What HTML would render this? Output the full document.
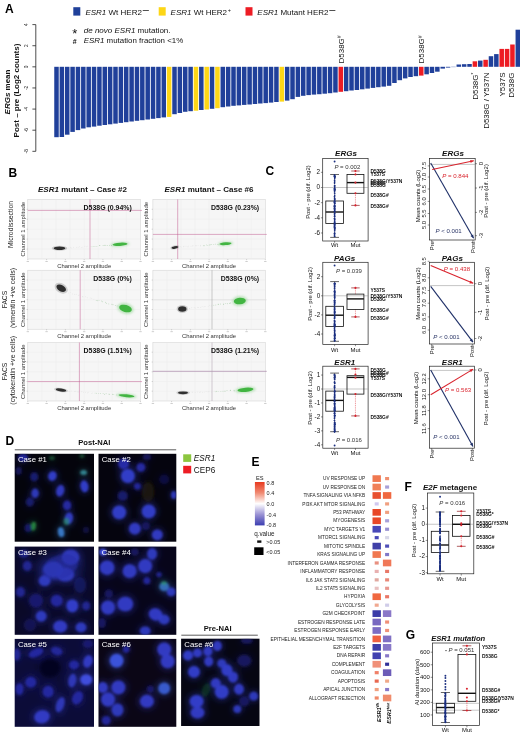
<!DOCTYPE html>
<html><head><meta charset="utf-8"><title>Figure</title>
<style>
html,body{margin:0;padding:0;background:#fff;}
body{width:520px;height:735px;overflow:hidden;}
svg{display:block;font-family:"Liberation Sans",sans-serif;filter:blur(0.35px);}
</style></head><body>
<svg width="520" height="735" viewBox="0 0 520 735">
<rect width="520" height="735" fill="#fff"/>
<g id="panelA">
<rect x="73.30" y="7.20" width="7.00" height="8.40" fill="#20409a" stroke="none" stroke-width="0.5"/>
<text x="85.4" y="15.1" font-size="8.0" text-anchor="start" font-weight="normal" font-style="normal" fill="#111"><tspan font-style="italic">ESR1</tspan> Wt HER2<tspan font-size="11" dy="-2.2" dx="0.8">–</tspan></text>
<rect x="158.70" y="7.20" width="7.00" height="8.40" fill="#fdd616" stroke="none" stroke-width="0.5"/>
<text x="170.6" y="15.1" font-size="8.0" text-anchor="start" font-weight="normal" font-style="normal" fill="#111"><tspan font-style="italic">ESR1</tspan> Wt HER2<tspan font-size="5.5" dy="-3" dx="0.8">+</tspan></text>
<rect x="245.50" y="7.20" width="7.00" height="8.40" fill="#ed1c24" stroke="none" stroke-width="0.5"/>
<text x="257.3" y="15.1" font-size="8.0" text-anchor="start" font-weight="normal" font-style="normal" fill="#111"><tspan font-style="italic">ESR1</tspan> Mutant HER2<tspan font-size="11" dy="-2.2" dx="0.8">–</tspan></text>
<text x="72.2" y="38.3" font-size="13" text-anchor="start" font-weight="normal" font-style="normal" fill="#111">*</text>
<text x="83.8" y="33" font-size="8" text-anchor="start" font-weight="normal" font-style="normal" fill="#111"><tspan font-style="italic">de novo ESR1</tspan> mutation.</text>
<text x="72.8" y="44" font-size="7" text-anchor="start" font-weight="bold" font-style="normal" fill="#111">#</text>
<text x="83.8" y="43.2" font-size="7.9" text-anchor="start" font-weight="normal" font-style="normal" fill="#111"><tspan font-style="italic">ESR1</tspan> mutation fraction &lt;1%</text>
<text x="5" y="13" font-size="12" text-anchor="start" font-weight="bold" font-style="normal" fill="#000">A</text>
<line x1="35.8" y1="24.6" x2="35.8" y2="151.3" stroke="#222" stroke-width="0.8"/>
<line x1="32.4" y1="24.6" x2="35.8" y2="24.6" stroke="#222" stroke-width="0.8"/>
<text x="27.7" y="24.6" font-size="4.8" text-anchor="middle" font-weight="normal" font-style="normal" fill="#222" transform="rotate(-90 27.7 24.6)">4</text>
<line x1="32.4" y1="45.72" x2="35.8" y2="45.72" stroke="#222" stroke-width="0.8"/>
<text x="27.7" y="45.72" font-size="4.8" text-anchor="middle" font-weight="normal" font-style="normal" fill="#222" transform="rotate(-90 27.7 45.72)">2</text>
<line x1="32.4" y1="66.84" x2="35.8" y2="66.84" stroke="#222" stroke-width="0.8"/>
<text x="27.7" y="66.84" font-size="4.8" text-anchor="middle" font-weight="normal" font-style="normal" fill="#222" transform="rotate(-90 27.7 66.84)">0</text>
<line x1="32.4" y1="87.96000000000001" x2="35.8" y2="87.96000000000001" stroke="#222" stroke-width="0.8"/>
<text x="27.7" y="87.96000000000001" font-size="4.8" text-anchor="middle" font-weight="normal" font-style="normal" fill="#222" transform="rotate(-90 27.7 87.96000000000001)">-2</text>
<line x1="32.4" y1="109.08000000000001" x2="35.8" y2="109.08000000000001" stroke="#222" stroke-width="0.8"/>
<text x="27.7" y="109.08000000000001" font-size="4.8" text-anchor="middle" font-weight="normal" font-style="normal" fill="#222" transform="rotate(-90 27.7 109.08000000000001)">-4</text>
<line x1="32.4" y1="130.20000000000002" x2="35.8" y2="130.20000000000002" stroke="#222" stroke-width="0.8"/>
<text x="27.7" y="130.20000000000002" font-size="4.8" text-anchor="middle" font-weight="normal" font-style="normal" fill="#222" transform="rotate(-90 27.7 130.20000000000002)">-6</text>
<line x1="32.4" y1="151.32" x2="35.8" y2="151.32" stroke="#222" stroke-width="0.8"/>
<text x="27.7" y="151.32" font-size="4.8" text-anchor="middle" font-weight="normal" font-style="normal" fill="#222" transform="rotate(-90 27.7 151.32)">-8</text>
<text x="9.6" y="92" font-size="8" text-anchor="middle" font-weight="bold" font-style="normal" fill="#111" transform="rotate(-90 9.6 92)"><tspan font-style="italic">ERGs</tspan> mean</text>
<text x="19" y="90.5" font-size="8" text-anchor="middle" font-weight="bold" font-style="normal" fill="#111" transform="rotate(-90 19 90.5)">Post – pre (Log2 counts)</text>
<rect x="54.25" y="66.80" width="4.50" height="70.40" fill="#20409a" stroke="none" stroke-width="0.5"/>
<rect x="59.61" y="66.80" width="4.50" height="70.20" fill="#20409a" stroke="none" stroke-width="0.5"/>
<rect x="64.98" y="66.80" width="4.50" height="67.90" fill="#20409a" stroke="none" stroke-width="0.5"/>
<rect x="70.34" y="66.80" width="4.50" height="65.10" fill="#20409a" stroke="none" stroke-width="0.5"/>
<rect x="75.71" y="66.80" width="4.50" height="63.30" fill="#20409a" stroke="none" stroke-width="0.5"/>
<rect x="81.07" y="66.80" width="4.50" height="61.70" fill="#20409a" stroke="none" stroke-width="0.5"/>
<rect x="86.43" y="66.80" width="4.50" height="60.50" fill="#20409a" stroke="none" stroke-width="0.5"/>
<rect x="91.80" y="66.80" width="4.50" height="59.80" fill="#20409a" stroke="none" stroke-width="0.5"/>
<rect x="97.16" y="66.80" width="4.50" height="58.90" fill="#20409a" stroke="none" stroke-width="0.5"/>
<rect x="102.53" y="66.80" width="4.50" height="58.20" fill="#20409a" stroke="none" stroke-width="0.5"/>
<rect x="107.89" y="66.80" width="4.50" height="57.50" fill="#20409a" stroke="none" stroke-width="0.5"/>
<rect x="113.25" y="66.80" width="4.50" height="56.80" fill="#20409a" stroke="none" stroke-width="0.5"/>
<rect x="118.62" y="66.80" width="4.50" height="56.10" fill="#20409a" stroke="none" stroke-width="0.5"/>
<rect x="123.98" y="66.80" width="4.50" height="55.40" fill="#20409a" stroke="none" stroke-width="0.5"/>
<rect x="129.35" y="66.80" width="4.50" height="54.70" fill="#20409a" stroke="none" stroke-width="0.5"/>
<rect x="134.71" y="66.80" width="4.50" height="54.00" fill="#20409a" stroke="none" stroke-width="0.5"/>
<rect x="140.07" y="66.80" width="4.50" height="53.40" fill="#20409a" stroke="none" stroke-width="0.5"/>
<rect x="145.44" y="66.80" width="4.50" height="52.70" fill="#20409a" stroke="none" stroke-width="0.5"/>
<rect x="150.80" y="66.80" width="4.50" height="52.00" fill="#20409a" stroke="none" stroke-width="0.5"/>
<rect x="156.17" y="66.80" width="4.50" height="51.30" fill="#20409a" stroke="none" stroke-width="0.5"/>
<rect x="161.53" y="66.80" width="4.50" height="50.60" fill="#20409a" stroke="none" stroke-width="0.5"/>
<rect x="166.89" y="66.80" width="4.50" height="50.10" fill="#fdd616" stroke="none" stroke-width="0.5"/>
<rect x="172.26" y="66.80" width="4.50" height="47.40" fill="#20409a" stroke="none" stroke-width="0.5"/>
<rect x="177.62" y="66.80" width="4.50" height="46.20" fill="#20409a" stroke="none" stroke-width="0.5"/>
<rect x="182.99" y="66.80" width="4.50" height="45.00" fill="#20409a" stroke="none" stroke-width="0.5"/>
<rect x="188.35" y="66.80" width="4.50" height="44.40" fill="#20409a" stroke="none" stroke-width="0.5"/>
<rect x="193.71" y="66.80" width="4.50" height="43.90" fill="#fdd616" stroke="none" stroke-width="0.5"/>
<rect x="199.08" y="66.80" width="4.50" height="43.20" fill="#20409a" stroke="none" stroke-width="0.5"/>
<rect x="204.44" y="66.80" width="4.50" height="42.70" fill="#fdd616" stroke="none" stroke-width="0.5"/>
<rect x="209.81" y="66.80" width="4.50" height="42.00" fill="#20409a" stroke="none" stroke-width="0.5"/>
<rect x="215.17" y="66.80" width="4.50" height="41.40" fill="#fdd616" stroke="none" stroke-width="0.5"/>
<rect x="220.53" y="66.80" width="4.50" height="40.40" fill="#20409a" stroke="none" stroke-width="0.5"/>
<rect x="225.90" y="66.80" width="4.50" height="39.70" fill="#20409a" stroke="none" stroke-width="0.5"/>
<rect x="231.26" y="66.80" width="4.50" height="39.00" fill="#20409a" stroke="none" stroke-width="0.5"/>
<rect x="236.63" y="66.80" width="4.50" height="38.60" fill="#20409a" stroke="none" stroke-width="0.5"/>
<rect x="241.99" y="66.80" width="4.50" height="38.10" fill="#20409a" stroke="none" stroke-width="0.5"/>
<rect x="247.35" y="66.80" width="4.50" height="37.70" fill="#20409a" stroke="none" stroke-width="0.5"/>
<rect x="252.72" y="66.80" width="4.50" height="37.20" fill="#20409a" stroke="none" stroke-width="0.5"/>
<rect x="258.08" y="66.80" width="4.50" height="36.70" fill="#20409a" stroke="none" stroke-width="0.5"/>
<rect x="263.45" y="66.80" width="4.50" height="36.30" fill="#20409a" stroke="none" stroke-width="0.5"/>
<rect x="268.81" y="66.80" width="4.50" height="35.80" fill="#20409a" stroke="none" stroke-width="0.5"/>
<rect x="274.17" y="66.80" width="4.50" height="35.20" fill="#20409a" stroke="none" stroke-width="0.5"/>
<rect x="279.54" y="66.80" width="4.50" height="34.80" fill="#fdd616" stroke="none" stroke-width="0.5"/>
<rect x="284.90" y="66.80" width="4.50" height="33.80" fill="#20409a" stroke="none" stroke-width="0.5"/>
<rect x="290.27" y="66.80" width="4.50" height="32.40" fill="#20409a" stroke="none" stroke-width="0.5"/>
<rect x="295.63" y="66.80" width="4.50" height="30.10" fill="#20409a" stroke="none" stroke-width="0.5"/>
<rect x="300.99" y="66.80" width="4.50" height="29.00" fill="#20409a" stroke="none" stroke-width="0.5"/>
<rect x="306.36" y="66.80" width="4.50" height="28.30" fill="#20409a" stroke="none" stroke-width="0.5"/>
<rect x="311.72" y="66.80" width="4.50" height="27.80" fill="#20409a" stroke="none" stroke-width="0.5"/>
<rect x="317.09" y="66.80" width="4.50" height="27.40" fill="#20409a" stroke="none" stroke-width="0.5"/>
<rect x="322.45" y="66.80" width="4.50" height="26.90" fill="#20409a" stroke="none" stroke-width="0.5"/>
<rect x="327.81" y="66.80" width="4.50" height="26.40" fill="#20409a" stroke="none" stroke-width="0.5"/>
<rect x="333.18" y="66.80" width="4.50" height="25.70" fill="#20409a" stroke="none" stroke-width="0.5"/>
<rect x="338.54" y="66.80" width="4.50" height="25.00" fill="#ed1c24" stroke="none" stroke-width="0.5"/>
<rect x="343.91" y="66.80" width="4.50" height="24.40" fill="#20409a" stroke="none" stroke-width="0.5"/>
<rect x="349.27" y="66.80" width="4.50" height="23.70" fill="#20409a" stroke="none" stroke-width="0.5"/>
<rect x="354.63" y="66.80" width="4.50" height="23.20" fill="#20409a" stroke="none" stroke-width="0.5"/>
<rect x="360.00" y="66.80" width="4.50" height="22.50" fill="#20409a" stroke="none" stroke-width="0.5"/>
<rect x="365.36" y="66.80" width="4.50" height="21.80" fill="#20409a" stroke="none" stroke-width="0.5"/>
<rect x="370.73" y="66.80" width="4.50" height="21.10" fill="#20409a" stroke="none" stroke-width="0.5"/>
<rect x="376.09" y="66.80" width="4.50" height="20.40" fill="#20409a" stroke="none" stroke-width="0.5"/>
<rect x="381.45" y="66.80" width="4.50" height="19.80" fill="#20409a" stroke="none" stroke-width="0.5"/>
<rect x="386.82" y="66.80" width="4.50" height="19.00" fill="#20409a" stroke="none" stroke-width="0.5"/>
<rect x="392.18" y="66.80" width="4.50" height="16.20" fill="#20409a" stroke="none" stroke-width="0.5"/>
<rect x="397.55" y="66.80" width="4.50" height="13.40" fill="#20409a" stroke="none" stroke-width="0.5"/>
<rect x="402.91" y="66.80" width="4.50" height="11.60" fill="#20409a" stroke="none" stroke-width="0.5"/>
<rect x="408.27" y="66.80" width="4.50" height="10.20" fill="#20409a" stroke="none" stroke-width="0.5"/>
<rect x="413.64" y="66.80" width="4.50" height="9.40" fill="#20409a" stroke="none" stroke-width="0.5"/>
<rect x="419.00" y="66.80" width="4.50" height="8.80" fill="#ed1c24" stroke="none" stroke-width="0.5"/>
<rect x="424.37" y="66.80" width="4.50" height="7.50" fill="#20409a" stroke="none" stroke-width="0.5"/>
<rect x="429.73" y="66.80" width="4.50" height="6.20" fill="#20409a" stroke="none" stroke-width="0.5"/>
<rect x="435.09" y="66.80" width="4.50" height="4.90" fill="#20409a" stroke="none" stroke-width="0.5"/>
<rect x="440.46" y="66.80" width="4.50" height="1.80" fill="#20409a" stroke="none" stroke-width="0.5"/>
<rect x="445.82" y="66.80" width="4.50" height="0.80" fill="#20409a" stroke="none" stroke-width="0.5"/>
<rect x="451.19" y="66.80" width="4.50" height="0.30" fill="#20409a" stroke="none" stroke-width="0.5"/>
<rect x="456.55" y="64.50" width="4.50" height="2.30" fill="#20409a" stroke="none" stroke-width="0.5"/>
<rect x="461.91" y="64.20" width="4.50" height="2.60" fill="#20409a" stroke="none" stroke-width="0.5"/>
<rect x="467.28" y="64.00" width="4.50" height="2.80" fill="#20409a" stroke="none" stroke-width="0.5"/>
<rect x="472.64" y="61.30" width="4.50" height="5.50" fill="#ed1c24" stroke="none" stroke-width="0.5"/>
<rect x="478.01" y="60.60" width="4.50" height="6.20" fill="#20409a" stroke="none" stroke-width="0.5"/>
<rect x="483.37" y="59.80" width="4.50" height="7.00" fill="#ed1c24" stroke="none" stroke-width="0.5"/>
<rect x="488.73" y="56.20" width="4.50" height="10.60" fill="#20409a" stroke="none" stroke-width="0.5"/>
<rect x="494.10" y="54.10" width="4.50" height="12.70" fill="#20409a" stroke="none" stroke-width="0.5"/>
<rect x="499.46" y="48.90" width="4.50" height="17.90" fill="#ed1c24" stroke="none" stroke-width="0.5"/>
<rect x="504.83" y="48.90" width="4.50" height="17.90" fill="#ed1c24" stroke="none" stroke-width="0.5"/>
<rect x="510.19" y="44.50" width="4.50" height="22.30" fill="#ed1c24" stroke="none" stroke-width="0.5"/>
<rect x="515.55" y="29.70" width="4.50" height="37.10" fill="#20409a" stroke="none" stroke-width="0.5"/>
<text x="343.592" y="63.5" font-size="8" text-anchor="start" font-weight="normal" font-style="normal" fill="#111" transform="rotate(-90 343.592 63.5)">D538G<tspan font-size="5" dy="-2.5">#</tspan></text>
<text x="424.052" y="63.5" font-size="8" text-anchor="start" font-weight="normal" font-style="normal" fill="#111" transform="rotate(-90 424.052 63.5)">D538G<tspan font-size="5" dy="-2.5">#</tspan></text>
<text x="477.692" y="72.5" font-size="8" text-anchor="end" font-weight="normal" font-style="normal" fill="#111" transform="rotate(-90 477.692 72.5)">D538G<tspan font-size="5" dy="-2.5">*</tspan></text>
<text x="488.92" y="72.5" font-size="8" text-anchor="end" font-weight="normal" font-style="normal" fill="#111" transform="rotate(-90 488.92 72.5)">D538G / Y537N</text>
<text x="505.012" y="72.5" font-size="8" text-anchor="end" font-weight="normal" font-style="normal" fill="#111" transform="rotate(-90 505.012 72.5)">Y537S</text>
<text x="513.94" y="72.5" font-size="8" text-anchor="end" font-weight="normal" font-style="normal" fill="#111" transform="rotate(-90 513.94 72.5)">D538G</text>
</g>
<g id="panelB">
<defs><filter id="b1" x="-30%" y="-30%" width="160%" height="160%"><feGaussianBlur stdDeviation="0.45"/></filter><filter id="b2" x="-30%" y="-30%" width="160%" height="160%"><feGaussianBlur stdDeviation="0.9"/></filter></defs>
<text x="8.5" y="177.4" font-size="12" text-anchor="start" font-weight="bold" font-style="normal" fill="#000">B</text>
<text x="82.5" y="192.3" font-size="8" text-anchor="middle" font-weight="bold" font-style="normal" fill="#111"><tspan font-style="italic">ESR1</tspan> mutant – Case #2</text>
<text x="209" y="192.3" font-size="8" text-anchor="middle" font-weight="bold" font-style="normal" fill="#111"><tspan font-style="italic">ESR1</tspan> mutant – Case #6</text>
<text x="13.3" y="224.5" font-size="6.85" text-anchor="middle" font-weight="normal" font-style="normal" fill="#222" transform="rotate(-90 13.3 224.5)">Microdissection</text>
<text x="6.9" y="299.6" font-size="6.7" text-anchor="middle" font-weight="normal" font-style="normal" fill="#222" transform="rotate(-90 6.9 299.6)">FACS</text>
<text x="15.3" y="298" font-size="7.0" text-anchor="middle" font-weight="normal" font-style="normal" fill="#222" transform="rotate(-90 15.3 298)">(vimentin +ve cells)</text>
<text x="6.9" y="371.5" font-size="6.7" text-anchor="middle" font-weight="normal" font-style="normal" fill="#222" transform="rotate(-90 6.9 371.5)">FACS</text>
<text x="15.3" y="370.3" font-size="7.1" text-anchor="middle" font-weight="normal" font-style="normal" fill="#222" transform="rotate(-90 15.3 370.3)">(cytokeratin +ve cells)</text>
<rect x="27.80" y="199.40" width="112.70" height="59.60" fill="#f6f6f6" stroke="#cfcfcf" stroke-width="0.5"/>
<line x1="41.9" y1="199.4" x2="41.9" y2="259.0" stroke="#ececec" stroke-width="0.4"/>
<line x1="56.0" y1="199.4" x2="56.0" y2="259.0" stroke="#ececec" stroke-width="0.4"/>
<line x1="70.1" y1="199.4" x2="70.1" y2="259.0" stroke="#ececec" stroke-width="0.4"/>
<line x1="84.2" y1="199.4" x2="84.2" y2="259.0" stroke="#ececec" stroke-width="0.4"/>
<line x1="98.2" y1="199.4" x2="98.2" y2="259.0" stroke="#ececec" stroke-width="0.4"/>
<line x1="112.3" y1="199.4" x2="112.3" y2="259.0" stroke="#ececec" stroke-width="0.4"/>
<line x1="126.4" y1="199.4" x2="126.4" y2="259.0" stroke="#ececec" stroke-width="0.4"/>
<line x1="27.8" y1="209.3" x2="140.5" y2="209.3" stroke="#ececec" stroke-width="0.4"/>
<line x1="26.6" y1="209.3" x2="27.8" y2="209.3" stroke="#999" stroke-width="0.4"/>
<line x1="27.8" y1="219.3" x2="140.5" y2="219.3" stroke="#ececec" stroke-width="0.4"/>
<line x1="26.6" y1="219.3" x2="27.8" y2="219.3" stroke="#999" stroke-width="0.4"/>
<line x1="27.8" y1="229.2" x2="140.5" y2="229.2" stroke="#ececec" stroke-width="0.4"/>
<line x1="26.6" y1="229.2" x2="27.8" y2="229.2" stroke="#999" stroke-width="0.4"/>
<line x1="27.8" y1="239.1" x2="140.5" y2="239.1" stroke="#ececec" stroke-width="0.4"/>
<line x1="26.6" y1="239.1" x2="27.8" y2="239.1" stroke="#999" stroke-width="0.4"/>
<line x1="27.8" y1="249.1" x2="140.5" y2="249.1" stroke="#ececec" stroke-width="0.4"/>
<line x1="26.6" y1="249.1" x2="27.8" y2="249.1" stroke="#999" stroke-width="0.4"/>
<line x1="27.8" y1="259.0" x2="27.8" y2="260.2" stroke="#999" stroke-width="0.4"/>
<rect x="26.60" y="261.20" width="2.40" height="0.70" fill="#bbb" stroke="none" stroke-width="0.5"/>
<line x1="46.6" y1="259.0" x2="46.6" y2="260.2" stroke="#999" stroke-width="0.4"/>
<rect x="45.38" y="261.20" width="2.40" height="0.70" fill="#bbb" stroke="none" stroke-width="0.5"/>
<line x1="65.4" y1="259.0" x2="65.4" y2="260.2" stroke="#999" stroke-width="0.4"/>
<rect x="64.17" y="261.20" width="2.40" height="0.70" fill="#bbb" stroke="none" stroke-width="0.5"/>
<line x1="84.2" y1="259.0" x2="84.2" y2="260.2" stroke="#999" stroke-width="0.4"/>
<rect x="82.95" y="261.20" width="2.40" height="0.70" fill="#bbb" stroke="none" stroke-width="0.5"/>
<line x1="102.9" y1="259.0" x2="102.9" y2="260.2" stroke="#999" stroke-width="0.4"/>
<rect x="101.73" y="261.20" width="2.40" height="0.70" fill="#bbb" stroke="none" stroke-width="0.5"/>
<line x1="121.7" y1="259.0" x2="121.7" y2="260.2" stroke="#999" stroke-width="0.4"/>
<rect x="120.52" y="261.20" width="2.40" height="0.70" fill="#bbb" stroke="none" stroke-width="0.5"/>
<line x1="140.5" y1="259.0" x2="140.5" y2="260.2" stroke="#999" stroke-width="0.4"/>
<rect x="139.30" y="261.20" width="2.40" height="0.70" fill="#bbb" stroke="none" stroke-width="0.5"/>
<line x1="27.8" y1="210.4" x2="142.0" y2="210.4" stroke="#c0588f" stroke-width="0.5"/>
<line x1="90" y1="199.4" x2="90" y2="259.0" stroke="#c0588f" stroke-width="0.5"/>
<g filter="url(#b1)"><circle cx="66.4" cy="248.0" r="0.45" fill="#bdbdbd" opacity="0.35"/><circle cx="68.4" cy="247.9" r="0.45" fill="#bdbdbd" opacity="0.35"/><circle cx="70.6" cy="247.3" r="0.45" fill="#bdbdbd" opacity="0.35"/><circle cx="71.3" cy="248.0" r="0.45" fill="#bdbdbd" opacity="0.35"/><circle cx="73.5" cy="247.2" r="0.45" fill="#bdbdbd" opacity="0.35"/><circle cx="76.6" cy="247.3" r="0.45" fill="#bdbdbd" opacity="0.35"/><circle cx="78.1" cy="247.2" r="0.45" fill="#bdbdbd" opacity="0.35"/><circle cx="79.5" cy="246.8" r="0.45" fill="#bdbdbd" opacity="0.35"/><circle cx="81.3" cy="247.4" r="0.45" fill="#bdbdbd" opacity="0.35"/><circle cx="82.8" cy="247.1" r="0.45" fill="#bdbdbd" opacity="0.35"/><circle cx="84.9" cy="246.3" r="0.45" fill="#bdbdbd" opacity="0.35"/><circle cx="86.8" cy="246.7" r="0.45" fill="#bdbdbd" opacity="0.35"/><circle cx="87.8" cy="246.1" r="0.45" fill="#bdbdbd" opacity="0.35"/><circle cx="90.5" cy="246.4" r="0.45" fill="#bdbdbd" opacity="0.35"/><circle cx="92.0" cy="246.7" r="0.45" fill="#8fbf8f" opacity="0.63"/><circle cx="93.8" cy="246.6" r="0.45" fill="#8fbf8f" opacity="0.65"/><circle cx="95.0" cy="246.4" r="0.45" fill="#8fbf8f" opacity="0.67"/><circle cx="96.9" cy="246.4" r="0.45" fill="#8fbf8f" opacity="0.69"/><circle cx="99.4" cy="245.4" r="0.45" fill="#8fbf8f" opacity="0.71"/><circle cx="99.9" cy="245.5" r="0.45" fill="#8fbf8f" opacity="0.72"/><circle cx="103.1" cy="245.5" r="0.45" fill="#8fbf8f" opacity="0.75"/><circle cx="104.3" cy="245.3" r="0.45" fill="#8fbf8f" opacity="0.77"/><circle cx="105.8" cy="245.3" r="0.45" fill="#8fbf8f" opacity="0.78"/><circle cx="107.3" cy="245.4" r="0.45" fill="#8fbf8f" opacity="0.80"/><circle cx="109.5" cy="245.6" r="0.45" fill="#8fbf8f" opacity="0.82"/><circle cx="111.4" cy="245.5" r="0.45" fill="#8fbf8f" opacity="0.84"/></g>
<g filter="url(#b1)"><ellipse cx="59.5" cy="248.2" rx="5.8" ry="1.7" fill="#1a1a1a" opacity="0.95" transform="rotate(0 59.5 248.2)"/><ellipse cx="59.5" cy="248.2" rx="7.83" ry="2.55" fill="#555" opacity="0.25" transform="rotate(0 59.5 248.2)"/></g>
<g filter="url(#b2)"><ellipse cx="120" cy="244.3" rx="9.75" ry="2.4000000000000004" fill="#5cc45c" opacity="0.35" transform="rotate(-4 120 244.3)"/></g>
<g filter="url(#b1)"><ellipse cx="120" cy="244.3" rx="7.5" ry="1.6" fill="#35b035" opacity="0.9" transform="rotate(-4 120 244.3)"/></g>
<text x="131.8" y="209.70000000000002" font-size="6.95" text-anchor="end" font-weight="bold" font-style="normal" fill="#111">D538G (0.94%)</text>
<text x="84.15" y="267.6" font-size="5.9" text-anchor="middle" font-weight="normal" font-style="normal" fill="#333">Channel 2 amplitude</text>
<text x="24.6" y="229.2" font-size="5.95" text-anchor="middle" font-weight="normal" font-style="normal" fill="#333" transform="rotate(-90 24.6 229.2)">Channel 1 amplitude</text>
<rect x="27.80" y="270.20" width="112.70" height="59.00" fill="#f6f6f6" stroke="#cfcfcf" stroke-width="0.5"/>
<line x1="41.9" y1="270.2" x2="41.9" y2="329.2" stroke="#ececec" stroke-width="0.4"/>
<line x1="56.0" y1="270.2" x2="56.0" y2="329.2" stroke="#ececec" stroke-width="0.4"/>
<line x1="70.1" y1="270.2" x2="70.1" y2="329.2" stroke="#ececec" stroke-width="0.4"/>
<line x1="84.2" y1="270.2" x2="84.2" y2="329.2" stroke="#ececec" stroke-width="0.4"/>
<line x1="98.2" y1="270.2" x2="98.2" y2="329.2" stroke="#ececec" stroke-width="0.4"/>
<line x1="112.3" y1="270.2" x2="112.3" y2="329.2" stroke="#ececec" stroke-width="0.4"/>
<line x1="126.4" y1="270.2" x2="126.4" y2="329.2" stroke="#ececec" stroke-width="0.4"/>
<line x1="27.8" y1="280.0" x2="140.5" y2="280.0" stroke="#ececec" stroke-width="0.4"/>
<line x1="26.6" y1="280.0" x2="27.8" y2="280.0" stroke="#999" stroke-width="0.4"/>
<line x1="27.8" y1="289.9" x2="140.5" y2="289.9" stroke="#ececec" stroke-width="0.4"/>
<line x1="26.6" y1="289.9" x2="27.8" y2="289.9" stroke="#999" stroke-width="0.4"/>
<line x1="27.8" y1="299.7" x2="140.5" y2="299.7" stroke="#ececec" stroke-width="0.4"/>
<line x1="26.6" y1="299.7" x2="27.8" y2="299.7" stroke="#999" stroke-width="0.4"/>
<line x1="27.8" y1="309.5" x2="140.5" y2="309.5" stroke="#ececec" stroke-width="0.4"/>
<line x1="26.6" y1="309.5" x2="27.8" y2="309.5" stroke="#999" stroke-width="0.4"/>
<line x1="27.8" y1="319.4" x2="140.5" y2="319.4" stroke="#ececec" stroke-width="0.4"/>
<line x1="26.6" y1="319.4" x2="27.8" y2="319.4" stroke="#999" stroke-width="0.4"/>
<line x1="27.8" y1="329.2" x2="27.8" y2="330.4" stroke="#999" stroke-width="0.4"/>
<rect x="26.60" y="331.40" width="2.40" height="0.70" fill="#bbb" stroke="none" stroke-width="0.5"/>
<line x1="46.6" y1="329.2" x2="46.6" y2="330.4" stroke="#999" stroke-width="0.4"/>
<rect x="45.38" y="331.40" width="2.40" height="0.70" fill="#bbb" stroke="none" stroke-width="0.5"/>
<line x1="65.4" y1="329.2" x2="65.4" y2="330.4" stroke="#999" stroke-width="0.4"/>
<rect x="64.17" y="331.40" width="2.40" height="0.70" fill="#bbb" stroke="none" stroke-width="0.5"/>
<line x1="84.2" y1="329.2" x2="84.2" y2="330.4" stroke="#999" stroke-width="0.4"/>
<rect x="82.95" y="331.40" width="2.40" height="0.70" fill="#bbb" stroke="none" stroke-width="0.5"/>
<line x1="102.9" y1="329.2" x2="102.9" y2="330.4" stroke="#999" stroke-width="0.4"/>
<rect x="101.73" y="331.40" width="2.40" height="0.70" fill="#bbb" stroke="none" stroke-width="0.5"/>
<line x1="121.7" y1="329.2" x2="121.7" y2="330.4" stroke="#999" stroke-width="0.4"/>
<rect x="120.52" y="331.40" width="2.40" height="0.70" fill="#bbb" stroke="none" stroke-width="0.5"/>
<line x1="140.5" y1="329.2" x2="140.5" y2="330.4" stroke="#999" stroke-width="0.4"/>
<rect x="139.30" y="331.40" width="2.40" height="0.70" fill="#bbb" stroke="none" stroke-width="0.5"/>
<line x1="80.2" y1="270.2" x2="80.2" y2="329.2" stroke="#c0588f" stroke-width="0.5"/>
<g filter="url(#b1)"><circle cx="68.7" cy="293.0" r="0.45" fill="#bdbdbd" opacity="0.35"/><circle cx="70.3" cy="292.6" r="0.45" fill="#bdbdbd" opacity="0.35"/><circle cx="72.6" cy="294.0" r="0.45" fill="#bdbdbd" opacity="0.35"/><circle cx="74.7" cy="294.2" r="0.45" fill="#bdbdbd" opacity="0.35"/><circle cx="76.2" cy="294.2" r="0.45" fill="#bdbdbd" opacity="0.35"/><circle cx="78.4" cy="295.2" r="0.45" fill="#bdbdbd" opacity="0.35"/><circle cx="79.3" cy="294.9" r="0.45" fill="#bdbdbd" opacity="0.35"/><circle cx="82.4" cy="296.7" r="0.45" fill="#bdbdbd" opacity="0.35"/><circle cx="82.9" cy="296.7" r="0.45" fill="#bdbdbd" opacity="0.35"/><circle cx="85.5" cy="296.7" r="0.45" fill="#bdbdbd" opacity="0.35"/><circle cx="87.2" cy="297.8" r="0.45" fill="#bdbdbd" opacity="0.35"/><circle cx="90.3" cy="297.9" r="0.45" fill="#bdbdbd" opacity="0.35"/><circle cx="91.7" cy="298.3" r="0.45" fill="#bdbdbd" opacity="0.35"/><circle cx="93.9" cy="299.2" r="0.45" fill="#bdbdbd" opacity="0.35"/><circle cx="96.2" cy="300.5" r="0.45" fill="#8fbf8f" opacity="0.64"/><circle cx="97.4" cy="300.8" r="0.45" fill="#8fbf8f" opacity="0.65"/><circle cx="99.0" cy="300.4" r="0.45" fill="#8fbf8f" opacity="0.66"/><circle cx="101.5" cy="301.0" r="0.45" fill="#8fbf8f" opacity="0.69"/><circle cx="102.7" cy="301.7" r="0.45" fill="#8fbf8f" opacity="0.70"/><circle cx="105.5" cy="302.2" r="0.45" fill="#8fbf8f" opacity="0.73"/><circle cx="106.3" cy="303.2" r="0.45" fill="#8fbf8f" opacity="0.74"/><circle cx="108.8" cy="303.9" r="0.45" fill="#8fbf8f" opacity="0.76"/><circle cx="111.9" cy="304.2" r="0.45" fill="#8fbf8f" opacity="0.79"/><circle cx="113.0" cy="304.7" r="0.45" fill="#8fbf8f" opacity="0.80"/><circle cx="115.3" cy="305.4" r="0.45" fill="#8fbf8f" opacity="0.82"/><circle cx="117.1" cy="305.9" r="0.45" fill="#8fbf8f" opacity="0.84"/></g>
<g filter="url(#b1)"><ellipse cx="61.2" cy="288.2" rx="5.2" ry="3.2" fill="#1a1a1a" opacity="0.95" transform="rotate(30 61.2 288.2)"/><ellipse cx="61.2" cy="288.2" rx="7.0200000000000005" ry="4.800000000000001" fill="#555" opacity="0.25" transform="rotate(30 61.2 288.2)"/></g>
<g filter="url(#b2)"><ellipse cx="125.5" cy="308.5" rx="8.450000000000001" ry="5.4" fill="#5cc45c" opacity="0.35" transform="rotate(15 125.5 308.5)"/></g>
<g filter="url(#b1)"><ellipse cx="125.5" cy="308.5" rx="6.5" ry="3.6" fill="#35b035" opacity="0.9" transform="rotate(15 125.5 308.5)"/></g>
<text x="131.8" y="280.5" font-size="6.95" text-anchor="end" font-weight="bold" font-style="normal" fill="#111">D538G (0%)</text>
<text x="84.15" y="337.8" font-size="5.9" text-anchor="middle" font-weight="normal" font-style="normal" fill="#333">Channel 2 amplitude</text>
<text x="24.6" y="299.7" font-size="5.95" text-anchor="middle" font-weight="normal" font-style="normal" fill="#333" transform="rotate(-90 24.6 299.7)">Channel 1 amplitude</text>
<rect x="27.80" y="342.50" width="112.70" height="58.50" fill="#f6f6f6" stroke="#cfcfcf" stroke-width="0.5"/>
<line x1="41.9" y1="342.5" x2="41.9" y2="401.0" stroke="#ececec" stroke-width="0.4"/>
<line x1="56.0" y1="342.5" x2="56.0" y2="401.0" stroke="#ececec" stroke-width="0.4"/>
<line x1="70.1" y1="342.5" x2="70.1" y2="401.0" stroke="#ececec" stroke-width="0.4"/>
<line x1="84.2" y1="342.5" x2="84.2" y2="401.0" stroke="#ececec" stroke-width="0.4"/>
<line x1="98.2" y1="342.5" x2="98.2" y2="401.0" stroke="#ececec" stroke-width="0.4"/>
<line x1="112.3" y1="342.5" x2="112.3" y2="401.0" stroke="#ececec" stroke-width="0.4"/>
<line x1="126.4" y1="342.5" x2="126.4" y2="401.0" stroke="#ececec" stroke-width="0.4"/>
<line x1="27.8" y1="352.2" x2="140.5" y2="352.2" stroke="#ececec" stroke-width="0.4"/>
<line x1="26.6" y1="352.2" x2="27.8" y2="352.2" stroke="#999" stroke-width="0.4"/>
<line x1="27.8" y1="362.0" x2="140.5" y2="362.0" stroke="#ececec" stroke-width="0.4"/>
<line x1="26.6" y1="362.0" x2="27.8" y2="362.0" stroke="#999" stroke-width="0.4"/>
<line x1="27.8" y1="371.8" x2="140.5" y2="371.8" stroke="#ececec" stroke-width="0.4"/>
<line x1="26.6" y1="371.8" x2="27.8" y2="371.8" stroke="#999" stroke-width="0.4"/>
<line x1="27.8" y1="381.5" x2="140.5" y2="381.5" stroke="#ececec" stroke-width="0.4"/>
<line x1="26.6" y1="381.5" x2="27.8" y2="381.5" stroke="#999" stroke-width="0.4"/>
<line x1="27.8" y1="391.2" x2="140.5" y2="391.2" stroke="#ececec" stroke-width="0.4"/>
<line x1="26.6" y1="391.2" x2="27.8" y2="391.2" stroke="#999" stroke-width="0.4"/>
<line x1="27.8" y1="401.0" x2="27.8" y2="402.2" stroke="#999" stroke-width="0.4"/>
<rect x="26.60" y="403.20" width="2.40" height="0.70" fill="#bbb" stroke="none" stroke-width="0.5"/>
<line x1="46.6" y1="401.0" x2="46.6" y2="402.2" stroke="#999" stroke-width="0.4"/>
<rect x="45.38" y="403.20" width="2.40" height="0.70" fill="#bbb" stroke="none" stroke-width="0.5"/>
<line x1="65.4" y1="401.0" x2="65.4" y2="402.2" stroke="#999" stroke-width="0.4"/>
<rect x="64.17" y="403.20" width="2.40" height="0.70" fill="#bbb" stroke="none" stroke-width="0.5"/>
<line x1="84.2" y1="401.0" x2="84.2" y2="402.2" stroke="#999" stroke-width="0.4"/>
<rect x="82.95" y="403.20" width="2.40" height="0.70" fill="#bbb" stroke="none" stroke-width="0.5"/>
<line x1="102.9" y1="401.0" x2="102.9" y2="402.2" stroke="#999" stroke-width="0.4"/>
<rect x="101.73" y="403.20" width="2.40" height="0.70" fill="#bbb" stroke="none" stroke-width="0.5"/>
<line x1="121.7" y1="401.0" x2="121.7" y2="402.2" stroke="#999" stroke-width="0.4"/>
<rect x="120.52" y="403.20" width="2.40" height="0.70" fill="#bbb" stroke="none" stroke-width="0.5"/>
<line x1="140.5" y1="401.0" x2="140.5" y2="402.2" stroke="#999" stroke-width="0.4"/>
<rect x="139.30" y="403.20" width="2.40" height="0.70" fill="#bbb" stroke="none" stroke-width="0.5"/>
<line x1="27.8" y1="381.6" x2="142.0" y2="381.6" stroke="#c0588f" stroke-width="0.5"/>
<line x1="79.4" y1="342.5" x2="79.4" y2="401.0" stroke="#c0588f" stroke-width="0.5"/>
<g filter="url(#b1)"><circle cx="68.8" cy="391.2" r="0.45" fill="#bdbdbd" opacity="0.35"/><circle cx="69.8" cy="391.4" r="0.45" fill="#bdbdbd" opacity="0.35"/><circle cx="71.3" cy="391.1" r="0.45" fill="#bdbdbd" opacity="0.35"/><circle cx="74.6" cy="391.6" r="0.45" fill="#bdbdbd" opacity="0.35"/><circle cx="75.7" cy="391.2" r="0.45" fill="#bdbdbd" opacity="0.35"/><circle cx="77.4" cy="391.9" r="0.45" fill="#bdbdbd" opacity="0.35"/><circle cx="78.6" cy="392.0" r="0.45" fill="#bdbdbd" opacity="0.35"/><circle cx="81.7" cy="391.7" r="0.45" fill="#bdbdbd" opacity="0.35"/><circle cx="83.6" cy="392.3" r="0.45" fill="#bdbdbd" opacity="0.35"/><circle cx="85.6" cy="392.3" r="0.45" fill="#bdbdbd" opacity="0.35"/><circle cx="87.6" cy="392.9" r="0.45" fill="#bdbdbd" opacity="0.35"/><circle cx="88.2" cy="392.3" r="0.45" fill="#bdbdbd" opacity="0.35"/><circle cx="91.4" cy="393.4" r="0.45" fill="#bdbdbd" opacity="0.35"/><circle cx="92.5" cy="393.0" r="0.45" fill="#bdbdbd" opacity="0.35"/><circle cx="95.1" cy="393.1" r="0.45" fill="#8fbf8f" opacity="0.63"/><circle cx="96.5" cy="393.2" r="0.45" fill="#8fbf8f" opacity="0.65"/><circle cx="98.5" cy="393.6" r="0.45" fill="#8fbf8f" opacity="0.66"/><circle cx="100.3" cy="393.5" r="0.45" fill="#8fbf8f" opacity="0.68"/><circle cx="103.1" cy="393.4" r="0.45" fill="#8fbf8f" opacity="0.71"/><circle cx="104.6" cy="394.2" r="0.45" fill="#8fbf8f" opacity="0.73"/><circle cx="106.1" cy="393.8" r="0.45" fill="#8fbf8f" opacity="0.74"/><circle cx="108.9" cy="394.1" r="0.45" fill="#8fbf8f" opacity="0.77"/><circle cx="109.7" cy="394.3" r="0.45" fill="#8fbf8f" opacity="0.78"/><circle cx="112.6" cy="394.2" r="0.45" fill="#8fbf8f" opacity="0.81"/><circle cx="113.8" cy="394.6" r="0.45" fill="#8fbf8f" opacity="0.82"/><circle cx="116.7" cy="394.9" r="0.45" fill="#8fbf8f" opacity="0.85"/></g>
<g filter="url(#b1)"><ellipse cx="61" cy="390" rx="5.2" ry="1.4" fill="#1a1a1a" opacity="0.95" transform="rotate(8 61 390)"/><ellipse cx="61" cy="390" rx="7.0200000000000005" ry="2.0999999999999996" fill="#555" opacity="0.25" transform="rotate(8 61 390)"/></g>
<g filter="url(#b2)"><ellipse cx="126.5" cy="395.8" rx="10.4" ry="2.25" fill="#5cc45c" opacity="0.35" transform="rotate(5 126.5 395.8)"/></g>
<g filter="url(#b1)"><ellipse cx="126.5" cy="395.8" rx="8" ry="1.5" fill="#35b035" opacity="0.9" transform="rotate(5 126.5 395.8)"/></g>
<text x="131.8" y="352.8" font-size="6.95" text-anchor="end" font-weight="bold" font-style="normal" fill="#111">D538G (1.51%)</text>
<text x="84.15" y="409.6" font-size="5.9" text-anchor="middle" font-weight="normal" font-style="normal" fill="#333">Channel 2 amplitude</text>
<text x="24.6" y="371.75" font-size="5.95" text-anchor="middle" font-weight="normal" font-style="normal" fill="#333" transform="rotate(-90 24.6 371.75)">Channel 1 amplitude</text>
<rect x="152.90" y="199.40" width="112.40" height="59.60" fill="#f6f6f6" stroke="#cfcfcf" stroke-width="0.5"/>
<line x1="167.0" y1="199.4" x2="167.0" y2="259.0" stroke="#ececec" stroke-width="0.4"/>
<line x1="181.0" y1="199.4" x2="181.0" y2="259.0" stroke="#ececec" stroke-width="0.4"/>
<line x1="195.1" y1="199.4" x2="195.1" y2="259.0" stroke="#ececec" stroke-width="0.4"/>
<line x1="209.1" y1="199.4" x2="209.1" y2="259.0" stroke="#ececec" stroke-width="0.4"/>
<line x1="223.2" y1="199.4" x2="223.2" y2="259.0" stroke="#ececec" stroke-width="0.4"/>
<line x1="237.2" y1="199.4" x2="237.2" y2="259.0" stroke="#ececec" stroke-width="0.4"/>
<line x1="251.2" y1="199.4" x2="251.2" y2="259.0" stroke="#ececec" stroke-width="0.4"/>
<line x1="152.9" y1="209.3" x2="265.3" y2="209.3" stroke="#ececec" stroke-width="0.4"/>
<line x1="151.70000000000002" y1="209.3" x2="152.9" y2="209.3" stroke="#999" stroke-width="0.4"/>
<line x1="152.9" y1="219.3" x2="265.3" y2="219.3" stroke="#ececec" stroke-width="0.4"/>
<line x1="151.70000000000002" y1="219.3" x2="152.9" y2="219.3" stroke="#999" stroke-width="0.4"/>
<line x1="152.9" y1="229.2" x2="265.3" y2="229.2" stroke="#ececec" stroke-width="0.4"/>
<line x1="151.70000000000002" y1="229.2" x2="152.9" y2="229.2" stroke="#999" stroke-width="0.4"/>
<line x1="152.9" y1="239.1" x2="265.3" y2="239.1" stroke="#ececec" stroke-width="0.4"/>
<line x1="151.70000000000002" y1="239.1" x2="152.9" y2="239.1" stroke="#999" stroke-width="0.4"/>
<line x1="152.9" y1="249.1" x2="265.3" y2="249.1" stroke="#ececec" stroke-width="0.4"/>
<line x1="151.70000000000002" y1="249.1" x2="152.9" y2="249.1" stroke="#999" stroke-width="0.4"/>
<line x1="152.9" y1="259.0" x2="152.9" y2="260.2" stroke="#999" stroke-width="0.4"/>
<rect x="151.70" y="261.20" width="2.40" height="0.70" fill="#bbb" stroke="none" stroke-width="0.5"/>
<line x1="171.6" y1="259.0" x2="171.6" y2="260.2" stroke="#999" stroke-width="0.4"/>
<rect x="170.43" y="261.20" width="2.40" height="0.70" fill="#bbb" stroke="none" stroke-width="0.5"/>
<line x1="190.4" y1="259.0" x2="190.4" y2="260.2" stroke="#999" stroke-width="0.4"/>
<rect x="189.17" y="261.20" width="2.40" height="0.70" fill="#bbb" stroke="none" stroke-width="0.5"/>
<line x1="209.1" y1="259.0" x2="209.1" y2="260.2" stroke="#999" stroke-width="0.4"/>
<rect x="207.90" y="261.20" width="2.40" height="0.70" fill="#bbb" stroke="none" stroke-width="0.5"/>
<line x1="227.8" y1="259.0" x2="227.8" y2="260.2" stroke="#999" stroke-width="0.4"/>
<rect x="226.63" y="261.20" width="2.40" height="0.70" fill="#bbb" stroke="none" stroke-width="0.5"/>
<line x1="246.6" y1="259.0" x2="246.6" y2="260.2" stroke="#999" stroke-width="0.4"/>
<rect x="245.37" y="261.20" width="2.40" height="0.70" fill="#bbb" stroke="none" stroke-width="0.5"/>
<line x1="265.3" y1="259.0" x2="265.3" y2="260.2" stroke="#999" stroke-width="0.4"/>
<rect x="264.10" y="261.20" width="2.40" height="0.70" fill="#bbb" stroke="none" stroke-width="0.5"/>
<line x1="152.9" y1="234.4" x2="266.8" y2="234.4" stroke="#c0588f" stroke-width="0.5"/>
<line x1="177.7" y1="199.4" x2="177.7" y2="259.0" stroke="#c0588f" stroke-width="0.5"/>
<g filter="url(#b1)"><circle cx="180.3" cy="246.6" r="0.45" fill="#bdbdbd" opacity="0.35"/><circle cx="181.1" cy="247.0" r="0.45" fill="#bdbdbd" opacity="0.35"/><circle cx="183.4" cy="246.7" r="0.45" fill="#bdbdbd" opacity="0.35"/><circle cx="184.0" cy="246.3" r="0.45" fill="#bdbdbd" opacity="0.35"/><circle cx="186.0" cy="246.2" r="0.45" fill="#bdbdbd" opacity="0.35"/><circle cx="187.9" cy="246.7" r="0.45" fill="#bdbdbd" opacity="0.35"/><circle cx="188.5" cy="246.1" r="0.45" fill="#bdbdbd" opacity="0.35"/><circle cx="191.0" cy="246.3" r="0.45" fill="#bdbdbd" opacity="0.35"/><circle cx="192.5" cy="245.9" r="0.45" fill="#bdbdbd" opacity="0.35"/><circle cx="193.0" cy="245.8" r="0.45" fill="#bdbdbd" opacity="0.35"/><circle cx="195.6" cy="245.7" r="0.45" fill="#bdbdbd" opacity="0.35"/><circle cx="196.5" cy="245.7" r="0.45" fill="#bdbdbd" opacity="0.35"/><circle cx="198.1" cy="245.6" r="0.45" fill="#bdbdbd" opacity="0.35"/><circle cx="200.4" cy="245.2" r="0.45" fill="#bdbdbd" opacity="0.35"/><circle cx="200.5" cy="246.0" r="0.45" fill="#bdbdbd" opacity="0.35"/><circle cx="203.4" cy="245.8" r="0.45" fill="#8fbf8f" opacity="0.66"/><circle cx="204.3" cy="245.7" r="0.45" fill="#8fbf8f" opacity="0.67"/><circle cx="206.6" cy="244.9" r="0.45" fill="#8fbf8f" opacity="0.69"/><circle cx="207.8" cy="245.4" r="0.45" fill="#8fbf8f" opacity="0.71"/><circle cx="209.3" cy="245.0" r="0.45" fill="#8fbf8f" opacity="0.73"/><circle cx="210.2" cy="244.7" r="0.45" fill="#8fbf8f" opacity="0.74"/><circle cx="211.7" cy="244.4" r="0.45" fill="#8fbf8f" opacity="0.76"/><circle cx="213.8" cy="244.4" r="0.45" fill="#8fbf8f" opacity="0.78"/><circle cx="215.6" cy="244.1" r="0.45" fill="#8fbf8f" opacity="0.81"/><circle cx="217.3" cy="244.6" r="0.45" fill="#8fbf8f" opacity="0.83"/><circle cx="218.9" cy="244.7" r="0.45" fill="#8fbf8f" opacity="0.85"/></g>
<g filter="url(#b1)"><ellipse cx="174.8" cy="247.4" rx="3.3" ry="1.3" fill="#1a1a1a" opacity="0.95" transform="rotate(-12 174.8 247.4)"/><ellipse cx="174.8" cy="247.4" rx="4.455" ry="1.9500000000000002" fill="#555" opacity="0.25" transform="rotate(-12 174.8 247.4)"/></g>
<g filter="url(#b2)"><ellipse cx="225.5" cy="243.7" rx="7.800000000000001" ry="2.0999999999999996" fill="#5cc45c" opacity="0.35" transform="rotate(-4 225.5 243.7)"/></g>
<g filter="url(#b1)"><ellipse cx="225.5" cy="243.7" rx="6" ry="1.4" fill="#35b035" opacity="0.9" transform="rotate(-4 225.5 243.7)"/></g>
<text x="259.2" y="209.70000000000002" font-size="6.95" text-anchor="end" font-weight="bold" font-style="normal" fill="#111">D538G (0.23%)</text>
<text x="209.10000000000002" y="267.6" font-size="5.9" text-anchor="middle" font-weight="normal" font-style="normal" fill="#333">Channel 2 amplitude</text>
<text x="147.70000000000002" y="229.2" font-size="5.95" text-anchor="middle" font-weight="normal" font-style="normal" fill="#333" transform="rotate(-90 147.70000000000002 229.2)">Channel 1 amplitude</text>
<rect x="152.90" y="270.20" width="112.40" height="59.00" fill="#f6f6f6" stroke="#cfcfcf" stroke-width="0.5"/>
<line x1="167.0" y1="270.2" x2="167.0" y2="329.2" stroke="#ececec" stroke-width="0.4"/>
<line x1="181.0" y1="270.2" x2="181.0" y2="329.2" stroke="#ececec" stroke-width="0.4"/>
<line x1="195.1" y1="270.2" x2="195.1" y2="329.2" stroke="#ececec" stroke-width="0.4"/>
<line x1="209.1" y1="270.2" x2="209.1" y2="329.2" stroke="#ececec" stroke-width="0.4"/>
<line x1="223.2" y1="270.2" x2="223.2" y2="329.2" stroke="#ececec" stroke-width="0.4"/>
<line x1="237.2" y1="270.2" x2="237.2" y2="329.2" stroke="#ececec" stroke-width="0.4"/>
<line x1="251.2" y1="270.2" x2="251.2" y2="329.2" stroke="#ececec" stroke-width="0.4"/>
<line x1="152.9" y1="280.0" x2="265.3" y2="280.0" stroke="#ececec" stroke-width="0.4"/>
<line x1="151.70000000000002" y1="280.0" x2="152.9" y2="280.0" stroke="#999" stroke-width="0.4"/>
<line x1="152.9" y1="289.9" x2="265.3" y2="289.9" stroke="#ececec" stroke-width="0.4"/>
<line x1="151.70000000000002" y1="289.9" x2="152.9" y2="289.9" stroke="#999" stroke-width="0.4"/>
<line x1="152.9" y1="299.7" x2="265.3" y2="299.7" stroke="#ececec" stroke-width="0.4"/>
<line x1="151.70000000000002" y1="299.7" x2="152.9" y2="299.7" stroke="#999" stroke-width="0.4"/>
<line x1="152.9" y1="309.5" x2="265.3" y2="309.5" stroke="#ececec" stroke-width="0.4"/>
<line x1="151.70000000000002" y1="309.5" x2="152.9" y2="309.5" stroke="#999" stroke-width="0.4"/>
<line x1="152.9" y1="319.4" x2="265.3" y2="319.4" stroke="#ececec" stroke-width="0.4"/>
<line x1="151.70000000000002" y1="319.4" x2="152.9" y2="319.4" stroke="#999" stroke-width="0.4"/>
<line x1="152.9" y1="329.2" x2="152.9" y2="330.4" stroke="#999" stroke-width="0.4"/>
<rect x="151.70" y="331.40" width="2.40" height="0.70" fill="#bbb" stroke="none" stroke-width="0.5"/>
<line x1="171.6" y1="329.2" x2="171.6" y2="330.4" stroke="#999" stroke-width="0.4"/>
<rect x="170.43" y="331.40" width="2.40" height="0.70" fill="#bbb" stroke="none" stroke-width="0.5"/>
<line x1="190.4" y1="329.2" x2="190.4" y2="330.4" stroke="#999" stroke-width="0.4"/>
<rect x="189.17" y="331.40" width="2.40" height="0.70" fill="#bbb" stroke="none" stroke-width="0.5"/>
<line x1="209.1" y1="329.2" x2="209.1" y2="330.4" stroke="#999" stroke-width="0.4"/>
<rect x="207.90" y="331.40" width="2.40" height="0.70" fill="#bbb" stroke="none" stroke-width="0.5"/>
<line x1="227.8" y1="329.2" x2="227.8" y2="330.4" stroke="#999" stroke-width="0.4"/>
<rect x="226.63" y="331.40" width="2.40" height="0.70" fill="#bbb" stroke="none" stroke-width="0.5"/>
<line x1="246.6" y1="329.2" x2="246.6" y2="330.4" stroke="#999" stroke-width="0.4"/>
<rect x="245.37" y="331.40" width="2.40" height="0.70" fill="#bbb" stroke="none" stroke-width="0.5"/>
<line x1="265.3" y1="329.2" x2="265.3" y2="330.4" stroke="#999" stroke-width="0.4"/>
<rect x="264.10" y="331.40" width="2.40" height="0.70" fill="#bbb" stroke="none" stroke-width="0.5"/>
<line x1="152.9" y1="299.8" x2="266.8" y2="299.8" stroke="#d8d8d8" stroke-width="0.5"/>
<line x1="212" y1="270.2" x2="212" y2="329.2" stroke="#999" stroke-width="0.5"/>
<g filter="url(#b1)"><circle cx="189.5" cy="308.4" r="0.45" fill="#bdbdbd" opacity="0.35"/><circle cx="189.7" cy="308.5" r="0.45" fill="#bdbdbd" opacity="0.35"/><circle cx="191.7" cy="307.8" r="0.45" fill="#bdbdbd" opacity="0.35"/><circle cx="194.2" cy="307.8" r="0.45" fill="#bdbdbd" opacity="0.35"/><circle cx="195.5" cy="308.0" r="0.45" fill="#bdbdbd" opacity="0.35"/><circle cx="197.5" cy="307.2" r="0.45" fill="#bdbdbd" opacity="0.35"/><circle cx="198.6" cy="307.5" r="0.45" fill="#bdbdbd" opacity="0.35"/><circle cx="200.7" cy="307.2" r="0.45" fill="#bdbdbd" opacity="0.35"/><circle cx="202.1" cy="306.4" r="0.45" fill="#bdbdbd" opacity="0.35"/><circle cx="204.1" cy="306.8" r="0.45" fill="#bdbdbd" opacity="0.35"/><circle cx="205.2" cy="306.6" r="0.45" fill="#bdbdbd" opacity="0.35"/><circle cx="208.2" cy="306.3" r="0.45" fill="#bdbdbd" opacity="0.35"/><circle cx="209.7" cy="305.3" r="0.45" fill="#bdbdbd" opacity="0.35"/><circle cx="211.1" cy="306.0" r="0.45" fill="#bdbdbd" opacity="0.35"/><circle cx="211.8" cy="305.3" r="0.45" fill="#bdbdbd" opacity="0.35"/><circle cx="213.8" cy="305.3" r="0.45" fill="#8fbf8f" opacity="0.64"/><circle cx="215.8" cy="305.0" r="0.45" fill="#8fbf8f" opacity="0.67"/><circle cx="218.1" cy="304.2" r="0.45" fill="#8fbf8f" opacity="0.69"/><circle cx="218.6" cy="304.3" r="0.45" fill="#8fbf8f" opacity="0.70"/><circle cx="220.4" cy="304.0" r="0.45" fill="#8fbf8f" opacity="0.72"/><circle cx="223.5" cy="304.4" r="0.45" fill="#8fbf8f" opacity="0.75"/><circle cx="223.7" cy="304.0" r="0.45" fill="#8fbf8f" opacity="0.76"/><circle cx="225.8" cy="303.6" r="0.45" fill="#8fbf8f" opacity="0.78"/><circle cx="227.5" cy="303.7" r="0.45" fill="#8fbf8f" opacity="0.80"/><circle cx="229.6" cy="303.2" r="0.45" fill="#8fbf8f" opacity="0.82"/><circle cx="230.6" cy="303.0" r="0.45" fill="#8fbf8f" opacity="0.83"/></g>
<g filter="url(#b1)"><ellipse cx="182.3" cy="309" rx="4.2" ry="2.7" fill="#1a1a1a" opacity="0.95" transform="rotate(0 182.3 309)"/><ellipse cx="182.3" cy="309" rx="5.670000000000001" ry="4.050000000000001" fill="#555" opacity="0.25" transform="rotate(0 182.3 309)"/></g>
<g filter="url(#b2)"><ellipse cx="239.8" cy="301" rx="7.800000000000001" ry="4.949999999999999" fill="#5cc45c" opacity="0.35" transform="rotate(-5 239.8 301)"/></g>
<g filter="url(#b1)"><ellipse cx="239.8" cy="301" rx="6" ry="3.3" fill="#35b035" opacity="0.9" transform="rotate(-5 239.8 301)"/></g>
<text x="259.2" y="280.5" font-size="6.95" text-anchor="end" font-weight="bold" font-style="normal" fill="#111">D538G (0%)</text>
<text x="209.10000000000002" y="337.8" font-size="5.9" text-anchor="middle" font-weight="normal" font-style="normal" fill="#333">Channel 2 amplitude</text>
<text x="147.70000000000002" y="299.7" font-size="5.95" text-anchor="middle" font-weight="normal" font-style="normal" fill="#333" transform="rotate(-90 147.70000000000002 299.7)">Channel 1 amplitude</text>
<rect x="152.90" y="342.50" width="112.40" height="58.50" fill="#f6f6f6" stroke="#cfcfcf" stroke-width="0.5"/>
<line x1="167.0" y1="342.5" x2="167.0" y2="401.0" stroke="#ececec" stroke-width="0.4"/>
<line x1="181.0" y1="342.5" x2="181.0" y2="401.0" stroke="#ececec" stroke-width="0.4"/>
<line x1="195.1" y1="342.5" x2="195.1" y2="401.0" stroke="#ececec" stroke-width="0.4"/>
<line x1="209.1" y1="342.5" x2="209.1" y2="401.0" stroke="#ececec" stroke-width="0.4"/>
<line x1="223.2" y1="342.5" x2="223.2" y2="401.0" stroke="#ececec" stroke-width="0.4"/>
<line x1="237.2" y1="342.5" x2="237.2" y2="401.0" stroke="#ececec" stroke-width="0.4"/>
<line x1="251.2" y1="342.5" x2="251.2" y2="401.0" stroke="#ececec" stroke-width="0.4"/>
<line x1="152.9" y1="352.2" x2="265.3" y2="352.2" stroke="#ececec" stroke-width="0.4"/>
<line x1="151.70000000000002" y1="352.2" x2="152.9" y2="352.2" stroke="#999" stroke-width="0.4"/>
<line x1="152.9" y1="362.0" x2="265.3" y2="362.0" stroke="#ececec" stroke-width="0.4"/>
<line x1="151.70000000000002" y1="362.0" x2="152.9" y2="362.0" stroke="#999" stroke-width="0.4"/>
<line x1="152.9" y1="371.8" x2="265.3" y2="371.8" stroke="#ececec" stroke-width="0.4"/>
<line x1="151.70000000000002" y1="371.8" x2="152.9" y2="371.8" stroke="#999" stroke-width="0.4"/>
<line x1="152.9" y1="381.5" x2="265.3" y2="381.5" stroke="#ececec" stroke-width="0.4"/>
<line x1="151.70000000000002" y1="381.5" x2="152.9" y2="381.5" stroke="#999" stroke-width="0.4"/>
<line x1="152.9" y1="391.2" x2="265.3" y2="391.2" stroke="#ececec" stroke-width="0.4"/>
<line x1="151.70000000000002" y1="391.2" x2="152.9" y2="391.2" stroke="#999" stroke-width="0.4"/>
<line x1="152.9" y1="401.0" x2="152.9" y2="402.2" stroke="#999" stroke-width="0.4"/>
<rect x="151.70" y="403.20" width="2.40" height="0.70" fill="#bbb" stroke="none" stroke-width="0.5"/>
<line x1="171.6" y1="401.0" x2="171.6" y2="402.2" stroke="#999" stroke-width="0.4"/>
<rect x="170.43" y="403.20" width="2.40" height="0.70" fill="#bbb" stroke="none" stroke-width="0.5"/>
<line x1="190.4" y1="401.0" x2="190.4" y2="402.2" stroke="#999" stroke-width="0.4"/>
<rect x="189.17" y="403.20" width="2.40" height="0.70" fill="#bbb" stroke="none" stroke-width="0.5"/>
<line x1="209.1" y1="401.0" x2="209.1" y2="402.2" stroke="#999" stroke-width="0.4"/>
<rect x="207.90" y="403.20" width="2.40" height="0.70" fill="#bbb" stroke="none" stroke-width="0.5"/>
<line x1="227.8" y1="401.0" x2="227.8" y2="402.2" stroke="#999" stroke-width="0.4"/>
<rect x="226.63" y="403.20" width="2.40" height="0.70" fill="#bbb" stroke="none" stroke-width="0.5"/>
<line x1="246.6" y1="401.0" x2="246.6" y2="402.2" stroke="#999" stroke-width="0.4"/>
<rect x="245.37" y="403.20" width="2.40" height="0.70" fill="#bbb" stroke="none" stroke-width="0.5"/>
<line x1="265.3" y1="401.0" x2="265.3" y2="402.2" stroke="#999" stroke-width="0.4"/>
<rect x="264.10" y="403.20" width="2.40" height="0.70" fill="#bbb" stroke="none" stroke-width="0.5"/>
<line x1="152.9" y1="371.3" x2="266.8" y2="371.3" stroke="#8a5a8a" stroke-width="0.5"/>
<line x1="212" y1="342.5" x2="212" y2="401.0" stroke="#a9a" stroke-width="0.5"/>
<g filter="url(#b1)"><circle cx="189.2" cy="392.6" r="0.45" fill="#bdbdbd" opacity="0.35"/><circle cx="192.1" cy="392.3" r="0.45" fill="#bdbdbd" opacity="0.35"/><circle cx="192.8" cy="392.1" r="0.45" fill="#bdbdbd" opacity="0.35"/><circle cx="195.1" cy="392.4" r="0.45" fill="#bdbdbd" opacity="0.35"/><circle cx="197.6" cy="392.1" r="0.45" fill="#bdbdbd" opacity="0.35"/><circle cx="199.5" cy="392.3" r="0.45" fill="#bdbdbd" opacity="0.35"/><circle cx="200.6" cy="392.0" r="0.45" fill="#bdbdbd" opacity="0.35"/><circle cx="202.6" cy="392.2" r="0.45" fill="#bdbdbd" opacity="0.35"/><circle cx="204.2" cy="392.1" r="0.45" fill="#bdbdbd" opacity="0.35"/><circle cx="206.1" cy="391.6" r="0.45" fill="#bdbdbd" opacity="0.35"/><circle cx="208.0" cy="391.9" r="0.45" fill="#bdbdbd" opacity="0.35"/><circle cx="209.0" cy="391.6" r="0.45" fill="#bdbdbd" opacity="0.35"/><circle cx="211.5" cy="392.0" r="0.45" fill="#bdbdbd" opacity="0.35"/><circle cx="214.2" cy="391.3" r="0.45" fill="#bdbdbd" opacity="0.35"/><circle cx="215.9" cy="391.7" r="0.45" fill="#8fbf8f" opacity="0.64"/><circle cx="216.6" cy="391.3" r="0.45" fill="#8fbf8f" opacity="0.64"/><circle cx="218.1" cy="391.6" r="0.45" fill="#8fbf8f" opacity="0.66"/><circle cx="220.9" cy="391.6" r="0.45" fill="#8fbf8f" opacity="0.69"/><circle cx="223.0" cy="391.2" r="0.45" fill="#8fbf8f" opacity="0.71"/><circle cx="224.7" cy="391.1" r="0.45" fill="#8fbf8f" opacity="0.73"/><circle cx="225.3" cy="391.1" r="0.45" fill="#8fbf8f" opacity="0.74"/><circle cx="227.0" cy="390.5" r="0.45" fill="#8fbf8f" opacity="0.75"/><circle cx="230.2" cy="390.3" r="0.45" fill="#8fbf8f" opacity="0.79"/><circle cx="230.7" cy="390.3" r="0.45" fill="#8fbf8f" opacity="0.79"/><circle cx="234.0" cy="390.3" r="0.45" fill="#8fbf8f" opacity="0.83"/><circle cx="234.2" cy="390.9" r="0.45" fill="#8fbf8f" opacity="0.83"/></g>
<g filter="url(#b1)"><ellipse cx="183" cy="392.8" rx="5" ry="1.4" fill="#1a1a1a" opacity="0.95" transform="rotate(0 183 392.8)"/><ellipse cx="183" cy="392.8" rx="6.75" ry="2.0999999999999996" fill="#555" opacity="0.25" transform="rotate(0 183 392.8)"/></g>
<g filter="url(#b2)"><ellipse cx="245.5" cy="389.8" rx="10.4" ry="3.1500000000000004" fill="#5cc45c" opacity="0.35" transform="rotate(-5 245.5 389.8)"/></g>
<g filter="url(#b1)"><ellipse cx="245.5" cy="389.8" rx="8" ry="2.1" fill="#35b035" opacity="0.9" transform="rotate(-5 245.5 389.8)"/></g>
<text x="259.2" y="352.8" font-size="6.95" text-anchor="end" font-weight="bold" font-style="normal" fill="#111">D538G (1.21%)</text>
<text x="209.10000000000002" y="409.6" font-size="5.9" text-anchor="middle" font-weight="normal" font-style="normal" fill="#333">Channel 2 amplitude</text>
<text x="147.70000000000002" y="371.75" font-size="5.95" text-anchor="middle" font-weight="normal" font-style="normal" fill="#333" transform="rotate(-90 147.70000000000002 371.75)">Channel 1 amplitude</text>
</g>
<g id="panelC">
<text x="265.5" y="174.5" font-size="12" text-anchor="start" font-weight="bold" font-style="normal" fill="#000">C</text>
<rect x="322.70" y="158.50" width="45.40" height="82.50" fill="#fff" stroke="#222" stroke-width="0.7"/>
<line x1="320.9" y1="172.34" x2="322.7" y2="172.34" stroke="#222" stroke-width="0.5"/>
<text x="320.09999999999997" y="174.24" font-size="6.3" text-anchor="end" font-weight="normal" font-style="normal" fill="#111">2</text>
<line x1="320.9" y1="187.5" x2="322.7" y2="187.5" stroke="#222" stroke-width="0.5"/>
<text x="320.09999999999997" y="189.4" font-size="6.3" text-anchor="end" font-weight="normal" font-style="normal" fill="#111">0</text>
<line x1="320.9" y1="202.66" x2="322.7" y2="202.66" stroke="#222" stroke-width="0.5"/>
<text x="320.09999999999997" y="204.56" font-size="6.3" text-anchor="end" font-weight="normal" font-style="normal" fill="#111">-2</text>
<line x1="320.9" y1="217.82" x2="322.7" y2="217.82" stroke="#222" stroke-width="0.5"/>
<text x="320.09999999999997" y="219.72" font-size="6.3" text-anchor="end" font-weight="normal" font-style="normal" fill="#111">-4</text>
<line x1="320.9" y1="232.98000000000002" x2="322.7" y2="232.98000000000002" stroke="#222" stroke-width="0.5"/>
<text x="320.09999999999997" y="234.88000000000002" font-size="6.3" text-anchor="end" font-weight="normal" font-style="normal" fill="#111">-6</text>
<line x1="322.7" y1="187.5" x2="368.1" y2="187.5" stroke="#8c8c8c" stroke-width="0.5"/>
<line x1="334.6" y1="174.5" x2="334.6" y2="201" stroke="#222" stroke-width="0.5" stroke-dasharray="1.2 0.8"/>
<line x1="334.6" y1="223.5" x2="334.6" y2="237.4" stroke="#222" stroke-width="0.5" stroke-dasharray="1.2 0.8"/>
<line x1="330.20000000000005" y1="174.5" x2="339.0" y2="174.5" stroke="#222" stroke-width="0.7"/>
<line x1="330.20000000000005" y1="237.4" x2="339.0" y2="237.4" stroke="#222" stroke-width="0.7"/>
<rect x="325.80" y="201.00" width="17.60" height="22.50" fill="none" stroke="#111" stroke-width="0.8"/>
<line x1="325.8" y1="212" x2="343.4" y2="212" stroke="#111" stroke-width="1.4"/>
<circle cx="334.55" cy="183.33" r="0.8" fill="#1b2f80"/>
<circle cx="334.47" cy="227.54" r="0.8" fill="#1b2f80"/>
<circle cx="334.50" cy="222.35" r="0.8" fill="#1b2f80"/>
<circle cx="334.61" cy="190.81" r="0.8" fill="#1b2f80"/>
<circle cx="334.50" cy="205.72" r="0.8" fill="#1b2f80"/>
<circle cx="334.53" cy="202.87" r="0.8" fill="#1b2f80"/>
<circle cx="334.66" cy="215.40" r="0.8" fill="#1b2f80"/>
<circle cx="334.59" cy="223.90" r="0.8" fill="#1b2f80"/>
<circle cx="334.55" cy="180.82" r="0.8" fill="#1b2f80"/>
<circle cx="334.59" cy="176.76" r="0.8" fill="#1b2f80"/>
<circle cx="334.46" cy="226.82" r="0.8" fill="#1b2f80"/>
<circle cx="334.57" cy="201.83" r="0.8" fill="#1b2f80"/>
<circle cx="334.58" cy="222.26" r="0.8" fill="#1b2f80"/>
<circle cx="334.51" cy="175.13" r="0.8" fill="#1b2f80"/>
<circle cx="334.48" cy="202.61" r="0.8" fill="#1b2f80"/>
<circle cx="334.72" cy="219.74" r="0.8" fill="#1b2f80"/>
<circle cx="334.60" cy="189.18" r="0.8" fill="#1b2f80"/>
<circle cx="334.51" cy="233.61" r="0.8" fill="#1b2f80"/>
<circle cx="334.63" cy="230.89" r="0.8" fill="#1b2f80"/>
<circle cx="334.70" cy="176.90" r="0.8" fill="#1b2f80"/>
<circle cx="334.46" cy="176.58" r="0.8" fill="#1b2f80"/>
<circle cx="334.46" cy="208.57" r="0.8" fill="#1b2f80"/>
<circle cx="334.49" cy="233.23" r="0.8" fill="#1b2f80"/>
<circle cx="334.67" cy="198.63" r="0.8" fill="#1b2f80"/>
<circle cx="334.50" cy="188.43" r="0.8" fill="#1b2f80"/>
<circle cx="334.66" cy="201.17" r="0.8" fill="#1b2f80"/>
<circle cx="334.65" cy="176.80" r="0.8" fill="#1b2f80"/>
<circle cx="334.61" cy="188.74" r="0.8" fill="#1b2f80"/>
<circle cx="334.52" cy="202.15" r="0.8" fill="#1b2f80"/>
<circle cx="334.74" cy="205.74" r="0.8" fill="#1b2f80"/>
<circle cx="334.69" cy="189.45" r="0.8" fill="#1b2f80"/>
<circle cx="334.60" cy="189.31" r="0.8" fill="#1b2f80"/>
<circle cx="334.52" cy="188.56" r="0.8" fill="#1b2f80"/>
<circle cx="334.64" cy="203.50" r="0.8" fill="#1b2f80"/>
<circle cx="334.57" cy="192.97" r="0.8" fill="#1b2f80"/>
<circle cx="334.62" cy="176.33" r="0.8" fill="#1b2f80"/>
<circle cx="334.55" cy="226.93" r="0.8" fill="#1b2f80"/>
<circle cx="334.64" cy="209.50" r="0.8" fill="#1b2f80"/>
<circle cx="334.47" cy="214.82" r="0.8" fill="#1b2f80"/>
<circle cx="334.54" cy="186.53" r="0.8" fill="#1b2f80"/>
<circle cx="334.74" cy="236.54" r="0.8" fill="#1b2f80"/>
<circle cx="334.71" cy="228.32" r="0.8" fill="#1b2f80"/>
<circle cx="334.54" cy="182.50" r="0.8" fill="#1b2f80"/>
<circle cx="334.71" cy="195.63" r="0.8" fill="#1b2f80"/>
<circle cx="334.54" cy="219.73" r="0.8" fill="#1b2f80"/>
<circle cx="334.73" cy="219.09" r="0.8" fill="#1b2f80"/>
<circle cx="334.67" cy="233.06" r="0.8" fill="#1b2f80"/>
<circle cx="334.57" cy="201.17" r="0.8" fill="#1b2f80"/>
<circle cx="334.53" cy="226.46" r="0.8" fill="#1b2f80"/>
<circle cx="334.45" cy="216.56" r="0.8" fill="#1b2f80"/>
<circle cx="334.71" cy="193.81" r="0.8" fill="#1b2f80"/>
<circle cx="334.46" cy="211.43" r="0.8" fill="#1b2f80"/>
<circle cx="334.70" cy="229.71" r="0.8" fill="#1b2f80"/>
<circle cx="334.74" cy="227.46" r="0.8" fill="#1b2f80"/>
<circle cx="334.62" cy="206.33" r="0.8" fill="#1b2f80"/>
<circle cx="334.50" cy="211.52" r="0.8" fill="#1b2f80"/>
<circle cx="334.71" cy="177.14" r="0.8" fill="#1b2f80"/>
<circle cx="334.74" cy="190.05" r="0.8" fill="#1b2f80"/>
<circle cx="334.66" cy="224.44" r="0.8" fill="#1b2f80"/>
<circle cx="334.60" cy="200.69" r="0.8" fill="#1b2f80"/>
<circle cx="334.56" cy="185.73" r="0.8" fill="#1b2f80"/>
<circle cx="334.55" cy="209.03" r="0.8" fill="#1b2f80"/>
<circle cx="334.51" cy="218.59" r="0.8" fill="#1b2f80"/>
<circle cx="334.65" cy="216.82" r="0.8" fill="#1b2f80"/>
<circle cx="334.58" cy="198.23" r="0.8" fill="#1b2f80"/>
<circle cx="334.51" cy="202.22" r="0.8" fill="#1b2f80"/>
<circle cx="334.48" cy="206.52" r="0.8" fill="#1b2f80"/>
<circle cx="334.65" cy="223.26" r="0.8" fill="#1b2f80"/>
<circle cx="334.54" cy="207.30" r="0.8" fill="#1b2f80"/>
<circle cx="334.60" cy="199.38" r="0.8" fill="#1b2f80"/>
<circle cx="334.55" cy="205.36" r="0.8" fill="#1b2f80"/>
<circle cx="334.71" cy="176.83" r="0.8" fill="#1b2f80"/>
<circle cx="334.72" cy="177.70" r="0.8" fill="#1b2f80"/>
<circle cx="334.46" cy="218.61" r="0.8" fill="#1b2f80"/>
<circle cx="334.51" cy="235.96" r="0.8" fill="#1b2f80"/>
<circle cx="334.55" cy="211.78" r="0.8" fill="#1b2f80"/>
<circle cx="334.75" cy="199.40" r="0.8" fill="#1b2f80"/>
<circle cx="334.68" cy="185.56" r="0.8" fill="#1b2f80"/>
<circle cx="334.55" cy="206.14" r="0.8" fill="#1b2f80"/>
<circle cx="334.51" cy="235.89" r="0.8" fill="#1b2f80"/>
<circle cx="334.65" cy="222.77" r="0.8" fill="#1b2f80"/>
<circle cx="334.70" cy="208.46" r="0.8" fill="#1b2f80"/>
<circle cx="334.73" cy="228.34" r="0.8" fill="#1b2f80"/>
<circle cx="334.55" cy="189.39" r="0.8" fill="#1b2f80"/>
<circle cx="334.71" cy="206.85" r="0.8" fill="#1b2f80"/>
<circle cx="334.66" cy="234.05" r="0.8" fill="#1b2f80"/>
<circle cx="334.60" cy="210.82" r="0.8" fill="#1b2f80"/>
<circle cx="334.75" cy="203.47" r="0.8" fill="#1b2f80"/>
<circle cx="334.52" cy="191.70" r="0.8" fill="#1b2f80"/>
<circle cx="334.67" cy="208.98" r="0.8" fill="#1b2f80"/>
<circle cx="334.48" cy="234.34" r="0.8" fill="#1b2f80"/>
<circle cx="334.50" cy="175.35" r="0.8" fill="#1b2f80"/>
<circle cx="334.72" cy="223.59" r="0.8" fill="#1b2f80"/>
<circle cx="334.51" cy="225.87" r="0.8" fill="#1b2f80"/>
<circle cx="334.68" cy="229.94" r="0.8" fill="#1b2f80"/>
<circle cx="334.63" cy="220.91" r="0.8" fill="#1b2f80"/>
<circle cx="334.70" cy="225.17" r="0.8" fill="#1b2f80"/>
<circle cx="334.56" cy="207.16" r="0.8" fill="#1b2f80"/>
<circle cx="334.55" cy="209.80" r="0.8" fill="#1b2f80"/>
<circle cx="334.54" cy="201.42" r="0.8" fill="#1b2f80"/>
<circle cx="334.71" cy="178.48" r="0.8" fill="#1b2f80"/>
<circle cx="334.63" cy="228.94" r="0.8" fill="#1b2f80"/>
<circle cx="334.74" cy="210.34" r="0.8" fill="#1b2f80"/>
<circle cx="334.72" cy="187.39" r="0.8" fill="#1b2f80"/>
<circle cx="334.49" cy="206.29" r="0.8" fill="#1b2f80"/>
<circle cx="334.62" cy="205.07" r="0.8" fill="#1b2f80"/>
<circle cx="334.48" cy="197.12" r="0.8" fill="#1b2f80"/>
<circle cx="334.46" cy="196.46" r="0.8" fill="#1b2f80"/>
<circle cx="334.47" cy="208.39" r="0.8" fill="#1b2f80"/>
<circle cx="334.71" cy="213.66" r="0.8" fill="#1b2f80"/>
<circle cx="334.69" cy="212.97" r="0.8" fill="#1b2f80"/>
<circle cx="334.70" cy="203.41" r="0.8" fill="#1b2f80"/>
<circle cx="334.55" cy="176.73" r="0.8" fill="#1b2f80"/>
<circle cx="334.63" cy="189.24" r="0.8" fill="#1b2f80"/>
<circle cx="334.68" cy="185.99" r="0.8" fill="#1b2f80"/>
<circle cx="334.56" cy="211.24" r="0.8" fill="#1b2f80"/>
<circle cx="334.62" cy="228.38" r="0.8" fill="#1b2f80"/>
<circle cx="334.52" cy="224.50" r="0.8" fill="#1b2f80"/>
<circle cx="334.47" cy="224.42" r="0.8" fill="#1b2f80"/>
<circle cx="334.53" cy="225.62" r="0.8" fill="#1b2f80"/>
<circle cx="334.72" cy="190.83" r="0.8" fill="#1b2f80"/>
<circle cx="334.62" cy="227.19" r="0.8" fill="#1b2f80"/>
<circle cx="334.73" cy="216.73" r="0.8" fill="#1b2f80"/>
<circle cx="334.59" cy="180.16" r="0.8" fill="#1b2f80"/>
<circle cx="334.53" cy="176.03" r="0.8" fill="#1b2f80"/>
<circle cx="334.69" cy="175.90" r="0.8" fill="#1b2f80"/>
<circle cx="334.70" cy="221.85" r="0.8" fill="#1b2f80"/>
<circle cx="334.45" cy="190.47" r="0.8" fill="#1b2f80"/>
<circle cx="334.65" cy="181.79" r="0.8" fill="#1b2f80"/>
<circle cx="334.48" cy="213.74" r="0.8" fill="#1b2f80"/>
<circle cx="334.60" cy="161.50" r="0.95" fill="#1b2f80"/>
<line x1="355.45" y1="171" x2="355.45" y2="174.5" stroke="#d9232d" stroke-width="0.5" stroke-dasharray="1 0.8"/>
<line x1="355.45" y1="193.3" x2="355.45" y2="205.4" stroke="#d9232d" stroke-width="0.5" stroke-dasharray="1 0.8"/>
<line x1="351.225" y1="171" x2="359.67499999999995" y2="171" stroke="#8e1b1f" stroke-width="0.7"/>
<line x1="351.225" y1="205.4" x2="359.67499999999995" y2="205.4" stroke="#8e1b1f" stroke-width="0.7"/>
<rect x="347.00" y="174.50" width="16.90" height="18.80" fill="none" stroke="#111" stroke-width="0.8"/>
<line x1="347" y1="182.6" x2="363.9" y2="182.6" stroke="#111" stroke-width="1.4"/>
<circle cx="355.45" cy="171.00" r="1.05" fill="#d9232d"/>
<circle cx="355.45" cy="174.50" r="1.05" fill="#d9232d"/>
<circle cx="355.45" cy="182.60" r="1.05" fill="#d9232d"/>
<circle cx="355.45" cy="193.30" r="1.05" fill="#d9232d"/>
<circle cx="355.45" cy="205.40" r="1.05" fill="#d9232d"/>
<line x1="334.6" y1="241.0" x2="334.6" y2="242.8" stroke="#222" stroke-width="0.5"/>
<line x1="355.45" y1="241.0" x2="355.45" y2="242.8" stroke="#222" stroke-width="0.5"/>
<text x="334.6" y="247.3" font-size="5.9" text-anchor="middle" font-weight="normal" font-style="normal" fill="#111">Wt</text>
<text x="355.45" y="247.3" font-size="5.9" text-anchor="middle" font-weight="normal" font-style="normal" fill="#111">Mut</text>
<text x="334.4" y="168.6" font-size="6.0" text-anchor="start" font-weight="normal" font-style="normal" fill="#333"><tspan font-style="italic">P</tspan> = 0.002</text>
<text x="370.4" y="173.29999999999998" font-size="4.9" text-anchor="start" font-weight="bold" font-style="normal" fill="#111">D538G</text>
<text x="370.4" y="175.89999999999998" font-size="4.9" text-anchor="start" font-weight="bold" font-style="normal" fill="#111">Y537S</text>
<text x="370.4" y="183.39999999999998" font-size="4.9" text-anchor="start" font-weight="bold" font-style="normal" fill="#111">D538G/Y537N</text>
<text x="370.4" y="185.29999999999998" font-size="4.9" text-anchor="start" font-weight="bold" font-style="normal" fill="#111">D538G</text>
<text x="370.4" y="187.29999999999998" font-size="4.9" text-anchor="start" font-weight="bold" font-style="normal" fill="#111">D538G</text>
<text x="370.4" y="197.29999999999998" font-size="4.9" text-anchor="start" font-weight="bold" font-style="normal" fill="#111">D538G#</text>
<text x="370.4" y="207.89999999999998" font-size="4.9" text-anchor="start" font-weight="bold" font-style="normal" fill="#111">D538G#</text>
<text x="309.6" y="192" font-size="5.9" text-anchor="middle" font-weight="normal" font-style="normal" fill="#111" transform="rotate(-90 309.6 192)">Post - pre (dif. Log2)</text>
<text x="346" y="156.3" font-size="8" text-anchor="middle" font-weight="bold" font-style="normal" fill="#111"><tspan font-style="italic">ERGs</tspan></text>
<rect x="322.80" y="262.30" width="45.30" height="82.10" fill="#fff" stroke="#222" stroke-width="0.7"/>
<line x1="321.0" y1="276.7" x2="322.8" y2="276.7" stroke="#222" stroke-width="0.5"/>
<text x="320.2" y="278.59999999999997" font-size="6.3" text-anchor="end" font-weight="normal" font-style="normal" fill="#111">2</text>
<line x1="321.0" y1="295.8" x2="322.8" y2="295.8" stroke="#222" stroke-width="0.5"/>
<text x="320.2" y="297.7" font-size="6.3" text-anchor="end" font-weight="normal" font-style="normal" fill="#111">0</text>
<line x1="321.0" y1="314.90000000000003" x2="322.8" y2="314.90000000000003" stroke="#222" stroke-width="0.5"/>
<text x="320.2" y="316.8" font-size="6.3" text-anchor="end" font-weight="normal" font-style="normal" fill="#111">-2</text>
<line x1="321.0" y1="334.0" x2="322.8" y2="334.0" stroke="#222" stroke-width="0.5"/>
<text x="320.2" y="335.9" font-size="6.3" text-anchor="end" font-weight="normal" font-style="normal" fill="#111">-4</text>
<line x1="322.8" y1="295.8" x2="368.1" y2="295.8" stroke="#8c8c8c" stroke-width="0.5"/>
<line x1="334.6" y1="281.6" x2="334.6" y2="306.3" stroke="#222" stroke-width="0.5" stroke-dasharray="1.2 0.8"/>
<line x1="334.6" y1="326.4" x2="334.6" y2="341.3" stroke="#222" stroke-width="0.5" stroke-dasharray="1.2 0.8"/>
<line x1="330.20000000000005" y1="281.6" x2="339.0" y2="281.6" stroke="#222" stroke-width="0.7"/>
<line x1="330.20000000000005" y1="341.3" x2="339.0" y2="341.3" stroke="#222" stroke-width="0.7"/>
<rect x="325.80" y="306.30" width="17.60" height="20.10" fill="none" stroke="#111" stroke-width="0.8"/>
<line x1="325.8" y1="315.2" x2="343.4" y2="315.2" stroke="#111" stroke-width="1.4"/>
<circle cx="334.71" cy="338.41" r="0.8" fill="#1b2f80"/>
<circle cx="334.66" cy="337.92" r="0.8" fill="#1b2f80"/>
<circle cx="334.59" cy="285.34" r="0.8" fill="#1b2f80"/>
<circle cx="334.52" cy="287.01" r="0.8" fill="#1b2f80"/>
<circle cx="334.65" cy="331.29" r="0.8" fill="#1b2f80"/>
<circle cx="334.54" cy="325.42" r="0.8" fill="#1b2f80"/>
<circle cx="334.48" cy="321.51" r="0.8" fill="#1b2f80"/>
<circle cx="334.58" cy="300.18" r="0.8" fill="#1b2f80"/>
<circle cx="334.71" cy="317.75" r="0.8" fill="#1b2f80"/>
<circle cx="334.49" cy="317.80" r="0.8" fill="#1b2f80"/>
<circle cx="334.63" cy="316.29" r="0.8" fill="#1b2f80"/>
<circle cx="334.57" cy="291.34" r="0.8" fill="#1b2f80"/>
<circle cx="334.60" cy="307.41" r="0.8" fill="#1b2f80"/>
<circle cx="334.49" cy="305.22" r="0.8" fill="#1b2f80"/>
<circle cx="334.74" cy="324.66" r="0.8" fill="#1b2f80"/>
<circle cx="334.53" cy="340.69" r="0.8" fill="#1b2f80"/>
<circle cx="334.63" cy="338.01" r="0.8" fill="#1b2f80"/>
<circle cx="334.58" cy="314.11" r="0.8" fill="#1b2f80"/>
<circle cx="334.46" cy="308.25" r="0.8" fill="#1b2f80"/>
<circle cx="334.62" cy="297.83" r="0.8" fill="#1b2f80"/>
<circle cx="334.49" cy="284.12" r="0.8" fill="#1b2f80"/>
<circle cx="334.47" cy="283.62" r="0.8" fill="#1b2f80"/>
<circle cx="334.46" cy="309.43" r="0.8" fill="#1b2f80"/>
<circle cx="334.50" cy="300.79" r="0.8" fill="#1b2f80"/>
<circle cx="334.48" cy="304.42" r="0.8" fill="#1b2f80"/>
<circle cx="334.64" cy="334.62" r="0.8" fill="#1b2f80"/>
<circle cx="334.60" cy="313.02" r="0.8" fill="#1b2f80"/>
<circle cx="334.75" cy="315.07" r="0.8" fill="#1b2f80"/>
<circle cx="334.73" cy="295.93" r="0.8" fill="#1b2f80"/>
<circle cx="334.75" cy="283.41" r="0.8" fill="#1b2f80"/>
<circle cx="334.52" cy="301.18" r="0.8" fill="#1b2f80"/>
<circle cx="334.58" cy="290.07" r="0.8" fill="#1b2f80"/>
<circle cx="334.53" cy="312.10" r="0.8" fill="#1b2f80"/>
<circle cx="334.63" cy="340.92" r="0.8" fill="#1b2f80"/>
<circle cx="334.64" cy="321.79" r="0.8" fill="#1b2f80"/>
<circle cx="334.69" cy="292.73" r="0.8" fill="#1b2f80"/>
<circle cx="334.66" cy="334.72" r="0.8" fill="#1b2f80"/>
<circle cx="334.53" cy="329.01" r="0.8" fill="#1b2f80"/>
<circle cx="334.58" cy="325.33" r="0.8" fill="#1b2f80"/>
<circle cx="334.61" cy="335.49" r="0.8" fill="#1b2f80"/>
<circle cx="334.45" cy="327.01" r="0.8" fill="#1b2f80"/>
<circle cx="334.46" cy="328.60" r="0.8" fill="#1b2f80"/>
<circle cx="334.57" cy="302.87" r="0.8" fill="#1b2f80"/>
<circle cx="334.48" cy="339.88" r="0.8" fill="#1b2f80"/>
<circle cx="334.67" cy="338.75" r="0.8" fill="#1b2f80"/>
<circle cx="334.52" cy="291.51" r="0.8" fill="#1b2f80"/>
<circle cx="334.48" cy="326.49" r="0.8" fill="#1b2f80"/>
<circle cx="334.50" cy="324.19" r="0.8" fill="#1b2f80"/>
<circle cx="334.52" cy="309.22" r="0.8" fill="#1b2f80"/>
<circle cx="334.52" cy="313.29" r="0.8" fill="#1b2f80"/>
<circle cx="334.61" cy="310.91" r="0.8" fill="#1b2f80"/>
<circle cx="334.59" cy="336.57" r="0.8" fill="#1b2f80"/>
<circle cx="334.54" cy="311.55" r="0.8" fill="#1b2f80"/>
<circle cx="334.64" cy="331.06" r="0.8" fill="#1b2f80"/>
<circle cx="334.51" cy="302.88" r="0.8" fill="#1b2f80"/>
<circle cx="334.72" cy="334.09" r="0.8" fill="#1b2f80"/>
<circle cx="334.74" cy="335.08" r="0.8" fill="#1b2f80"/>
<circle cx="334.67" cy="309.20" r="0.8" fill="#1b2f80"/>
<circle cx="334.58" cy="315.49" r="0.8" fill="#1b2f80"/>
<circle cx="334.60" cy="336.30" r="0.8" fill="#1b2f80"/>
<circle cx="334.62" cy="324.70" r="0.8" fill="#1b2f80"/>
<circle cx="334.47" cy="310.71" r="0.8" fill="#1b2f80"/>
<circle cx="334.58" cy="295.09" r="0.8" fill="#1b2f80"/>
<circle cx="334.61" cy="301.16" r="0.8" fill="#1b2f80"/>
<circle cx="334.50" cy="323.27" r="0.8" fill="#1b2f80"/>
<circle cx="334.48" cy="291.80" r="0.8" fill="#1b2f80"/>
<circle cx="334.69" cy="335.57" r="0.8" fill="#1b2f80"/>
<circle cx="334.56" cy="297.82" r="0.8" fill="#1b2f80"/>
<circle cx="334.61" cy="335.77" r="0.8" fill="#1b2f80"/>
<circle cx="334.73" cy="300.26" r="0.8" fill="#1b2f80"/>
<circle cx="334.63" cy="338.48" r="0.8" fill="#1b2f80"/>
<circle cx="334.54" cy="323.67" r="0.8" fill="#1b2f80"/>
<circle cx="334.75" cy="311.75" r="0.8" fill="#1b2f80"/>
<circle cx="334.56" cy="312.55" r="0.8" fill="#1b2f80"/>
<circle cx="334.46" cy="320.43" r="0.8" fill="#1b2f80"/>
<circle cx="334.66" cy="316.69" r="0.8" fill="#1b2f80"/>
<circle cx="334.48" cy="300.40" r="0.8" fill="#1b2f80"/>
<circle cx="334.54" cy="294.26" r="0.8" fill="#1b2f80"/>
<circle cx="334.70" cy="312.20" r="0.8" fill="#1b2f80"/>
<circle cx="334.65" cy="337.12" r="0.8" fill="#1b2f80"/>
<circle cx="334.45" cy="318.77" r="0.8" fill="#1b2f80"/>
<circle cx="334.59" cy="286.45" r="0.8" fill="#1b2f80"/>
<circle cx="334.57" cy="330.40" r="0.8" fill="#1b2f80"/>
<circle cx="334.60" cy="324.83" r="0.8" fill="#1b2f80"/>
<circle cx="334.51" cy="335.55" r="0.8" fill="#1b2f80"/>
<circle cx="334.63" cy="293.29" r="0.8" fill="#1b2f80"/>
<circle cx="334.47" cy="325.94" r="0.8" fill="#1b2f80"/>
<circle cx="334.54" cy="285.47" r="0.8" fill="#1b2f80"/>
<circle cx="334.56" cy="320.52" r="0.8" fill="#1b2f80"/>
<circle cx="334.73" cy="298.11" r="0.8" fill="#1b2f80"/>
<circle cx="334.47" cy="295.37" r="0.8" fill="#1b2f80"/>
<circle cx="334.68" cy="333.65" r="0.8" fill="#1b2f80"/>
<circle cx="334.51" cy="288.27" r="0.8" fill="#1b2f80"/>
<circle cx="334.62" cy="312.82" r="0.8" fill="#1b2f80"/>
<circle cx="334.57" cy="332.38" r="0.8" fill="#1b2f80"/>
<circle cx="334.59" cy="296.45" r="0.8" fill="#1b2f80"/>
<circle cx="334.68" cy="294.42" r="0.8" fill="#1b2f80"/>
<circle cx="334.57" cy="333.95" r="0.8" fill="#1b2f80"/>
<circle cx="334.49" cy="306.95" r="0.8" fill="#1b2f80"/>
<circle cx="334.49" cy="324.30" r="0.8" fill="#1b2f80"/>
<circle cx="334.47" cy="283.88" r="0.8" fill="#1b2f80"/>
<circle cx="334.71" cy="303.38" r="0.8" fill="#1b2f80"/>
<circle cx="334.64" cy="292.14" r="0.8" fill="#1b2f80"/>
<circle cx="334.74" cy="321.69" r="0.8" fill="#1b2f80"/>
<circle cx="334.66" cy="286.89" r="0.8" fill="#1b2f80"/>
<circle cx="334.46" cy="338.32" r="0.8" fill="#1b2f80"/>
<circle cx="334.65" cy="283.50" r="0.8" fill="#1b2f80"/>
<circle cx="334.68" cy="325.04" r="0.8" fill="#1b2f80"/>
<circle cx="334.67" cy="283.25" r="0.8" fill="#1b2f80"/>
<circle cx="334.60" cy="297.09" r="0.8" fill="#1b2f80"/>
<circle cx="334.56" cy="329.99" r="0.8" fill="#1b2f80"/>
<circle cx="334.59" cy="291.27" r="0.8" fill="#1b2f80"/>
<circle cx="334.69" cy="292.84" r="0.8" fill="#1b2f80"/>
<circle cx="334.53" cy="322.80" r="0.8" fill="#1b2f80"/>
<circle cx="334.61" cy="304.75" r="0.8" fill="#1b2f80"/>
<circle cx="334.59" cy="284.55" r="0.8" fill="#1b2f80"/>
<circle cx="334.74" cy="340.41" r="0.8" fill="#1b2f80"/>
<circle cx="334.69" cy="290.93" r="0.8" fill="#1b2f80"/>
<circle cx="334.73" cy="284.14" r="0.8" fill="#1b2f80"/>
<circle cx="334.70" cy="302.31" r="0.8" fill="#1b2f80"/>
<circle cx="334.54" cy="318.30" r="0.8" fill="#1b2f80"/>
<circle cx="334.52" cy="325.81" r="0.8" fill="#1b2f80"/>
<circle cx="334.60" cy="288.67" r="0.8" fill="#1b2f80"/>
<circle cx="334.53" cy="301.90" r="0.8" fill="#1b2f80"/>
<circle cx="334.58" cy="283.82" r="0.8" fill="#1b2f80"/>
<circle cx="334.65" cy="308.47" r="0.8" fill="#1b2f80"/>
<circle cx="334.73" cy="327.19" r="0.8" fill="#1b2f80"/>
<circle cx="334.63" cy="325.66" r="0.8" fill="#1b2f80"/>
<circle cx="334.70" cy="335.22" r="0.8" fill="#1b2f80"/>
<circle cx="334.48" cy="326.58" r="0.8" fill="#1b2f80"/>
<circle cx="334.60" cy="265.50" r="0.95" fill="#1b2f80"/>
<line x1="355.45" y1="287.9" x2="355.45" y2="294.1" stroke="#d9232d" stroke-width="0.5" stroke-dasharray="1 0.8"/>
<line x1="355.45" y1="309.5" x2="355.45" y2="316.9" stroke="#d9232d" stroke-width="0.5" stroke-dasharray="1 0.8"/>
<line x1="351.225" y1="287.9" x2="359.67499999999995" y2="287.9" stroke="#8e1b1f" stroke-width="0.7"/>
<line x1="351.225" y1="316.9" x2="359.67499999999995" y2="316.9" stroke="#8e1b1f" stroke-width="0.7"/>
<rect x="347.00" y="294.10" width="16.90" height="15.40" fill="none" stroke="#111" stroke-width="0.8"/>
<line x1="347" y1="298.9" x2="363.9" y2="298.9" stroke="#111" stroke-width="1.4"/>
<circle cx="355.45" cy="287.90" r="1.05" fill="#d9232d"/>
<circle cx="355.45" cy="316.90" r="1.05" fill="#d9232d"/>
<line x1="334.6" y1="344.4" x2="334.6" y2="346.2" stroke="#222" stroke-width="0.5"/>
<line x1="355.45" y1="344.4" x2="355.45" y2="346.2" stroke="#222" stroke-width="0.5"/>
<text x="334.6" y="351.8" font-size="5.9" text-anchor="middle" font-weight="normal" font-style="normal" fill="#111">Wt</text>
<text x="355.45" y="351.8" font-size="5.9" text-anchor="middle" font-weight="normal" font-style="normal" fill="#111">Mut</text>
<text x="336" y="273" font-size="6.0" text-anchor="start" font-weight="normal" font-style="normal" fill="#333"><tspan font-style="italic">P</tspan> = 0.039</text>
<text x="370.4" y="291.5" font-size="4.9" text-anchor="start" font-weight="bold" font-style="normal" fill="#111">Y537S</text>
<text x="370.4" y="297.5" font-size="4.9" text-anchor="start" font-weight="bold" font-style="normal" fill="#111">D538G/Y537N</text>
<text x="370.4" y="301.3" font-size="4.9" text-anchor="start" font-weight="bold" font-style="normal" fill="#111">D538G</text>
<text x="370.4" y="312.3" font-size="4.9" text-anchor="start" font-weight="bold" font-style="normal" fill="#111">D538G#</text>
<text x="370.4" y="320.3" font-size="4.9" text-anchor="start" font-weight="bold" font-style="normal" fill="#111">D538G#</text>
<text x="312.2" y="294" font-size="5.9" text-anchor="middle" font-weight="normal" font-style="normal" fill="#111" transform="rotate(-90 312.2 294)">Post - pre (dif. Log2)</text>
<text x="344.6" y="260.6" font-size="8" text-anchor="middle" font-weight="bold" font-style="normal" fill="#111"><tspan font-style="italic">PAGs</tspan></text>
<rect x="322.80" y="366.20" width="45.30" height="82.00" fill="#fff" stroke="#222" stroke-width="0.7"/>
<line x1="321.0" y1="375.05" x2="322.8" y2="375.05" stroke="#222" stroke-width="0.5"/>
<text x="320.2" y="376.95" font-size="6.3" text-anchor="end" font-weight="normal" font-style="normal" fill="#111">1</text>
<line x1="321.0" y1="389.0" x2="322.8" y2="389.0" stroke="#222" stroke-width="0.5"/>
<text x="320.2" y="390.9" font-size="6.3" text-anchor="end" font-weight="normal" font-style="normal" fill="#111">0</text>
<line x1="321.0" y1="402.95" x2="322.8" y2="402.95" stroke="#222" stroke-width="0.5"/>
<text x="320.2" y="404.84999999999997" font-size="6.3" text-anchor="end" font-weight="normal" font-style="normal" fill="#111">-1</text>
<line x1="321.0" y1="416.9" x2="322.8" y2="416.9" stroke="#222" stroke-width="0.5"/>
<text x="320.2" y="418.79999999999995" font-size="6.3" text-anchor="end" font-weight="normal" font-style="normal" fill="#111">-2</text>
<line x1="321.0" y1="430.85" x2="322.8" y2="430.85" stroke="#222" stroke-width="0.5"/>
<text x="320.2" y="432.75" font-size="6.3" text-anchor="end" font-weight="normal" font-style="normal" fill="#111">-3</text>
<line x1="321.0" y1="444.8" x2="322.8" y2="444.8" stroke="#222" stroke-width="0.5"/>
<text x="320.2" y="446.7" font-size="6.3" text-anchor="end" font-weight="normal" font-style="normal" fill="#111">-4</text>
<line x1="322.8" y1="389" x2="368.1" y2="389" stroke="#8c8c8c" stroke-width="0.5"/>
<line x1="334.6" y1="373.1" x2="334.6" y2="391.1" stroke="#222" stroke-width="0.5" stroke-dasharray="1.2 0.8"/>
<line x1="334.6" y1="411.2" x2="334.6" y2="431.7" stroke="#222" stroke-width="0.5" stroke-dasharray="1.2 0.8"/>
<line x1="330.20000000000005" y1="373.1" x2="339.0" y2="373.1" stroke="#222" stroke-width="0.7"/>
<line x1="330.20000000000005" y1="431.7" x2="339.0" y2="431.7" stroke="#222" stroke-width="0.7"/>
<rect x="325.80" y="391.10" width="17.60" height="20.10" fill="none" stroke="#111" stroke-width="0.8"/>
<line x1="325.8" y1="400.4" x2="343.4" y2="400.4" stroke="#111" stroke-width="1.4"/>
<circle cx="334.53" cy="387.80" r="0.8" fill="#1b2f80"/>
<circle cx="334.59" cy="405.57" r="0.8" fill="#1b2f80"/>
<circle cx="334.63" cy="395.46" r="0.8" fill="#1b2f80"/>
<circle cx="334.55" cy="409.03" r="0.8" fill="#1b2f80"/>
<circle cx="334.56" cy="410.29" r="0.8" fill="#1b2f80"/>
<circle cx="334.54" cy="377.80" r="0.8" fill="#1b2f80"/>
<circle cx="334.56" cy="374.76" r="0.8" fill="#1b2f80"/>
<circle cx="334.63" cy="422.57" r="0.8" fill="#1b2f80"/>
<circle cx="334.54" cy="389.04" r="0.8" fill="#1b2f80"/>
<circle cx="334.56" cy="387.59" r="0.8" fill="#1b2f80"/>
<circle cx="334.68" cy="431.75" r="0.8" fill="#1b2f80"/>
<circle cx="334.46" cy="401.28" r="0.8" fill="#1b2f80"/>
<circle cx="334.62" cy="422.51" r="0.8" fill="#1b2f80"/>
<circle cx="334.67" cy="401.63" r="0.8" fill="#1b2f80"/>
<circle cx="334.54" cy="411.07" r="0.8" fill="#1b2f80"/>
<circle cx="334.52" cy="382.74" r="0.8" fill="#1b2f80"/>
<circle cx="334.69" cy="410.82" r="0.8" fill="#1b2f80"/>
<circle cx="334.52" cy="424.35" r="0.8" fill="#1b2f80"/>
<circle cx="334.51" cy="404.34" r="0.8" fill="#1b2f80"/>
<circle cx="334.58" cy="416.99" r="0.8" fill="#1b2f80"/>
<circle cx="334.66" cy="412.94" r="0.8" fill="#1b2f80"/>
<circle cx="334.48" cy="377.71" r="0.8" fill="#1b2f80"/>
<circle cx="334.55" cy="417.98" r="0.8" fill="#1b2f80"/>
<circle cx="334.55" cy="408.28" r="0.8" fill="#1b2f80"/>
<circle cx="334.70" cy="391.47" r="0.8" fill="#1b2f80"/>
<circle cx="334.58" cy="375.80" r="0.8" fill="#1b2f80"/>
<circle cx="334.71" cy="424.20" r="0.8" fill="#1b2f80"/>
<circle cx="334.50" cy="401.42" r="0.8" fill="#1b2f80"/>
<circle cx="334.55" cy="415.69" r="0.8" fill="#1b2f80"/>
<circle cx="334.65" cy="424.97" r="0.8" fill="#1b2f80"/>
<circle cx="334.72" cy="415.42" r="0.8" fill="#1b2f80"/>
<circle cx="334.59" cy="427.42" r="0.8" fill="#1b2f80"/>
<circle cx="334.52" cy="396.91" r="0.8" fill="#1b2f80"/>
<circle cx="334.49" cy="420.45" r="0.8" fill="#1b2f80"/>
<circle cx="334.61" cy="399.79" r="0.8" fill="#1b2f80"/>
<circle cx="334.51" cy="428.26" r="0.8" fill="#1b2f80"/>
<circle cx="334.69" cy="424.97" r="0.8" fill="#1b2f80"/>
<circle cx="334.70" cy="379.65" r="0.8" fill="#1b2f80"/>
<circle cx="334.51" cy="381.89" r="0.8" fill="#1b2f80"/>
<circle cx="334.53" cy="386.59" r="0.8" fill="#1b2f80"/>
<circle cx="334.69" cy="430.00" r="0.8" fill="#1b2f80"/>
<circle cx="334.64" cy="399.30" r="0.8" fill="#1b2f80"/>
<circle cx="334.69" cy="410.35" r="0.8" fill="#1b2f80"/>
<circle cx="334.55" cy="391.46" r="0.8" fill="#1b2f80"/>
<circle cx="334.49" cy="403.42" r="0.8" fill="#1b2f80"/>
<circle cx="334.54" cy="396.38" r="0.8" fill="#1b2f80"/>
<circle cx="334.69" cy="394.35" r="0.8" fill="#1b2f80"/>
<circle cx="334.53" cy="407.93" r="0.8" fill="#1b2f80"/>
<circle cx="334.55" cy="407.89" r="0.8" fill="#1b2f80"/>
<circle cx="334.58" cy="426.44" r="0.8" fill="#1b2f80"/>
<circle cx="334.58" cy="413.55" r="0.8" fill="#1b2f80"/>
<circle cx="334.57" cy="427.88" r="0.8" fill="#1b2f80"/>
<circle cx="334.73" cy="423.67" r="0.8" fill="#1b2f80"/>
<circle cx="334.50" cy="431.48" r="0.8" fill="#1b2f80"/>
<circle cx="334.45" cy="412.93" r="0.8" fill="#1b2f80"/>
<circle cx="334.73" cy="383.46" r="0.8" fill="#1b2f80"/>
<circle cx="334.71" cy="423.92" r="0.8" fill="#1b2f80"/>
<circle cx="334.75" cy="429.95" r="0.8" fill="#1b2f80"/>
<circle cx="334.58" cy="426.47" r="0.8" fill="#1b2f80"/>
<circle cx="334.74" cy="407.01" r="0.8" fill="#1b2f80"/>
<circle cx="334.73" cy="415.40" r="0.8" fill="#1b2f80"/>
<circle cx="334.52" cy="386.25" r="0.8" fill="#1b2f80"/>
<circle cx="334.67" cy="422.23" r="0.8" fill="#1b2f80"/>
<circle cx="334.70" cy="407.26" r="0.8" fill="#1b2f80"/>
<circle cx="334.65" cy="390.53" r="0.8" fill="#1b2f80"/>
<circle cx="334.61" cy="377.68" r="0.8" fill="#1b2f80"/>
<circle cx="334.54" cy="423.53" r="0.8" fill="#1b2f80"/>
<circle cx="334.55" cy="431.41" r="0.8" fill="#1b2f80"/>
<circle cx="334.52" cy="379.13" r="0.8" fill="#1b2f80"/>
<circle cx="334.47" cy="420.43" r="0.8" fill="#1b2f80"/>
<circle cx="334.63" cy="397.81" r="0.8" fill="#1b2f80"/>
<circle cx="334.54" cy="382.74" r="0.8" fill="#1b2f80"/>
<circle cx="334.69" cy="391.05" r="0.8" fill="#1b2f80"/>
<circle cx="334.46" cy="418.59" r="0.8" fill="#1b2f80"/>
<circle cx="334.72" cy="424.62" r="0.8" fill="#1b2f80"/>
<circle cx="334.66" cy="376.56" r="0.8" fill="#1b2f80"/>
<circle cx="334.73" cy="409.64" r="0.8" fill="#1b2f80"/>
<circle cx="334.72" cy="376.61" r="0.8" fill="#1b2f80"/>
<circle cx="334.72" cy="415.67" r="0.8" fill="#1b2f80"/>
<circle cx="334.62" cy="393.20" r="0.8" fill="#1b2f80"/>
<circle cx="334.45" cy="425.09" r="0.8" fill="#1b2f80"/>
<circle cx="334.67" cy="430.88" r="0.8" fill="#1b2f80"/>
<circle cx="334.50" cy="403.31" r="0.8" fill="#1b2f80"/>
<circle cx="334.54" cy="431.91" r="0.8" fill="#1b2f80"/>
<circle cx="334.65" cy="391.96" r="0.8" fill="#1b2f80"/>
<circle cx="334.61" cy="378.46" r="0.8" fill="#1b2f80"/>
<circle cx="334.57" cy="408.79" r="0.8" fill="#1b2f80"/>
<circle cx="334.73" cy="375.82" r="0.8" fill="#1b2f80"/>
<circle cx="334.63" cy="385.45" r="0.8" fill="#1b2f80"/>
<circle cx="334.55" cy="397.66" r="0.8" fill="#1b2f80"/>
<circle cx="334.53" cy="409.41" r="0.8" fill="#1b2f80"/>
<circle cx="334.71" cy="383.06" r="0.8" fill="#1b2f80"/>
<circle cx="334.59" cy="376.46" r="0.8" fill="#1b2f80"/>
<circle cx="334.68" cy="424.33" r="0.8" fill="#1b2f80"/>
<circle cx="334.56" cy="392.20" r="0.8" fill="#1b2f80"/>
<circle cx="334.51" cy="429.60" r="0.8" fill="#1b2f80"/>
<circle cx="334.61" cy="426.01" r="0.8" fill="#1b2f80"/>
<circle cx="334.70" cy="395.91" r="0.8" fill="#1b2f80"/>
<circle cx="334.50" cy="400.70" r="0.8" fill="#1b2f80"/>
<circle cx="334.69" cy="404.16" r="0.8" fill="#1b2f80"/>
<circle cx="334.73" cy="411.35" r="0.8" fill="#1b2f80"/>
<circle cx="334.69" cy="408.55" r="0.8" fill="#1b2f80"/>
<circle cx="334.70" cy="406.44" r="0.8" fill="#1b2f80"/>
<circle cx="334.45" cy="409.97" r="0.8" fill="#1b2f80"/>
<circle cx="334.64" cy="428.56" r="0.8" fill="#1b2f80"/>
<circle cx="334.71" cy="403.41" r="0.8" fill="#1b2f80"/>
<circle cx="334.46" cy="399.01" r="0.8" fill="#1b2f80"/>
<circle cx="334.53" cy="415.78" r="0.8" fill="#1b2f80"/>
<circle cx="334.53" cy="387.78" r="0.8" fill="#1b2f80"/>
<circle cx="334.61" cy="391.46" r="0.8" fill="#1b2f80"/>
<circle cx="334.58" cy="430.71" r="0.8" fill="#1b2f80"/>
<circle cx="334.59" cy="404.23" r="0.8" fill="#1b2f80"/>
<circle cx="334.68" cy="405.81" r="0.8" fill="#1b2f80"/>
<circle cx="334.45" cy="374.66" r="0.8" fill="#1b2f80"/>
<circle cx="334.47" cy="398.08" r="0.8" fill="#1b2f80"/>
<circle cx="334.49" cy="407.64" r="0.8" fill="#1b2f80"/>
<circle cx="334.49" cy="375.16" r="0.8" fill="#1b2f80"/>
<circle cx="334.47" cy="409.72" r="0.8" fill="#1b2f80"/>
<circle cx="334.74" cy="410.67" r="0.8" fill="#1b2f80"/>
<circle cx="334.71" cy="377.48" r="0.8" fill="#1b2f80"/>
<circle cx="334.48" cy="410.39" r="0.8" fill="#1b2f80"/>
<circle cx="334.60" cy="401.04" r="0.8" fill="#1b2f80"/>
<circle cx="334.54" cy="413.40" r="0.8" fill="#1b2f80"/>
<circle cx="334.54" cy="394.45" r="0.8" fill="#1b2f80"/>
<circle cx="334.56" cy="415.00" r="0.8" fill="#1b2f80"/>
<circle cx="334.64" cy="416.81" r="0.8" fill="#1b2f80"/>
<circle cx="334.63" cy="375.29" r="0.8" fill="#1b2f80"/>
<circle cx="334.56" cy="377.51" r="0.8" fill="#1b2f80"/>
<circle cx="334.51" cy="413.21" r="0.8" fill="#1b2f80"/>
<circle cx="334.55" cy="429.87" r="0.8" fill="#1b2f80"/>
<circle cx="334.60" cy="445.50" r="0.95" fill="#1b2f80"/>
<line x1="355.45" y1="368.9" x2="355.45" y2="375.7" stroke="#d9232d" stroke-width="0.5" stroke-dasharray="1 0.8"/>
<line x1="355.45" y1="394.1" x2="355.45" y2="415.9" stroke="#d9232d" stroke-width="0.5" stroke-dasharray="1 0.8"/>
<line x1="351.225" y1="368.9" x2="359.67499999999995" y2="368.9" stroke="#8e1b1f" stroke-width="0.7"/>
<line x1="351.225" y1="415.9" x2="359.67499999999995" y2="415.9" stroke="#8e1b1f" stroke-width="0.7"/>
<rect x="347.00" y="375.70" width="16.90" height="18.40" fill="none" stroke="#111" stroke-width="0.8"/>
<line x1="347" y1="377.4" x2="363.9" y2="377.4" stroke="#111" stroke-width="1.4"/>
<circle cx="355.45" cy="368.90" r="1.05" fill="#d9232d"/>
<circle cx="355.45" cy="374.50" r="1.05" fill="#d9232d"/>
<circle cx="355.45" cy="377.80" r="1.05" fill="#d9232d"/>
<circle cx="355.45" cy="394.10" r="1.05" fill="#d9232d"/>
<circle cx="355.45" cy="415.90" r="1.05" fill="#d9232d"/>
<line x1="334.6" y1="448.2" x2="334.6" y2="450.0" stroke="#222" stroke-width="0.5"/>
<line x1="355.45" y1="448.2" x2="355.45" y2="450.0" stroke="#222" stroke-width="0.5"/>
<text x="334.6" y="455.2" font-size="5.9" text-anchor="middle" font-weight="normal" font-style="normal" fill="#111">Wt</text>
<text x="355.45" y="455.2" font-size="5.9" text-anchor="middle" font-weight="normal" font-style="normal" fill="#111">Mut</text>
<text x="336" y="442" font-size="6.0" text-anchor="start" font-weight="normal" font-style="normal" fill="#333"><tspan font-style="italic">P</tspan> = 0.016</text>
<text x="370.4" y="371.5" font-size="4.9" text-anchor="start" font-weight="bold" font-style="normal" fill="#111">D538G</text>
<text x="370.4" y="374.9" font-size="4.9" text-anchor="start" font-weight="bold" font-style="normal" fill="#111">D538G#</text>
<text x="370.4" y="377.09999999999997" font-size="4.9" text-anchor="start" font-weight="bold" font-style="normal" fill="#111">D538G</text>
<text x="370.4" y="380.09999999999997" font-size="4.9" text-anchor="start" font-weight="bold" font-style="normal" fill="#111">Y537S</text>
<text x="370.4" y="396.8" font-size="4.9" text-anchor="start" font-weight="bold" font-style="normal" fill="#111">D538G/Y537N</text>
<text x="370.4" y="418.59999999999997" font-size="4.9" text-anchor="start" font-weight="bold" font-style="normal" fill="#111">D538G#</text>
<text x="312.2" y="398" font-size="5.9" text-anchor="middle" font-weight="normal" font-style="normal" fill="#111" transform="rotate(-90 312.2 398)">Post - pre (dif. Log2)</text>
<text x="344.8" y="364.6" font-size="8" text-anchor="middle" font-weight="bold" font-style="normal" fill="#111"><tspan font-style="italic">ESR1</tspan></text>
<rect x="429.50" y="158.50" width="45.70" height="81.50" fill="#fff" stroke="#222" stroke-width="0.7"/>
<line x1="429.5" y1="164.4" x2="475.2" y2="164.4" stroke="#8c8c8c" stroke-width="0.5"/>
<line x1="430.7" y1="163.1" x2="473.6" y2="238.2" stroke="#1f3068" stroke-width="1.1"/>
<polygon points="473.6,238.2 470.5,236.0 473.2,234.4" fill="#1f3068"/>
<line x1="432.2" y1="169.5" x2="473.8" y2="160.8" stroke="#d9232d" stroke-width="1.1"/>
<polygon points="473.8,160.8 470.7,163.0 470.1,160.0" fill="#d9232d"/>
<text x="442.2" y="178" font-size="6.1" text-anchor="start" font-weight="normal" font-style="normal" fill="#d9232d"><tspan font-style="italic">P</tspan> = 0.844</text>
<text x="435.4" y="232.6" font-size="6.1" text-anchor="start" font-weight="normal" font-style="normal" fill="#2a3566"><tspan font-style="italic">P</tspan> &lt; 0.001</text>
<line x1="427.7" y1="165.9" x2="429.5" y2="165.9" stroke="#222" stroke-width="0.5"/>
<text x="426.3" y="165.9" font-size="5.8" text-anchor="middle" font-weight="normal" font-style="normal" fill="#111" transform="rotate(-90 426.3 165.9)">7.5</text>
<line x1="427.7" y1="177" x2="429.5" y2="177" stroke="#222" stroke-width="0.5"/>
<text x="426.3" y="177" font-size="5.8" text-anchor="middle" font-weight="normal" font-style="normal" fill="#111" transform="rotate(-90 426.3 177)">7.0</text>
<line x1="427.7" y1="189" x2="429.5" y2="189" stroke="#222" stroke-width="0.5"/>
<text x="426.3" y="189" font-size="5.8" text-anchor="middle" font-weight="normal" font-style="normal" fill="#111" transform="rotate(-90 426.3 189)">6.5</text>
<line x1="427.7" y1="201.4" x2="429.5" y2="201.4" stroke="#222" stroke-width="0.5"/>
<text x="426.3" y="201.4" font-size="5.8" text-anchor="middle" font-weight="normal" font-style="normal" fill="#111" transform="rotate(-90 426.3 201.4)">6.0</text>
<line x1="427.7" y1="213.5" x2="429.5" y2="213.5" stroke="#222" stroke-width="0.5"/>
<text x="426.3" y="213.5" font-size="5.8" text-anchor="middle" font-weight="normal" font-style="normal" fill="#111" transform="rotate(-90 426.3 213.5)">5.5</text>
<line x1="427.7" y1="225" x2="429.5" y2="225" stroke="#222" stroke-width="0.5"/>
<text x="426.3" y="225" font-size="5.8" text-anchor="middle" font-weight="normal" font-style="normal" fill="#111" transform="rotate(-90 426.3 225)">5.0</text>
<line x1="475.2" y1="163.7" x2="477.0" y2="163.7" stroke="#222" stroke-width="0.5"/>
<text x="482.8" y="163.7" font-size="5.8" text-anchor="middle" font-weight="normal" font-style="normal" fill="#111" transform="rotate(-90 482.8 163.7)">0</text>
<line x1="475.2" y1="188" x2="477.0" y2="188" stroke="#222" stroke-width="0.5"/>
<text x="482.8" y="188" font-size="5.8" text-anchor="middle" font-weight="normal" font-style="normal" fill="#111" transform="rotate(-90 482.8 188)">-1</text>
<line x1="475.2" y1="212.4" x2="477.0" y2="212.4" stroke="#222" stroke-width="0.5"/>
<text x="482.8" y="212.4" font-size="5.8" text-anchor="middle" font-weight="normal" font-style="normal" fill="#111" transform="rotate(-90 482.8 212.4)">-2</text>
<line x1="475.2" y1="235.7" x2="477.0" y2="235.7" stroke="#222" stroke-width="0.5"/>
<text x="482.8" y="235.7" font-size="5.8" text-anchor="middle" font-weight="normal" font-style="normal" fill="#111" transform="rotate(-90 482.8 235.7)">-3</text>
<text x="420" y="196" font-size="5.9" text-anchor="middle" font-weight="normal" font-style="normal" fill="#111" transform="rotate(-90 420 196)">Mean counts (Log2)</text>
<text x="488.2" y="191" font-size="5.9" text-anchor="middle" font-weight="normal" font-style="normal" fill="#111" transform="rotate(-90 488.2 191)">Post - pre (dif. Log2)</text>
<text x="453" y="156.3" font-size="8" text-anchor="middle" font-weight="bold" font-style="italic" fill="#111">ERGs</text>
<line x1="431.7" y1="240.0" x2="431.7" y2="241.8" stroke="#222" stroke-width="0.5"/>
<line x1="473.0" y1="240.0" x2="473.0" y2="241.8" stroke="#222" stroke-width="0.5"/>
<text x="433.7" y="241.3" font-size="5.8" text-anchor="end" font-weight="normal" font-style="normal" fill="#111" transform="rotate(-90 433.7 241.3)">Pre</text>
<text x="475.0" y="241.3" font-size="5.8" text-anchor="end" font-weight="normal" font-style="normal" fill="#111" transform="rotate(-90 475.0 241.3)">Post</text>
<rect x="429.50" y="262.30" width="45.10" height="81.70" fill="#fff" stroke="#222" stroke-width="0.7"/>
<line x1="429.5" y1="285.6" x2="474.6" y2="285.6" stroke="#8c8c8c" stroke-width="0.5"/>
<line x1="430.7" y1="286.3" x2="473" y2="342.2" stroke="#1f3068" stroke-width="1.1"/>
<polygon points="473.0,342.2 469.7,340.4 472.1,338.5" fill="#1f3068"/>
<line x1="430.7" y1="265.5" x2="473.2" y2="283.3" stroke="#d9232d" stroke-width="1.1"/>
<polygon points="473.2,283.3 469.4,283.4 470.6,280.5" fill="#d9232d"/>
<text x="443.8" y="271" font-size="6.1" text-anchor="start" font-weight="normal" font-style="normal" fill="#d9232d"><tspan font-style="italic">P</tspan> = 0.438</text>
<text x="433.3" y="338.6" font-size="6.1" text-anchor="start" font-weight="normal" font-style="normal" fill="#2a3566"><tspan font-style="italic">P</tspan> &lt; 0.001</text>
<line x1="427.7" y1="261.3" x2="429.5" y2="261.3" stroke="#222" stroke-width="0.5"/>
<text x="426.3" y="261.3" font-size="5.8" text-anchor="middle" font-weight="normal" font-style="normal" fill="#111" transform="rotate(-90 426.3 261.3)">8.5</text>
<line x1="427.7" y1="277.8" x2="429.5" y2="277.8" stroke="#222" stroke-width="0.5"/>
<text x="426.3" y="277.8" font-size="5.8" text-anchor="middle" font-weight="normal" font-style="normal" fill="#111" transform="rotate(-90 426.3 277.8)">8.0</text>
<line x1="427.7" y1="290.5" x2="429.5" y2="290.5" stroke="#222" stroke-width="0.5"/>
<text x="426.3" y="290.5" font-size="5.8" text-anchor="middle" font-weight="normal" font-style="normal" fill="#111" transform="rotate(-90 426.3 290.5)">7.5</text>
<line x1="427.7" y1="303.2" x2="429.5" y2="303.2" stroke="#222" stroke-width="0.5"/>
<text x="426.3" y="303.2" font-size="5.8" text-anchor="middle" font-weight="normal" font-style="normal" fill="#111" transform="rotate(-90 426.3 303.2)">7.0</text>
<line x1="427.7" y1="316.9" x2="429.5" y2="316.9" stroke="#222" stroke-width="0.5"/>
<text x="426.3" y="316.9" font-size="5.8" text-anchor="middle" font-weight="normal" font-style="normal" fill="#111" transform="rotate(-90 426.3 316.9)">6.5</text>
<line x1="427.7" y1="330" x2="429.5" y2="330" stroke="#222" stroke-width="0.5"/>
<text x="426.3" y="330" font-size="5.8" text-anchor="middle" font-weight="normal" font-style="normal" fill="#111" transform="rotate(-90 426.3 330)">6.0</text>
<line x1="474.6" y1="283.7" x2="476.40000000000003" y2="283.7" stroke="#222" stroke-width="0.5"/>
<text x="482.20000000000005" y="283.7" font-size="5.8" text-anchor="middle" font-weight="normal" font-style="normal" fill="#111" transform="rotate(-90 482.20000000000005 283.7)">0</text>
<line x1="474.6" y1="312.3" x2="476.40000000000003" y2="312.3" stroke="#222" stroke-width="0.5"/>
<text x="482.20000000000005" y="312.3" font-size="5.8" text-anchor="middle" font-weight="normal" font-style="normal" fill="#111" transform="rotate(-90 482.20000000000005 312.3)">-1</text>
<line x1="474.6" y1="338.5" x2="476.40000000000003" y2="338.5" stroke="#222" stroke-width="0.5"/>
<text x="482.20000000000005" y="338.5" font-size="5.8" text-anchor="middle" font-weight="normal" font-style="normal" fill="#111" transform="rotate(-90 482.20000000000005 338.5)">-2</text>
<text x="419.5" y="293.5" font-size="5.9" text-anchor="middle" font-weight="normal" font-style="normal" fill="#111" transform="rotate(-90 419.5 293.5)">Mean counts (Log2)</text>
<text x="488.8" y="293.5" font-size="5.9" text-anchor="middle" font-weight="normal" font-style="normal" fill="#111" transform="rotate(-90 488.8 293.5)">Post - pre (dif. Log2)</text>
<text x="452.3" y="260.6" font-size="8" text-anchor="middle" font-weight="bold" font-style="italic" fill="#111">PAGs</text>
<line x1="431.7" y1="344.0" x2="431.7" y2="345.8" stroke="#222" stroke-width="0.5"/>
<line x1="472.40000000000003" y1="344.0" x2="472.40000000000003" y2="345.8" stroke="#222" stroke-width="0.5"/>
<text x="433.7" y="345.3" font-size="5.8" text-anchor="end" font-weight="normal" font-style="normal" fill="#111" transform="rotate(-90 433.7 345.3)">Pre</text>
<text x="474.40000000000003" y="345.3" font-size="5.8" text-anchor="end" font-weight="normal" font-style="normal" fill="#111" transform="rotate(-90 474.40000000000003 345.3)">Post</text>
<rect x="429.50" y="366.20" width="45.10" height="82.00" fill="#fff" stroke="#222" stroke-width="0.7"/>
<line x1="429.5" y1="370.4" x2="474.6" y2="370.4" stroke="#8c8c8c" stroke-width="0.5"/>
<line x1="430.7" y1="370" x2="473" y2="446.6" stroke="#1f3068" stroke-width="1.1"/>
<polygon points="473.0,446.6 470.0,444.3 472.7,442.8" fill="#1f3068"/>
<line x1="430.7" y1="394.7" x2="473.2" y2="369.1" stroke="#d9232d" stroke-width="1.1"/>
<polygon points="473.2,369.1 471.0,372.2 469.4,369.6" fill="#d9232d"/>
<text x="444.9" y="392" font-size="6.1" text-anchor="start" font-weight="normal" font-style="normal" fill="#d9232d"><tspan font-style="italic">P</tspan> = 0.563</text>
<text x="433.3" y="439.2" font-size="6.1" text-anchor="start" font-weight="normal" font-style="normal" fill="#2a3566"><tspan font-style="italic">P</tspan> &lt; 0.001</text>
<line x1="427.7" y1="378.8" x2="429.5" y2="378.8" stroke="#222" stroke-width="0.5"/>
<text x="426.3" y="378.8" font-size="5.8" text-anchor="middle" font-weight="normal" font-style="normal" fill="#111" transform="rotate(-90 426.3 378.8)">12.2</text>
<line x1="427.7" y1="394.7" x2="429.5" y2="394.7" stroke="#222" stroke-width="0.5"/>
<text x="426.3" y="394.7" font-size="5.8" text-anchor="middle" font-weight="normal" font-style="normal" fill="#111" transform="rotate(-90 426.3 394.7)">12.0</text>
<line x1="427.7" y1="410.6" x2="429.5" y2="410.6" stroke="#222" stroke-width="0.5"/>
<text x="426.3" y="410.6" font-size="5.8" text-anchor="middle" font-weight="normal" font-style="normal" fill="#111" transform="rotate(-90 426.3 410.6)">11.8</text>
<line x1="427.7" y1="428.6" x2="429.5" y2="428.6" stroke="#222" stroke-width="0.5"/>
<text x="426.3" y="428.6" font-size="5.8" text-anchor="middle" font-weight="normal" font-style="normal" fill="#111" transform="rotate(-90 426.3 428.6)">11.6</text>
<line x1="474.6" y1="370" x2="476.40000000000003" y2="370" stroke="#222" stroke-width="0.5"/>
<text x="482.20000000000005" y="370" font-size="5.8" text-anchor="middle" font-weight="normal" font-style="normal" fill="#111" transform="rotate(-90 482.20000000000005 370)">0</text>
<text x="418.4" y="398" font-size="5.9" text-anchor="middle" font-weight="normal" font-style="normal" fill="#111" transform="rotate(-90 418.4 398)">Mean counts (Log2)</text>
<text x="488.4" y="398.5" font-size="5.9" text-anchor="middle" font-weight="normal" font-style="normal" fill="#111" transform="rotate(-90 488.4 398.5)">Post - pre (dif. Log2)</text>
<text x="452.3" y="364.6" font-size="8" text-anchor="middle" font-weight="bold" font-style="italic" fill="#111">ESR1</text>
<line x1="431.7" y1="448.2" x2="431.7" y2="450.0" stroke="#222" stroke-width="0.5"/>
<line x1="472.40000000000003" y1="448.2" x2="472.40000000000003" y2="450.0" stroke="#222" stroke-width="0.5"/>
<text x="433.7" y="449.5" font-size="5.8" text-anchor="end" font-weight="normal" font-style="normal" fill="#111" transform="rotate(-90 433.7 449.5)">Pre</text>
<text x="474.40000000000003" y="449.5" font-size="5.8" text-anchor="end" font-weight="normal" font-style="normal" fill="#111" transform="rotate(-90 474.40000000000003 449.5)">Post</text>
</g>
<g id="panelD">
<defs><filter id="cb" x="-50%" y="-50%" width="200%" height="200%"><feGaussianBlur stdDeviation="1.25"/></filter><filter id="cb2" x="-50%" y="-50%" width="200%" height="200%"><feGaussianBlur stdDeviation="3"/></filter><filter id="cb0" x="-50%" y="-50%" width="200%" height="200%"><feGaussianBlur stdDeviation="0.8"/></filter></defs>
<text x="5.5" y="444.5" font-size="12" text-anchor="start" font-weight="bold" font-style="normal" fill="#000">D</text>
<text x="94.3" y="445.2" font-size="7.6" text-anchor="middle" font-weight="bold" font-style="normal" fill="#111">Post-NAI</text>
<line x1="14.8" y1="449.8" x2="176.2" y2="449.8" stroke="#333" stroke-width="0.8"/>
<text x="217.7" y="630.6" font-size="7.6" text-anchor="middle" font-weight="bold" font-style="normal" fill="#111">Pre-NAI</text>
<line x1="181.3" y1="635.2" x2="257.8" y2="635.2" stroke="#333" stroke-width="0.8"/>
<rect x="183.20" y="454.30" width="8.00" height="7.60" fill="#8cc63f" stroke="none" stroke-width="0.5"/>
<text x="193.8" y="461.3" font-size="8.2" text-anchor="start" font-weight="normal" font-style="italic" fill="#111">ESR1</text>
<rect x="183.20" y="465.80" width="8.00" height="7.60" fill="#ed1c24" stroke="none" stroke-width="0.5"/>
<text x="193.8" y="472.8" font-size="8.2" text-anchor="start" font-weight="normal" font-style="normal" fill="#111">CEP6</text>
<clipPath id="cpi1"><rect x="14.7" y="453.8" width="79.3" height="87.9"/></clipPath>
<rect x="14.70" y="453.80" width="79.30" height="87.90" fill="#04040c" stroke="none" stroke-width="0.5"/>
<g clip-path="url(#cpi1)"><g filter="url(#cb2)"><ellipse cx="52.4" cy="476" rx="5.5" ry="6.5" fill="#343ecc" opacity="0.38"/><ellipse cx="34.2" cy="476.8" rx="5.2" ry="5.9" fill="#1c1f80" opacity="0.32"/><ellipse cx="84.4" cy="486.3" rx="5.2" ry="7.8" fill="#343ecc" opacity="0.38"/><ellipse cx="83.6" cy="472.5" rx="4.5" ry="3.2" fill="#3a9aa8" opacity="0.32"/><ellipse cx="60.2" cy="490.7" rx="5.2" ry="7.8" fill="#343ecc" opacity="0.36"/><ellipse cx="35.1" cy="493.3" rx="4.9" ry="6.2" fill="#343ecc" opacity="0.34"/><ellipse cx="29.9" cy="502" rx="5.2" ry="5.9" fill="#1c1f80" opacity="0.30"/><ellipse cx="67.1" cy="505.4" rx="5.5" ry="6.5" fill="#282db0" opacity="0.34"/><ellipse cx="68.8" cy="518.4" rx="5.5" ry="7.8" fill="#343ecc" opacity="0.36"/><ellipse cx="66.5" cy="521.5" rx="3.9" ry="4.5" fill="#2f9d6a" opacity="0.24"/><ellipse cx="61.1" cy="532.2" rx="4.2" ry="6.5" fill="#3a7fd0" opacity="0.36"/><ellipse cx="33.4" cy="526.2" rx="3.4" ry="5.9" fill="#2e9d4a" opacity="0.30"/><ellipse cx="28.2" cy="527.9" rx="4.5" ry="5.2" fill="#1c1f80" opacity="0.28"/><ellipse cx="23" cy="457.8" rx="6.5" ry="5.2" fill="#282db0" opacity="0.32"/><ellipse cx="18.7" cy="470.8" rx="3.9" ry="5.2" fill="#1c1f80" opacity="0.24"/><ellipse cx="86" cy="530" rx="3.9" ry="3.9" fill="#1c1f80" opacity="0.16"/><ellipse cx="52" cy="458" rx="3.9" ry="2.6" fill="#2a7a4a" opacity="0.20"/><ellipse cx="82" cy="456" rx="3.2" ry="2.6" fill="#2a7a4a" opacity="0.20"/></g><g filter="url(#cb)"><ellipse cx="52.4" cy="476" rx="4.1" ry="4.9" fill="#343ecc" opacity="0.95" transform="rotate(20 52.4 476)"/><ellipse cx="34.2" cy="476.8" rx="3.9" ry="4.4" fill="#1c1f80" opacity="0.80" transform="rotate(0 34.2 476.8)"/><ellipse cx="84.4" cy="486.3" rx="3.9" ry="5.9" fill="#343ecc" opacity="0.95" transform="rotate(-10 84.4 486.3)"/><ellipse cx="83.6" cy="472.5" rx="3.4" ry="2.5" fill="#3a9aa8" opacity="0.80" transform="rotate(0 83.6 472.5)"/><ellipse cx="60.2" cy="490.7" rx="3.9" ry="5.9" fill="#343ecc" opacity="0.90" transform="rotate(15 60.2 490.7)"/><ellipse cx="35.1" cy="493.3" rx="3.7" ry="4.7" fill="#343ecc" opacity="0.85" transform="rotate(0 35.1 493.3)"/><ellipse cx="29.9" cy="502" rx="3.9" ry="4.4" fill="#1c1f80" opacity="0.75" transform="rotate(0 29.9 502)"/><ellipse cx="67.1" cy="505.4" rx="4.1" ry="4.9" fill="#282db0" opacity="0.85" transform="rotate(0 67.1 505.4)"/><ellipse cx="68.8" cy="518.4" rx="4.1" ry="5.9" fill="#343ecc" opacity="0.90" transform="rotate(10 68.8 518.4)"/><ellipse cx="66.5" cy="521.5" rx="2.9" ry="3.4" fill="#2f9d6a" opacity="0.60" transform="rotate(0 66.5 521.5)"/><ellipse cx="61.1" cy="532.2" rx="3.1" ry="4.9" fill="#3a7fd0" opacity="0.90" transform="rotate(-10 61.1 532.2)"/><ellipse cx="33.4" cy="526.2" rx="2.5" ry="4.4" fill="#2e9d4a" opacity="0.75" transform="rotate(10 33.4 526.2)"/><ellipse cx="28.2" cy="527.9" rx="3.4" ry="3.9" fill="#1c1f80" opacity="0.70" transform="rotate(0 28.2 527.9)"/><ellipse cx="23" cy="457.8" rx="4.9" ry="3.9" fill="#282db0" opacity="0.80" transform="rotate(0 23 457.8)"/><ellipse cx="18.7" cy="470.8" rx="2.9" ry="3.9" fill="#1c1f80" opacity="0.60" transform="rotate(0 18.7 470.8)"/><ellipse cx="86" cy="530" rx="2.9" ry="2.9" fill="#1c1f80" opacity="0.40" transform="rotate(0 86 530)"/><ellipse cx="52" cy="458" rx="2.9" ry="2.0" fill="#2a7a4a" opacity="0.50" transform="rotate(0 52 458)"/><ellipse cx="82" cy="456" rx="2.5" ry="2.0" fill="#2a7a4a" opacity="0.50" transform="rotate(0 82 456)"/></g></g>
<text x="17.9" y="462.1" font-size="7.8" text-anchor="start" font-weight="normal" font-style="normal" fill="#fff">Case #1</text>
<clipPath id="cpi2"><rect x="98.5" y="453.8" width="77.8" height="87.9"/></clipPath>
<rect x="98.50" y="453.80" width="77.80" height="87.90" fill="#05040e" stroke="none" stroke-width="0.5"/>
<g clip-path="url(#cpi2)"><g filter="url(#cb2)"><ellipse cx="127.9" cy="476" rx="9.1" ry="9.1" fill="#343ecc" opacity="0.38"/><ellipse cx="123.6" cy="463.8" rx="7.2" ry="7.2" fill="#282db0" opacity="0.36"/><ellipse cx="140.9" cy="467.3" rx="5.9" ry="5.9" fill="#282db0" opacity="0.34"/><ellipse cx="137.4" cy="486.3" rx="4.5" ry="4.5" fill="#282db0" opacity="0.32"/><ellipse cx="122.7" cy="495.9" rx="6.5" ry="6.5" fill="#1c1f80" opacity="0.30"/><ellipse cx="173.7" cy="495" rx="3.6" ry="5.2" fill="#343ecc" opacity="0.34"/><ellipse cx="119.2" cy="512.3" rx="9.1" ry="9.1" fill="#343ecc" opacity="0.38"/><ellipse cx="148.7" cy="511.4" rx="9.1" ry="9.1" fill="#343ecc" opacity="0.38"/><ellipse cx="134.8" cy="528.7" rx="7.8" ry="7.8" fill="#343ecc" opacity="0.36"/><ellipse cx="157.3" cy="534.8" rx="7.2" ry="7.2" fill="#343ecc" opacity="0.36"/><ellipse cx="146.9" cy="456.9" rx="5.2" ry="3.9" fill="#1c1f80" opacity="0.24"/><ellipse cx="164.2" cy="479.4" rx="6.5" ry="6.5" fill="#1c1f80" opacity="0.14"/><ellipse cx="146" cy="526" rx="5.2" ry="5.2" fill="#1c1f80" opacity="0.24"/><ellipse cx="148" cy="492" rx="7.8" ry="13.0" fill="#2a2010" opacity="0.20"/></g><g filter="url(#cb)"><ellipse cx="127.9" cy="476" rx="6.9" ry="6.9" fill="#343ecc" opacity="0.95" transform="rotate(0 127.9 476)"/><ellipse cx="123.6" cy="463.8" rx="5.4" ry="5.4" fill="#282db0" opacity="0.90" transform="rotate(0 123.6 463.8)"/><ellipse cx="140.9" cy="467.3" rx="4.4" ry="4.4" fill="#282db0" opacity="0.85" transform="rotate(0 140.9 467.3)"/><ellipse cx="137.4" cy="486.3" rx="3.4" ry="3.4" fill="#282db0" opacity="0.80" transform="rotate(0 137.4 486.3)"/><ellipse cx="122.7" cy="495.9" rx="4.9" ry="4.9" fill="#1c1f80" opacity="0.75" transform="rotate(0 122.7 495.9)"/><ellipse cx="173.7" cy="495" rx="2.7" ry="3.9" fill="#343ecc" opacity="0.85" transform="rotate(0 173.7 495)"/><ellipse cx="119.2" cy="512.3" rx="6.9" ry="6.9" fill="#343ecc" opacity="0.95" transform="rotate(0 119.2 512.3)"/><ellipse cx="148.7" cy="511.4" rx="6.9" ry="6.9" fill="#343ecc" opacity="0.95" transform="rotate(0 148.7 511.4)"/><ellipse cx="134.8" cy="528.7" rx="5.9" ry="5.9" fill="#343ecc" opacity="0.90" transform="rotate(0 134.8 528.7)"/><ellipse cx="157.3" cy="534.8" rx="5.4" ry="5.4" fill="#343ecc" opacity="0.90" transform="rotate(0 157.3 534.8)"/><ellipse cx="146.9" cy="456.9" rx="3.9" ry="2.9" fill="#1c1f80" opacity="0.60" transform="rotate(0 146.9 456.9)"/><ellipse cx="164.2" cy="479.4" rx="4.9" ry="4.9" fill="#1c1f80" opacity="0.35" transform="rotate(0 164.2 479.4)"/><ellipse cx="146" cy="526" rx="3.9" ry="3.9" fill="#1c1f80" opacity="0.60" transform="rotate(0 146 526)"/><ellipse cx="148" cy="492" rx="5.9" ry="9.8" fill="#2a2010" opacity="0.50" transform="rotate(0 148 492)"/></g></g>
<text x="101.7" y="462.1" font-size="7.8" text-anchor="start" font-weight="normal" font-style="normal" fill="#fff">Case #2</text>
<clipPath id="cpi3"><rect x="14.7" y="546.6" width="79.3" height="88.2"/></clipPath>
<rect x="14.70" y="546.60" width="79.30" height="88.20" fill="#0a0928" stroke="none" stroke-width="0.5"/>
<g clip-path="url(#cpi3)"><g filter="url(#cb2)"><ellipse cx="70.6" cy="557.3" rx="11.7" ry="10.4" fill="#343ecc" opacity="0.32"/><ellipse cx="53.3" cy="569.4" rx="13.0" ry="10.4" fill="#343ecc" opacity="0.34"/><ellipse cx="44.6" cy="580.7" rx="7.8" ry="7.2" fill="#343ecc" opacity="0.34"/><ellipse cx="65.4" cy="574.6" rx="11.7" ry="9.1" fill="#343ecc" opacity="0.32"/><ellipse cx="27.3" cy="566" rx="5.9" ry="6.5" fill="#282db0" opacity="0.28"/><ellipse cx="20.4" cy="592" rx="5.9" ry="6.5" fill="#282db0" opacity="0.28"/><ellipse cx="56.7" cy="600.6" rx="7.8" ry="7.8" fill="#282db0" opacity="0.32"/><ellipse cx="72.3" cy="605.8" rx="7.8" ry="8.5" fill="#343ecc" opacity="0.38"/><ellipse cx="36" cy="600.6" rx="9.1" ry="9.1" fill="#1c1f80" opacity="0.28"/><ellipse cx="41.2" cy="616.2" rx="7.2" ry="7.2" fill="#343ecc" opacity="0.34"/><ellipse cx="60.2" cy="626.5" rx="9.1" ry="7.8" fill="#343ecc" opacity="0.36"/><ellipse cx="81" cy="627.4" rx="7.2" ry="6.5" fill="#343ecc" opacity="0.34"/><ellipse cx="86.2" cy="605.8" rx="5.2" ry="5.9" fill="#282db0" opacity="0.28"/><ellipse cx="23.8" cy="553.8" rx="6.5" ry="5.2" fill="#282db0" opacity="0.24"/><ellipse cx="80" cy="585" rx="7.8" ry="10.4" fill="#1c1f80" opacity="0.20"/><ellipse cx="30" cy="625" rx="7.8" ry="7.8" fill="#1c1f80" opacity="0.16"/><ellipse cx="60" cy="567" rx="24.7" ry="15.6" fill="#2630a8" opacity="0.22"/></g><g filter="url(#cb)"><ellipse cx="70.6" cy="557.3" rx="8.8" ry="7.8" fill="#343ecc" opacity="0.80" transform="rotate(0 70.6 557.3)"/><ellipse cx="53.3" cy="569.4" rx="9.8" ry="7.8" fill="#343ecc" opacity="0.85" transform="rotate(0 53.3 569.4)"/><ellipse cx="44.6" cy="580.7" rx="5.9" ry="5.4" fill="#343ecc" opacity="0.85" transform="rotate(0 44.6 580.7)"/><ellipse cx="65.4" cy="574.6" rx="8.8" ry="6.9" fill="#343ecc" opacity="0.80" transform="rotate(0 65.4 574.6)"/><ellipse cx="27.3" cy="566" rx="4.4" ry="4.9" fill="#282db0" opacity="0.70" transform="rotate(0 27.3 566)"/><ellipse cx="20.4" cy="592" rx="4.4" ry="4.9" fill="#282db0" opacity="0.70" transform="rotate(0 20.4 592)"/><ellipse cx="56.7" cy="600.6" rx="5.9" ry="5.9" fill="#282db0" opacity="0.80" transform="rotate(0 56.7 600.6)"/><ellipse cx="72.3" cy="605.8" rx="5.9" ry="6.4" fill="#343ecc" opacity="0.95" transform="rotate(0 72.3 605.8)"/><ellipse cx="36" cy="600.6" rx="6.9" ry="6.9" fill="#1c1f80" opacity="0.70" transform="rotate(0 36 600.6)"/><ellipse cx="41.2" cy="616.2" rx="5.4" ry="5.4" fill="#343ecc" opacity="0.85" transform="rotate(0 41.2 616.2)"/><ellipse cx="60.2" cy="626.5" rx="6.9" ry="5.9" fill="#343ecc" opacity="0.90" transform="rotate(0 60.2 626.5)"/><ellipse cx="81" cy="627.4" rx="5.4" ry="4.9" fill="#343ecc" opacity="0.85" transform="rotate(0 81 627.4)"/><ellipse cx="86.2" cy="605.8" rx="3.9" ry="4.4" fill="#282db0" opacity="0.70" transform="rotate(0 86.2 605.8)"/><ellipse cx="23.8" cy="553.8" rx="4.9" ry="3.9" fill="#282db0" opacity="0.60" transform="rotate(0 23.8 553.8)"/><ellipse cx="80" cy="585" rx="5.9" ry="7.8" fill="#1c1f80" opacity="0.50" transform="rotate(0 80 585)"/><ellipse cx="30" cy="625" rx="5.9" ry="5.9" fill="#1c1f80" opacity="0.40" transform="rotate(0 30 625)"/><ellipse cx="60" cy="567" rx="18.6" ry="11.8" fill="#2630a8" opacity="0.55" transform="rotate(-20 60 567)"/></g></g>
<text x="17.9" y="554.9" font-size="7.8" text-anchor="start" font-weight="normal" font-style="normal" fill="#fff">Case #3</text>
<clipPath id="cpi4"><rect x="98.5" y="546.6" width="77.8" height="88.2"/></clipPath>
<rect x="98.50" y="546.60" width="77.80" height="88.20" fill="#07051a" stroke="none" stroke-width="0.5"/>
<g clip-path="url(#cpi4)"><g filter="url(#cb2)"><ellipse cx="107.1" cy="567.7" rx="9.8" ry="9.8" fill="#343ecc" opacity="0.36"/><ellipse cx="129.6" cy="571.2" rx="9.1" ry="9.1" fill="#343ecc" opacity="0.36"/><ellipse cx="145.2" cy="566" rx="9.1" ry="9.1" fill="#343ecc" opacity="0.36"/><ellipse cx="152.1" cy="553.8" rx="6.5" ry="7.8" fill="#343ecc" opacity="0.34"/><ellipse cx="102.8" cy="552.1" rx="4.5" ry="4.5" fill="#4452e8" opacity="0.38"/><ellipse cx="134.8" cy="552.1" rx="5.2" ry="4.5" fill="#1c1f80" opacity="0.24"/><ellipse cx="146.9" cy="580.7" rx="4.5" ry="4.5" fill="#282db0" opacity="0.32"/><ellipse cx="159" cy="574.6" rx="3.6" ry="3.6" fill="#282db0" opacity="0.28"/><ellipse cx="164.2" cy="586.7" rx="6.5" ry="5.9" fill="#3a78c8" opacity="0.34"/><ellipse cx="171.2" cy="591.9" rx="5.9" ry="5.9" fill="#343ecc" opacity="0.34"/><ellipse cx="108" cy="607.5" rx="9.1" ry="9.1" fill="#343ecc" opacity="0.36"/><ellipse cx="125.3" cy="604" rx="10.4" ry="9.8" fill="#343ecc" opacity="0.36"/><ellipse cx="108.8" cy="593.7" rx="5.2" ry="5.2" fill="#1c1f80" opacity="0.24"/><ellipse cx="155.6" cy="614.4" rx="9.1" ry="7.8" fill="#343ecc" opacity="0.36"/><ellipse cx="164.2" cy="619.6" rx="7.2" ry="6.5" fill="#343ecc" opacity="0.34"/><ellipse cx="145.2" cy="630.9" rx="7.2" ry="5.9" fill="#343ecc" opacity="0.34"/><ellipse cx="101.9" cy="623" rx="5.2" ry="6.5" fill="#1c1f80" opacity="0.24"/><ellipse cx="164" cy="583" rx="3.9" ry="2.6" fill="#2e9d6a" opacity="0.24"/></g><g filter="url(#cb)"><ellipse cx="107.1" cy="567.7" rx="7.3" ry="7.3" fill="#343ecc" opacity="0.90" transform="rotate(0 107.1 567.7)"/><ellipse cx="129.6" cy="571.2" rx="6.9" ry="6.9" fill="#343ecc" opacity="0.90" transform="rotate(0 129.6 571.2)"/><ellipse cx="145.2" cy="566" rx="6.9" ry="6.9" fill="#343ecc" opacity="0.90" transform="rotate(0 145.2 566)"/><ellipse cx="152.1" cy="553.8" rx="4.9" ry="5.9" fill="#343ecc" opacity="0.85" transform="rotate(0 152.1 553.8)"/><ellipse cx="102.8" cy="552.1" rx="3.4" ry="3.4" fill="#4452e8" opacity="0.95" transform="rotate(0 102.8 552.1)"/><ellipse cx="134.8" cy="552.1" rx="3.9" ry="3.4" fill="#1c1f80" opacity="0.60" transform="rotate(0 134.8 552.1)"/><ellipse cx="146.9" cy="580.7" rx="3.4" ry="3.4" fill="#282db0" opacity="0.80" transform="rotate(0 146.9 580.7)"/><ellipse cx="159" cy="574.6" rx="2.7" ry="2.7" fill="#282db0" opacity="0.70" transform="rotate(0 159 574.6)"/><ellipse cx="164.2" cy="586.7" rx="4.9" ry="4.4" fill="#3a78c8" opacity="0.85" transform="rotate(0 164.2 586.7)"/><ellipse cx="171.2" cy="591.9" rx="4.4" ry="4.4" fill="#343ecc" opacity="0.85" transform="rotate(0 171.2 591.9)"/><ellipse cx="108" cy="607.5" rx="6.9" ry="6.9" fill="#343ecc" opacity="0.90" transform="rotate(0 108 607.5)"/><ellipse cx="125.3" cy="604" rx="7.8" ry="7.3" fill="#343ecc" opacity="0.90" transform="rotate(0 125.3 604)"/><ellipse cx="108.8" cy="593.7" rx="3.9" ry="3.9" fill="#1c1f80" opacity="0.60" transform="rotate(0 108.8 593.7)"/><ellipse cx="155.6" cy="614.4" rx="6.9" ry="5.9" fill="#343ecc" opacity="0.90" transform="rotate(20 155.6 614.4)"/><ellipse cx="164.2" cy="619.6" rx="5.4" ry="4.9" fill="#343ecc" opacity="0.85" transform="rotate(0 164.2 619.6)"/><ellipse cx="145.2" cy="630.9" rx="5.4" ry="4.4" fill="#343ecc" opacity="0.85" transform="rotate(0 145.2 630.9)"/><ellipse cx="101.9" cy="623" rx="3.9" ry="4.9" fill="#1c1f80" opacity="0.60" transform="rotate(0 101.9 623)"/><ellipse cx="164" cy="583" rx="2.9" ry="2.0" fill="#2e9d6a" opacity="0.60" transform="rotate(0 164 583)"/></g></g>
<text x="101.7" y="554.9" font-size="7.8" text-anchor="start" font-weight="normal" font-style="normal" fill="#fff">Case #4</text>
<clipPath id="cpi5"><rect x="14.7" y="638.9" width="79.3" height="87.9"/></clipPath>
<rect x="14.70" y="638.90" width="79.30" height="87.90" fill="#0c0c38" stroke="none" stroke-width="0.5"/>
<g clip-path="url(#cpi5)"><g filter="url(#cb2)"><ellipse cx="36" cy="652.8" rx="10.4" ry="5.2" fill="#282db0" opacity="0.32"/><ellipse cx="56.7" cy="651" rx="7.8" ry="5.2" fill="#282db0" opacity="0.30"/><ellipse cx="74" cy="664.9" rx="6.5" ry="5.9" fill="#282db0" opacity="0.32"/><ellipse cx="87.9" cy="661.4" rx="5.9" ry="8.5" fill="#343ecc" opacity="0.36"/><ellipse cx="86.2" cy="679.6" rx="7.8" ry="7.2" fill="#4452e8" opacity="0.36"/><ellipse cx="72.3" cy="680.5" rx="5.2" ry="9.1" fill="#343ecc" opacity="0.32"/><ellipse cx="30.8" cy="682.2" rx="7.2" ry="7.2" fill="#282db0" opacity="0.32"/><ellipse cx="19.5" cy="689.1" rx="5.2" ry="7.8" fill="#282db0" opacity="0.32"/><ellipse cx="48.1" cy="691.7" rx="7.2" ry="7.8" fill="#282db0" opacity="0.32"/><ellipse cx="60.2" cy="704.7" rx="5.2" ry="10.4" fill="#343ecc" opacity="0.32"/><ellipse cx="77.5" cy="697.8" rx="6.5" ry="9.1" fill="#282db0" opacity="0.32"/><ellipse cx="42" cy="716.8" rx="10.4" ry="8.5" fill="#343ecc" opacity="0.36"/><ellipse cx="16.9" cy="654.5" rx="4.5" ry="7.8" fill="#282db0" opacity="0.28"/><ellipse cx="87.9" cy="644" rx="6.5" ry="5.2" fill="#1c1f80" opacity="0.28"/><ellipse cx="50" cy="668" rx="13.0" ry="11.7" fill="#050518" opacity="0.30"/></g><g filter="url(#cb)"><ellipse cx="36" cy="652.8" rx="7.8" ry="3.9" fill="#282db0" opacity="0.80" transform="rotate(-25 36 652.8)"/><ellipse cx="56.7" cy="651" rx="5.9" ry="3.9" fill="#282db0" opacity="0.75" transform="rotate(20 56.7 651)"/><ellipse cx="74" cy="664.9" rx="4.9" ry="4.4" fill="#282db0" opacity="0.80" transform="rotate(0 74 664.9)"/><ellipse cx="87.9" cy="661.4" rx="4.4" ry="6.4" fill="#343ecc" opacity="0.90" transform="rotate(20 87.9 661.4)"/><ellipse cx="86.2" cy="679.6" rx="5.9" ry="5.4" fill="#4452e8" opacity="0.90" transform="rotate(0 86.2 679.6)"/><ellipse cx="72.3" cy="680.5" rx="3.9" ry="6.9" fill="#343ecc" opacity="0.80" transform="rotate(10 72.3 680.5)"/><ellipse cx="30.8" cy="682.2" rx="5.4" ry="5.4" fill="#282db0" opacity="0.80" transform="rotate(0 30.8 682.2)"/><ellipse cx="19.5" cy="689.1" rx="3.9" ry="5.9" fill="#282db0" opacity="0.80" transform="rotate(0 19.5 689.1)"/><ellipse cx="48.1" cy="691.7" rx="5.4" ry="5.9" fill="#282db0" opacity="0.80" transform="rotate(0 48.1 691.7)"/><ellipse cx="60.2" cy="704.7" rx="3.9" ry="7.8" fill="#343ecc" opacity="0.80" transform="rotate(20 60.2 704.7)"/><ellipse cx="77.5" cy="697.8" rx="4.9" ry="6.9" fill="#282db0" opacity="0.80" transform="rotate(30 77.5 697.8)"/><ellipse cx="42" cy="716.8" rx="7.8" ry="6.4" fill="#343ecc" opacity="0.90" transform="rotate(-15 42 716.8)"/><ellipse cx="16.9" cy="654.5" rx="3.4" ry="5.9" fill="#282db0" opacity="0.70" transform="rotate(0 16.9 654.5)"/><ellipse cx="87.9" cy="644" rx="4.9" ry="3.9" fill="#1c1f80" opacity="0.70" transform="rotate(0 87.9 644)"/><ellipse cx="50" cy="668" rx="9.8" ry="8.8" fill="#050518" opacity="0.75" transform="rotate(0 50 668)"/></g></g>
<text x="17.9" y="647.1999999999999" font-size="7.8" text-anchor="start" font-weight="normal" font-style="normal" fill="#fff">Case #5</text>
<clipPath id="cpi6"><rect x="98.5" y="638.9" width="77.8" height="87.9"/></clipPath>
<rect x="98.50" y="638.90" width="77.80" height="87.90" fill="#0b0616" stroke="none" stroke-width="0.5"/>
<g clip-path="url(#cpi6)"><g filter="url(#cb2)"><ellipse cx="116.6" cy="660.6" rx="9.1" ry="9.1" fill="#3d55e0" opacity="0.38"/><ellipse cx="164.2" cy="649.3" rx="9.1" ry="9.1" fill="#343ecc" opacity="0.36"/><ellipse cx="167.7" cy="661.4" rx="9.1" ry="9.1" fill="#343ecc" opacity="0.36"/><ellipse cx="126.2" cy="649.3" rx="4.5" ry="4.5" fill="#282db0" opacity="0.32"/><ellipse cx="102.8" cy="687.4" rx="6.5" ry="7.2" fill="#343ecc" opacity="0.36"/><ellipse cx="118.4" cy="687.4" rx="9.1" ry="9.1" fill="#343ecc" opacity="0.36"/><ellipse cx="164.2" cy="688.3" rx="7.8" ry="7.8" fill="#3a60d8" opacity="0.36"/><ellipse cx="108" cy="699.5" rx="9.1" ry="9.1" fill="#343ecc" opacity="0.36"/><ellipse cx="146.9" cy="701.2" rx="9.1" ry="8.5" fill="#343ecc" opacity="0.36"/><ellipse cx="150.4" cy="689.1" rx="4.5" ry="4.5" fill="#1c1f80" opacity="0.28"/><ellipse cx="117.5" cy="709.9" rx="7.8" ry="8.5" fill="#343ecc" opacity="0.34"/><ellipse cx="106.2" cy="720.3" rx="5.9" ry="5.9" fill="#282db0" opacity="0.32"/></g><g filter="url(#cb)"><ellipse cx="116.6" cy="660.6" rx="6.9" ry="6.9" fill="#3d55e0" opacity="0.95" transform="rotate(0 116.6 660.6)"/><ellipse cx="164.2" cy="649.3" rx="6.9" ry="6.9" fill="#343ecc" opacity="0.90" transform="rotate(0 164.2 649.3)"/><ellipse cx="167.7" cy="661.4" rx="6.9" ry="6.9" fill="#343ecc" opacity="0.90" transform="rotate(0 167.7 661.4)"/><ellipse cx="126.2" cy="649.3" rx="3.4" ry="3.4" fill="#282db0" opacity="0.80" transform="rotate(0 126.2 649.3)"/><ellipse cx="102.8" cy="687.4" rx="4.9" ry="5.4" fill="#343ecc" opacity="0.90" transform="rotate(0 102.8 687.4)"/><ellipse cx="118.4" cy="687.4" rx="6.9" ry="6.9" fill="#343ecc" opacity="0.90" transform="rotate(0 118.4 687.4)"/><ellipse cx="164.2" cy="688.3" rx="5.9" ry="5.9" fill="#3a60d8" opacity="0.90" transform="rotate(0 164.2 688.3)"/><ellipse cx="108" cy="699.5" rx="6.9" ry="6.9" fill="#343ecc" opacity="0.90" transform="rotate(0 108 699.5)"/><ellipse cx="146.9" cy="701.2" rx="6.9" ry="6.4" fill="#343ecc" opacity="0.90" transform="rotate(0 146.9 701.2)"/><ellipse cx="150.4" cy="689.1" rx="3.4" ry="3.4" fill="#1c1f80" opacity="0.70" transform="rotate(0 150.4 689.1)"/><ellipse cx="117.5" cy="709.9" rx="5.9" ry="6.4" fill="#343ecc" opacity="0.85" transform="rotate(0 117.5 709.9)"/><ellipse cx="106.2" cy="720.3" rx="4.4" ry="4.4" fill="#282db0" opacity="0.80" transform="rotate(0 106.2 720.3)"/></g></g>
<text x="101.7" y="647.1999999999999" font-size="7.8" text-anchor="start" font-weight="normal" font-style="normal" fill="#fff">Case #6</text>
<clipPath id="cpi7"><rect x="181.1" y="638.7" width="78.4" height="87.3"/></clipPath>
<rect x="181.10" y="638.70" width="78.40" height="87.30" fill="#060612" stroke="none" stroke-width="0.5"/>
<g clip-path="url(#cpi7)"><g filter="url(#cb2)"><ellipse cx="188" cy="655.5" rx="6.5" ry="6.5" fill="#343ecc" opacity="0.38"/><ellipse cx="197.5" cy="652.9" rx="5.9" ry="5.9" fill="#343ecc" opacity="0.36"/><ellipse cx="207.9" cy="651.2" rx="5.9" ry="6.5" fill="#343ecc" opacity="0.36"/><ellipse cx="217.4" cy="646" rx="5.9" ry="6.5" fill="#343ecc" opacity="0.36"/><ellipse cx="208.7" cy="661.5" rx="5.9" ry="6.5" fill="#343ecc" opacity="0.36"/><ellipse cx="221.7" cy="663.3" rx="5.9" ry="5.9" fill="#343ecc" opacity="0.34"/><ellipse cx="194" cy="671.9" rx="7.8" ry="7.8" fill="#343ecc" opacity="0.38"/><ellipse cx="226.9" cy="670.2" rx="7.2" ry="7.8" fill="#343ecc" opacity="0.38"/><ellipse cx="233" cy="677.1" rx="6.5" ry="7.2" fill="#343ecc" opacity="0.36"/><ellipse cx="215.7" cy="683.2" rx="6.5" ry="6.5" fill="#343ecc" opacity="0.36"/><ellipse cx="221.7" cy="691.8" rx="9.1" ry="9.1" fill="#343ecc" opacity="0.38"/><ellipse cx="239" cy="689.2" rx="6.5" ry="7.2" fill="#343ecc" opacity="0.36"/><ellipse cx="253.7" cy="696.2" rx="5.9" ry="5.9" fill="#343ecc" opacity="0.34"/><ellipse cx="196.6" cy="701.3" rx="9.1" ry="8.5" fill="#343ecc" opacity="0.38"/><ellipse cx="197.5" cy="712.6" rx="9.1" ry="7.8" fill="#343ecc" opacity="0.36"/><ellipse cx="237.3" cy="709.1" rx="5.2" ry="5.2" fill="#343ecc" opacity="0.34"/><ellipse cx="244.2" cy="660.7" rx="9.1" ry="7.8" fill="#1c1f80" opacity="0.24"/><ellipse cx="246.8" cy="640.8" rx="7.8" ry="3.9" fill="#1c1f80" opacity="0.24"/><ellipse cx="244.2" cy="701.3" rx="6.5" ry="6.5" fill="#1c1f80" opacity="0.24"/><ellipse cx="206" cy="690" rx="5.2" ry="9.1" fill="#1f6a3a" opacity="0.12"/></g><g filter="url(#cb)"><ellipse cx="188" cy="655.5" rx="4.9" ry="4.9" fill="#343ecc" opacity="0.95" transform="rotate(0 188 655.5)"/><ellipse cx="197.5" cy="652.9" rx="4.4" ry="4.4" fill="#343ecc" opacity="0.90" transform="rotate(0 197.5 652.9)"/><ellipse cx="207.9" cy="651.2" rx="4.4" ry="4.9" fill="#343ecc" opacity="0.90" transform="rotate(0 207.9 651.2)"/><ellipse cx="217.4" cy="646" rx="4.4" ry="4.9" fill="#343ecc" opacity="0.90" transform="rotate(0 217.4 646)"/><ellipse cx="208.7" cy="661.5" rx="4.4" ry="4.9" fill="#343ecc" opacity="0.90" transform="rotate(0 208.7 661.5)"/><ellipse cx="221.7" cy="663.3" rx="4.4" ry="4.4" fill="#343ecc" opacity="0.85" transform="rotate(0 221.7 663.3)"/><ellipse cx="194" cy="671.9" rx="5.9" ry="5.9" fill="#343ecc" opacity="0.95" transform="rotate(0 194 671.9)"/><ellipse cx="226.9" cy="670.2" rx="5.4" ry="5.9" fill="#343ecc" opacity="0.95" transform="rotate(0 226.9 670.2)"/><ellipse cx="233" cy="677.1" rx="4.9" ry="5.4" fill="#343ecc" opacity="0.90" transform="rotate(0 233 677.1)"/><ellipse cx="215.7" cy="683.2" rx="4.9" ry="4.9" fill="#343ecc" opacity="0.90" transform="rotate(0 215.7 683.2)"/><ellipse cx="221.7" cy="691.8" rx="6.9" ry="6.9" fill="#343ecc" opacity="0.95" transform="rotate(0 221.7 691.8)"/><ellipse cx="239" cy="689.2" rx="4.9" ry="5.4" fill="#343ecc" opacity="0.90" transform="rotate(0 239 689.2)"/><ellipse cx="253.7" cy="696.2" rx="4.4" ry="4.4" fill="#343ecc" opacity="0.85" transform="rotate(0 253.7 696.2)"/><ellipse cx="196.6" cy="701.3" rx="6.9" ry="6.4" fill="#343ecc" opacity="0.95" transform="rotate(0 196.6 701.3)"/><ellipse cx="197.5" cy="712.6" rx="6.9" ry="5.9" fill="#343ecc" opacity="0.90" transform="rotate(0 197.5 712.6)"/><ellipse cx="237.3" cy="709.1" rx="3.9" ry="3.9" fill="#343ecc" opacity="0.85" transform="rotate(0 237.3 709.1)"/><ellipse cx="244.2" cy="660.7" rx="6.9" ry="5.9" fill="#1c1f80" opacity="0.60" transform="rotate(0 244.2 660.7)"/><ellipse cx="246.8" cy="640.8" rx="5.9" ry="2.9" fill="#1c1f80" opacity="0.60" transform="rotate(0 246.8 640.8)"/><ellipse cx="244.2" cy="701.3" rx="4.9" ry="4.9" fill="#1c1f80" opacity="0.60" transform="rotate(0 244.2 701.3)"/><ellipse cx="206" cy="690" rx="3.9" ry="6.9" fill="#1f6a3a" opacity="0.30" transform="rotate(20 206 690)"/></g></g>
<text x="184.29999999999998" y="647.0" font-size="7.8" text-anchor="start" font-weight="normal" font-style="normal" fill="#fff">Case #6</text>
</g>
<g id="panelE">
<text x="251.6" y="466" font-size="12" text-anchor="start" font-weight="bold" font-style="normal" fill="#000">E</text>
<defs><linearGradient id="esg" x1="0" y1="0" x2="0" y2="1"><stop offset="0" stop-color="#e8391f"/><stop offset="0.25" stop-color="#f08a72"/><stop offset="0.5" stop-color="#ffffff"/><stop offset="0.75" stop-color="#9a92d4"/><stop offset="1" stop-color="#3b3db0"/></linearGradient></defs>
<text x="259.7" y="480.2" font-size="5.7" text-anchor="middle" font-weight="normal" font-style="normal" fill="#222">ES</text>
<rect x="254.90" y="482.00" width="9.70" height="43.40" fill="url(#esg)" stroke="none" stroke-width="0.5"/>
<text x="266.6" y="484.7" font-size="5.5" text-anchor="start" font-weight="normal" font-style="normal" fill="#222">0.8</text>
<text x="266.6" y="495.1" font-size="5.5" text-anchor="start" font-weight="normal" font-style="normal" fill="#222">0.4</text>
<text x="266.6" y="505.9" font-size="5.5" text-anchor="start" font-weight="normal" font-style="normal" fill="#222">0.0</text>
<text x="266.6" y="517" font-size="5.5" text-anchor="start" font-weight="normal" font-style="normal" fill="#222">-0.4</text>
<text x="266.6" y="526.9" font-size="5.5" text-anchor="start" font-weight="normal" font-style="normal" fill="#222">-0.8</text>
<text x="254.2" y="535.6" font-size="6.3" text-anchor="start" font-weight="normal" font-style="normal" fill="#222">q.value</text>
<rect x="257.20" y="540.40" width="4.20" height="2.40" fill="#111" stroke="none" stroke-width="0.5"/>
<text x="266.3" y="543.9" font-size="5.5" text-anchor="start" font-weight="normal" font-style="normal" fill="#222">&gt;0.05</text>
<rect x="254.20" y="547.30" width="9.30" height="7.70" fill="#000" stroke="none" stroke-width="0.5"/>
<text x="266.3" y="553.9" font-size="5.5" text-anchor="start" font-weight="normal" font-style="normal" fill="#222">&lt;0.05</text>
<text x="365.2" y="480.3" font-size="4.75" text-anchor="end" font-weight="normal" font-style="normal" fill="#222">UV RESPONSE UP</text>
<rect x="372.50" y="475.25" width="8.40" height="6.70" fill="#f07850" stroke="none" stroke-width="0.5"/>
<rect x="385.10" y="477.00" width="4.00" height="3.20" fill="#f09070" stroke="none" stroke-width="0.5"/>
<text x="365.2" y="488.738" font-size="4.75" text-anchor="end" font-weight="normal" font-style="normal" fill="#222">UV RESPONSE DN</text>
<rect x="372.50" y="483.69" width="8.40" height="6.70" fill="#f08058" stroke="none" stroke-width="0.5"/>
<rect x="385.10" y="485.44" width="4.00" height="3.20" fill="#a8a0d8" stroke="none" stroke-width="0.5"/>
<text x="365.2" y="497.176" font-size="4.75" text-anchor="end" font-weight="normal" font-style="normal" fill="#222">TNFA SIGNALING VIA NFKB</text>
<rect x="372.50" y="492.13" width="8.40" height="6.70" fill="#e85030" stroke="none" stroke-width="0.5"/>
<rect x="382.90" y="492.13" width="8.40" height="6.70" fill="#f06840" stroke="none" stroke-width="0.5"/>
<text x="365.2" y="505.61400000000003" font-size="4.75" text-anchor="end" font-weight="normal" font-style="normal" fill="#222">PI3K AKT MTOR SIGNALING</text>
<rect x="374.70" y="502.31" width="4.00" height="3.20" fill="#d0c8f0" stroke="none" stroke-width="0.5"/>
<rect x="385.10" y="502.31" width="4.00" height="3.20" fill="#f0a080" stroke="none" stroke-width="0.5"/>
<text x="365.2" y="514.052" font-size="4.75" text-anchor="end" font-weight="normal" font-style="normal" fill="#222">P53 PATHWAY</text>
<rect x="372.50" y="509.00" width="8.40" height="6.70" fill="#e84828" stroke="none" stroke-width="0.5"/>
<rect x="385.10" y="510.75" width="4.00" height="3.20" fill="#f0a080" stroke="none" stroke-width="0.5"/>
<text x="365.2" y="522.4900000000001" font-size="4.75" text-anchor="end" font-weight="normal" font-style="normal" fill="#222">MYOGENESIS</text>
<rect x="372.50" y="517.44" width="8.40" height="6.70" fill="#e84828" stroke="none" stroke-width="0.5"/>
<rect x="385.10" y="519.19" width="4.00" height="3.20" fill="#a8a0d8" stroke="none" stroke-width="0.5"/>
<text x="365.2" y="530.9280000000001" font-size="4.75" text-anchor="end" font-weight="normal" font-style="normal" fill="#222">MYC TARGETS V1</text>
<rect x="372.50" y="525.88" width="8.40" height="6.70" fill="#4848b8" stroke="none" stroke-width="0.5"/>
<rect x="385.10" y="527.63" width="4.00" height="3.20" fill="#9890d0" stroke="none" stroke-width="0.5"/>
<text x="365.2" y="539.3660000000001" font-size="4.75" text-anchor="end" font-weight="normal" font-style="normal" fill="#222">MTORC1 SIGNALING</text>
<rect x="374.70" y="536.07" width="4.00" height="3.20" fill="#4848b8" stroke="none" stroke-width="0.5"/>
<rect x="385.10" y="536.07" width="4.00" height="3.20" fill="#d8d8e8" stroke="none" stroke-width="0.5"/>
<text x="365.2" y="547.8040000000001" font-size="4.75" text-anchor="end" font-weight="normal" font-style="normal" fill="#222">MITOTIC SPINDLE</text>
<rect x="372.50" y="542.75" width="8.40" height="6.70" fill="#4040a8" stroke="none" stroke-width="0.5"/>
<rect x="385.10" y="544.50" width="4.00" height="3.20" fill="#5050b8" stroke="none" stroke-width="0.5"/>
<text x="365.2" y="556.2420000000001" font-size="4.75" text-anchor="end" font-weight="normal" font-style="normal" fill="#222">KRAS SIGNALING UP</text>
<rect x="372.50" y="551.19" width="8.40" height="6.70" fill="#f07850" stroke="none" stroke-width="0.5"/>
<rect x="385.10" y="552.94" width="4.00" height="3.20" fill="#8078c8" stroke="none" stroke-width="0.5"/>
<text x="365.2" y="564.6800000000001" font-size="4.75" text-anchor="end" font-weight="normal" font-style="normal" fill="#222">INTERFERON GAMMA RESPONSE</text>
<rect x="374.70" y="561.38" width="4.00" height="3.20" fill="#e89080" stroke="none" stroke-width="0.5"/>
<rect x="382.90" y="559.63" width="8.40" height="6.70" fill="#f07858" stroke="none" stroke-width="0.5"/>
<text x="365.2" y="573.118" font-size="4.75" text-anchor="end" font-weight="normal" font-style="normal" fill="#222">INFLAMMATORY RESPONSE</text>
<rect x="374.70" y="569.82" width="4.00" height="3.20" fill="#e8b0b0" stroke="none" stroke-width="0.5"/>
<rect x="385.10" y="569.82" width="4.00" height="3.20" fill="#e87868" stroke="none" stroke-width="0.5"/>
<text x="365.2" y="581.556" font-size="4.75" text-anchor="end" font-weight="normal" font-style="normal" fill="#222">IL6 JAK STAT3 SIGNALING</text>
<rect x="374.70" y="578.26" width="4.00" height="3.20" fill="#e0a8a0" stroke="none" stroke-width="0.5"/>
<rect x="385.10" y="578.26" width="4.00" height="3.20" fill="#e88878" stroke="none" stroke-width="0.5"/>
<text x="365.2" y="589.994" font-size="4.75" text-anchor="end" font-weight="normal" font-style="normal" fill="#222">IL2 STAT5 SIGNALING</text>
<rect x="374.70" y="586.69" width="4.00" height="3.20" fill="#e8c0c0" stroke="none" stroke-width="0.5"/>
<rect x="385.10" y="586.69" width="4.00" height="3.20" fill="#e89890" stroke="none" stroke-width="0.5"/>
<text x="365.2" y="598.432" font-size="4.75" text-anchor="end" font-weight="normal" font-style="normal" fill="#222">HYPOXIA</text>
<rect x="372.50" y="593.38" width="8.40" height="6.70" fill="#f06840" stroke="none" stroke-width="0.5"/>
<rect x="385.10" y="595.13" width="4.00" height="3.20" fill="#e87868" stroke="none" stroke-width="0.5"/>
<text x="365.2" y="606.8700000000001" font-size="4.75" text-anchor="end" font-weight="normal" font-style="normal" fill="#222">GLYCOLYSIS</text>
<rect x="374.70" y="603.57" width="4.00" height="3.20" fill="#f0a890" stroke="none" stroke-width="0.5"/>
<rect x="385.10" y="603.57" width="4.00" height="3.20" fill="#d0cce8" stroke="none" stroke-width="0.5"/>
<text x="365.2" y="615.3080000000001" font-size="4.75" text-anchor="end" font-weight="normal" font-style="normal" fill="#222">G2M CHECKPOINT</text>
<rect x="372.50" y="610.26" width="8.40" height="6.70" fill="#3c3ca8" stroke="none" stroke-width="0.5"/>
<rect x="382.90" y="610.26" width="8.40" height="6.70" fill="#8a78c8" stroke="none" stroke-width="0.5"/>
<text x="365.2" y="623.7460000000001" font-size="4.75" text-anchor="end" font-weight="normal" font-style="normal" fill="#222">ESTROGEN RESPONSE LATE</text>
<rect x="372.50" y="618.70" width="8.40" height="6.70" fill="#7868c0" stroke="none" stroke-width="0.5"/>
<rect x="385.10" y="620.45" width="4.00" height="3.20" fill="#f09078" stroke="none" stroke-width="0.5"/>
<text x="365.2" y="632.1840000000001" font-size="4.75" text-anchor="end" font-weight="normal" font-style="normal" fill="#222">ESTROGEN RESPONSE EARLY</text>
<rect x="372.50" y="627.13" width="8.40" height="6.70" fill="#7c6cc4" stroke="none" stroke-width="0.5"/>
<rect x="385.10" y="628.88" width="4.00" height="3.20" fill="#f09078" stroke="none" stroke-width="0.5"/>
<text x="365.2" y="640.6220000000001" font-size="4.75" text-anchor="end" font-weight="normal" font-style="normal" fill="#222">EPITHELIAL MESENCHYMAL TRANSITION</text>
<rect x="372.50" y="635.57" width="8.40" height="6.70" fill="#f06040" stroke="none" stroke-width="0.5"/>
<rect x="382.90" y="635.57" width="8.40" height="6.70" fill="#8070c4" stroke="none" stroke-width="0.5"/>
<text x="365.2" y="649.0600000000001" font-size="4.75" text-anchor="end" font-weight="normal" font-style="normal" fill="#222">E2F TARGETS</text>
<rect x="372.50" y="644.01" width="8.40" height="6.70" fill="#3c3ca8" stroke="none" stroke-width="0.5"/>
<rect x="382.90" y="644.01" width="8.40" height="6.70" fill="#8878c8" stroke="none" stroke-width="0.5"/>
<text x="365.2" y="657.498" font-size="4.75" text-anchor="end" font-weight="normal" font-style="normal" fill="#222">DNA REPAIR</text>
<rect x="372.50" y="652.45" width="8.40" height="6.70" fill="#4040b0" stroke="none" stroke-width="0.5"/>
<rect x="385.10" y="654.20" width="4.00" height="3.20" fill="#8878c8" stroke="none" stroke-width="0.5"/>
<text x="365.2" y="665.9360000000001" font-size="4.75" text-anchor="end" font-weight="normal" font-style="normal" fill="#222">COMPLEMENT</text>
<rect x="372.50" y="660.89" width="8.40" height="6.70" fill="#f09078" stroke="none" stroke-width="0.5"/>
<rect x="385.10" y="662.64" width="4.00" height="3.20" fill="#303098" stroke="none" stroke-width="0.5"/>
<text x="365.2" y="674.374" font-size="4.75" text-anchor="end" font-weight="normal" font-style="normal" fill="#222">COAGULATION</text>
<rect x="374.70" y="671.07" width="4.00" height="3.20" fill="#f08068" stroke="none" stroke-width="0.5"/>
<rect x="382.90" y="669.32" width="8.40" height="6.70" fill="#6c5cb8" stroke="none" stroke-width="0.5"/>
<text x="365.2" y="682.8120000000001" font-size="4.75" text-anchor="end" font-weight="normal" font-style="normal" fill="#222">APOPTOSIS</text>
<rect x="374.70" y="679.51" width="4.00" height="3.20" fill="#e86850" stroke="none" stroke-width="0.5"/>
<rect x="385.10" y="679.51" width="4.00" height="3.20" fill="#f0a888" stroke="none" stroke-width="0.5"/>
<text x="365.2" y="691.2500000000001" font-size="4.75" text-anchor="end" font-weight="normal" font-style="normal" fill="#222">APICAL JUNCTION</text>
<rect x="374.70" y="687.95" width="4.00" height="3.20" fill="#f0a080" stroke="none" stroke-width="0.5"/>
<rect x="385.10" y="687.95" width="4.00" height="3.20" fill="#8878c8" stroke="none" stroke-width="0.5"/>
<text x="365.2" y="699.6880000000001" font-size="4.75" text-anchor="end" font-weight="normal" font-style="normal" fill="#222">ALLOGRAFT REJECTION</text>
<rect x="374.70" y="696.39" width="4.00" height="3.20" fill="#f08868" stroke="none" stroke-width="0.5"/>
<rect x="382.90" y="694.64" width="8.40" height="6.70" fill="#f08c6c" stroke="none" stroke-width="0.5"/>
<text x="381.2" y="702.8" font-size="5.6" text-anchor="end" font-weight="bold" font-style="normal" fill="#111" transform="rotate(-90 381.2 702.8)"><tspan font-style="italic">ESR1</tspan><tspan font-size="3.6" dy="-2">Wt</tspan></text>
<text x="391.4" y="702.8" font-size="5.6" text-anchor="end" font-weight="bold" font-style="normal" fill="#111" transform="rotate(-88 391.4 702.8)"><tspan font-style="italic">ESR1</tspan><tspan font-size="3.6" dy="-2">Mut</tspan></text>
</g>
<g id="panelFG">
<text x="404.6" y="491.3" font-size="12" text-anchor="start" font-weight="bold" font-style="normal" fill="#000">F</text>
<rect x="427.50" y="493.00" width="46.30" height="80.80" fill="#fff" stroke="#222" stroke-width="0.7"/>
<line x1="425.7" y1="508.1" x2="427.5" y2="508.1" stroke="#222" stroke-width="0.5"/>
<text x="424.9" y="510.0" font-size="6.3" text-anchor="end" font-weight="normal" font-style="normal" fill="#111">1</text>
<line x1="425.7" y1="524.25" x2="427.5" y2="524.25" stroke="#222" stroke-width="0.5"/>
<text x="424.9" y="526.15" font-size="6.3" text-anchor="end" font-weight="normal" font-style="normal" fill="#111">0</text>
<line x1="425.7" y1="540.4" x2="427.5" y2="540.4" stroke="#222" stroke-width="0.5"/>
<text x="424.9" y="542.3" font-size="6.3" text-anchor="end" font-weight="normal" font-style="normal" fill="#111">-1</text>
<line x1="425.7" y1="556.55" x2="427.5" y2="556.55" stroke="#222" stroke-width="0.5"/>
<text x="424.9" y="558.4499999999999" font-size="6.3" text-anchor="end" font-weight="normal" font-style="normal" fill="#111">-2</text>
<line x1="425.7" y1="572.7" x2="427.5" y2="572.7" stroke="#222" stroke-width="0.5"/>
<text x="424.9" y="574.6" font-size="6.3" text-anchor="end" font-weight="normal" font-style="normal" fill="#111">-3</text>
<line x1="427.5" y1="524.25" x2="473.8" y2="524.25" stroke="#8c8c8c" stroke-width="0.5"/>
<line x1="440.05" y1="512" x2="440.05" y2="531.3" stroke="#222" stroke-width="0.5" stroke-dasharray="1.2 0.8"/>
<line x1="440.05" y1="552.5" x2="440.05" y2="571.3" stroke="#222" stroke-width="0.5" stroke-dasharray="1.2 0.8"/>
<line x1="435.675" y1="512" x2="444.425" y2="512" stroke="#222" stroke-width="0.7"/>
<line x1="435.675" y1="571.3" x2="444.425" y2="571.3" stroke="#222" stroke-width="0.7"/>
<rect x="431.30" y="531.30" width="17.50" height="21.20" fill="none" stroke="#111" stroke-width="0.8"/>
<line x1="431.3" y1="545" x2="448.8" y2="545" stroke="#111" stroke-width="1.4"/>
<circle cx="440.04" cy="548.75" r="0.8" fill="#1b2f80"/>
<circle cx="439.99" cy="555.77" r="0.8" fill="#1b2f80"/>
<circle cx="440.02" cy="558.92" r="0.8" fill="#1b2f80"/>
<circle cx="439.94" cy="567.60" r="0.8" fill="#1b2f80"/>
<circle cx="440.01" cy="555.65" r="0.8" fill="#1b2f80"/>
<circle cx="440.20" cy="566.42" r="0.8" fill="#1b2f80"/>
<circle cx="440.19" cy="513.71" r="0.8" fill="#1b2f80"/>
<circle cx="440.09" cy="539.47" r="0.8" fill="#1b2f80"/>
<circle cx="440.05" cy="567.66" r="0.8" fill="#1b2f80"/>
<circle cx="440.00" cy="550.29" r="0.8" fill="#1b2f80"/>
<circle cx="439.93" cy="565.15" r="0.8" fill="#1b2f80"/>
<circle cx="439.98" cy="518.68" r="0.8" fill="#1b2f80"/>
<circle cx="440.13" cy="539.68" r="0.8" fill="#1b2f80"/>
<circle cx="440.16" cy="526.55" r="0.8" fill="#1b2f80"/>
<circle cx="440.01" cy="544.08" r="0.8" fill="#1b2f80"/>
<circle cx="440.14" cy="545.86" r="0.8" fill="#1b2f80"/>
<circle cx="440.13" cy="512.77" r="0.8" fill="#1b2f80"/>
<circle cx="440.11" cy="524.79" r="0.8" fill="#1b2f80"/>
<circle cx="440.10" cy="528.49" r="0.8" fill="#1b2f80"/>
<circle cx="440.13" cy="566.06" r="0.8" fill="#1b2f80"/>
<circle cx="440.01" cy="557.18" r="0.8" fill="#1b2f80"/>
<circle cx="440.11" cy="521.42" r="0.8" fill="#1b2f80"/>
<circle cx="439.98" cy="559.03" r="0.8" fill="#1b2f80"/>
<circle cx="440.05" cy="520.19" r="0.8" fill="#1b2f80"/>
<circle cx="440.13" cy="548.43" r="0.8" fill="#1b2f80"/>
<circle cx="440.11" cy="519.48" r="0.8" fill="#1b2f80"/>
<circle cx="439.99" cy="512.10" r="0.8" fill="#1b2f80"/>
<circle cx="440.18" cy="563.41" r="0.8" fill="#1b2f80"/>
<circle cx="440.09" cy="524.36" r="0.8" fill="#1b2f80"/>
<circle cx="440.07" cy="524.71" r="0.8" fill="#1b2f80"/>
<circle cx="439.90" cy="569.96" r="0.8" fill="#1b2f80"/>
<circle cx="440.06" cy="563.47" r="0.8" fill="#1b2f80"/>
<circle cx="439.98" cy="529.07" r="0.8" fill="#1b2f80"/>
<circle cx="440.10" cy="568.73" r="0.8" fill="#1b2f80"/>
<circle cx="440.04" cy="543.81" r="0.8" fill="#1b2f80"/>
<circle cx="440.15" cy="551.99" r="0.8" fill="#1b2f80"/>
<circle cx="440.09" cy="524.08" r="0.8" fill="#1b2f80"/>
<circle cx="440.14" cy="567.52" r="0.8" fill="#1b2f80"/>
<circle cx="440.00" cy="552.75" r="0.8" fill="#1b2f80"/>
<circle cx="440.09" cy="569.03" r="0.8" fill="#1b2f80"/>
<circle cx="440.12" cy="564.73" r="0.8" fill="#1b2f80"/>
<circle cx="440.15" cy="529.63" r="0.8" fill="#1b2f80"/>
<circle cx="440.01" cy="533.31" r="0.8" fill="#1b2f80"/>
<circle cx="440.15" cy="521.79" r="0.8" fill="#1b2f80"/>
<circle cx="440.16" cy="520.60" r="0.8" fill="#1b2f80"/>
<circle cx="440.11" cy="515.84" r="0.8" fill="#1b2f80"/>
<circle cx="440.19" cy="529.78" r="0.8" fill="#1b2f80"/>
<circle cx="440.19" cy="547.58" r="0.8" fill="#1b2f80"/>
<circle cx="440.06" cy="512.20" r="0.8" fill="#1b2f80"/>
<circle cx="440.06" cy="552.00" r="0.8" fill="#1b2f80"/>
<circle cx="439.95" cy="531.94" r="0.8" fill="#1b2f80"/>
<circle cx="440.15" cy="530.29" r="0.8" fill="#1b2f80"/>
<circle cx="440.18" cy="560.29" r="0.8" fill="#1b2f80"/>
<circle cx="440.04" cy="540.36" r="0.8" fill="#1b2f80"/>
<circle cx="440.11" cy="530.63" r="0.8" fill="#1b2f80"/>
<circle cx="440.12" cy="540.39" r="0.8" fill="#1b2f80"/>
<circle cx="440.12" cy="553.58" r="0.8" fill="#1b2f80"/>
<circle cx="439.95" cy="515.36" r="0.8" fill="#1b2f80"/>
<circle cx="440.13" cy="569.53" r="0.8" fill="#1b2f80"/>
<circle cx="440.07" cy="513.35" r="0.8" fill="#1b2f80"/>
<circle cx="440.10" cy="556.24" r="0.8" fill="#1b2f80"/>
<circle cx="440.03" cy="561.85" r="0.8" fill="#1b2f80"/>
<circle cx="440.09" cy="513.07" r="0.8" fill="#1b2f80"/>
<circle cx="440.13" cy="558.48" r="0.8" fill="#1b2f80"/>
<circle cx="440.09" cy="533.60" r="0.8" fill="#1b2f80"/>
<circle cx="440.12" cy="546.13" r="0.8" fill="#1b2f80"/>
<circle cx="439.91" cy="512.54" r="0.8" fill="#1b2f80"/>
<circle cx="439.95" cy="514.76" r="0.8" fill="#1b2f80"/>
<circle cx="440.03" cy="522.67" r="0.8" fill="#1b2f80"/>
<circle cx="440.10" cy="568.36" r="0.8" fill="#1b2f80"/>
<circle cx="439.97" cy="523.59" r="0.8" fill="#1b2f80"/>
<circle cx="440.11" cy="556.59" r="0.8" fill="#1b2f80"/>
<circle cx="440.09" cy="566.85" r="0.8" fill="#1b2f80"/>
<circle cx="439.91" cy="567.58" r="0.8" fill="#1b2f80"/>
<circle cx="440.04" cy="532.32" r="0.8" fill="#1b2f80"/>
<circle cx="439.97" cy="532.93" r="0.8" fill="#1b2f80"/>
<circle cx="439.92" cy="542.96" r="0.8" fill="#1b2f80"/>
<circle cx="439.94" cy="557.76" r="0.8" fill="#1b2f80"/>
<circle cx="440.00" cy="518.38" r="0.8" fill="#1b2f80"/>
<circle cx="439.95" cy="556.16" r="0.8" fill="#1b2f80"/>
<circle cx="439.96" cy="559.04" r="0.8" fill="#1b2f80"/>
<circle cx="439.91" cy="562.72" r="0.8" fill="#1b2f80"/>
<circle cx="440.04" cy="514.16" r="0.8" fill="#1b2f80"/>
<circle cx="440.01" cy="567.80" r="0.8" fill="#1b2f80"/>
<circle cx="440.08" cy="517.38" r="0.8" fill="#1b2f80"/>
<circle cx="440.08" cy="532.10" r="0.8" fill="#1b2f80"/>
<circle cx="439.97" cy="548.04" r="0.8" fill="#1b2f80"/>
<circle cx="440.17" cy="566.17" r="0.8" fill="#1b2f80"/>
<circle cx="439.90" cy="532.06" r="0.8" fill="#1b2f80"/>
<circle cx="440.02" cy="566.53" r="0.8" fill="#1b2f80"/>
<circle cx="439.98" cy="544.16" r="0.8" fill="#1b2f80"/>
<circle cx="440.02" cy="530.43" r="0.8" fill="#1b2f80"/>
<circle cx="439.93" cy="530.69" r="0.8" fill="#1b2f80"/>
<circle cx="440.15" cy="522.47" r="0.8" fill="#1b2f80"/>
<circle cx="440.01" cy="516.61" r="0.8" fill="#1b2f80"/>
<circle cx="439.91" cy="520.78" r="0.8" fill="#1b2f80"/>
<circle cx="440.08" cy="552.66" r="0.8" fill="#1b2f80"/>
<circle cx="439.93" cy="570.81" r="0.8" fill="#1b2f80"/>
<circle cx="440.06" cy="521.53" r="0.8" fill="#1b2f80"/>
<circle cx="440.00" cy="514.86" r="0.8" fill="#1b2f80"/>
<circle cx="440.07" cy="570.22" r="0.8" fill="#1b2f80"/>
<circle cx="440.19" cy="543.48" r="0.8" fill="#1b2f80"/>
<circle cx="440.15" cy="535.95" r="0.8" fill="#1b2f80"/>
<circle cx="440.03" cy="526.00" r="0.8" fill="#1b2f80"/>
<circle cx="440.14" cy="547.04" r="0.8" fill="#1b2f80"/>
<circle cx="440.09" cy="560.75" r="0.8" fill="#1b2f80"/>
<circle cx="440.01" cy="538.88" r="0.8" fill="#1b2f80"/>
<circle cx="439.94" cy="536.88" r="0.8" fill="#1b2f80"/>
<circle cx="440.08" cy="515.29" r="0.8" fill="#1b2f80"/>
<circle cx="440.07" cy="566.05" r="0.8" fill="#1b2f80"/>
<circle cx="440.19" cy="513.93" r="0.8" fill="#1b2f80"/>
<circle cx="440.19" cy="541.12" r="0.8" fill="#1b2f80"/>
<circle cx="440.08" cy="561.47" r="0.8" fill="#1b2f80"/>
<circle cx="440.01" cy="519.70" r="0.8" fill="#1b2f80"/>
<circle cx="440.17" cy="555.17" r="0.8" fill="#1b2f80"/>
<circle cx="439.90" cy="568.04" r="0.8" fill="#1b2f80"/>
<circle cx="439.93" cy="549.19" r="0.8" fill="#1b2f80"/>
<circle cx="440.07" cy="558.49" r="0.8" fill="#1b2f80"/>
<circle cx="440.08" cy="518.29" r="0.8" fill="#1b2f80"/>
<circle cx="439.94" cy="537.64" r="0.8" fill="#1b2f80"/>
<circle cx="440.09" cy="520.81" r="0.8" fill="#1b2f80"/>
<circle cx="440.17" cy="561.84" r="0.8" fill="#1b2f80"/>
<circle cx="440.01" cy="529.39" r="0.8" fill="#1b2f80"/>
<circle cx="440.03" cy="538.74" r="0.8" fill="#1b2f80"/>
<circle cx="439.97" cy="570.96" r="0.8" fill="#1b2f80"/>
<circle cx="439.99" cy="562.28" r="0.8" fill="#1b2f80"/>
<circle cx="440.19" cy="569.58" r="0.8" fill="#1b2f80"/>
<circle cx="440.01" cy="538.76" r="0.8" fill="#1b2f80"/>
<circle cx="440.19" cy="540.80" r="0.8" fill="#1b2f80"/>
<circle cx="440.17" cy="555.04" r="0.8" fill="#1b2f80"/>
<circle cx="440.05" cy="496.80" r="0.95" fill="#1b2f80"/>
<line x1="461.25" y1="511.3" x2="461.25" y2="515.5" stroke="#d9232d" stroke-width="0.5" stroke-dasharray="1 0.8"/>
<line x1="461.25" y1="536.3" x2="461.25" y2="546.3" stroke="#d9232d" stroke-width="0.5" stroke-dasharray="1 0.8"/>
<line x1="456.875" y1="511.3" x2="465.625" y2="511.3" stroke="#8e1b1f" stroke-width="0.7"/>
<line x1="456.875" y1="546.3" x2="465.625" y2="546.3" stroke="#8e1b1f" stroke-width="0.7"/>
<rect x="452.50" y="515.50" width="17.50" height="20.80" fill="none" stroke="#111" stroke-width="0.8"/>
<line x1="452.5" y1="524.3" x2="470" y2="524.3" stroke="#111" stroke-width="1.4"/>
<circle cx="461.25" cy="511.30" r="1.05" fill="#d9232d"/>
<circle cx="461.25" cy="515.50" r="1.05" fill="#d9232d"/>
<circle cx="461.25" cy="523.40" r="1.05" fill="#d9232d"/>
<circle cx="461.25" cy="525.20" r="1.05" fill="#d9232d"/>
<circle cx="461.25" cy="536.30" r="1.05" fill="#d9232d"/>
<circle cx="461.25" cy="546.30" r="1.05" fill="#d9232d"/>
<line x1="440.05" y1="573.8" x2="440.05" y2="575.5999999999999" stroke="#222" stroke-width="0.5"/>
<line x1="461.25" y1="573.8" x2="461.25" y2="575.5999999999999" stroke="#222" stroke-width="0.5"/>
<text x="440.05" y="581.3" font-size="5.9" text-anchor="middle" font-weight="normal" font-style="normal" fill="#111">Wt</text>
<text x="461.25" y="581.3" font-size="5.9" text-anchor="middle" font-weight="normal" font-style="normal" fill="#111">Mut</text>
<text x="439.3" y="505.2" font-size="6.0" text-anchor="start" font-weight="normal" font-style="normal" fill="#333"><tspan font-style="italic">P</tspan> = 0.016</text>
<text x="476.3" y="513.0" font-size="4.9" text-anchor="start" font-weight="bold" font-style="normal" fill="#111">Y537S</text>
<text x="476.3" y="516.2" font-size="4.9" text-anchor="start" font-weight="bold" font-style="normal" fill="#111">D538G*</text>
<text x="476.3" y="525.0" font-size="4.9" text-anchor="start" font-weight="bold" font-style="normal" fill="#111">D538G/Y537N</text>
<text x="476.3" y="528.0" font-size="4.9" text-anchor="start" font-weight="bold" font-style="normal" fill="#111">D538G</text>
<text x="476.3" y="538.7" font-size="4.9" text-anchor="start" font-weight="bold" font-style="normal" fill="#111">D538G#</text>
<text x="476.3" y="548.5" font-size="4.9" text-anchor="start" font-weight="bold" font-style="normal" fill="#111">D538G#</text>
<text x="415.8" y="530.5" font-size="5.9" text-anchor="middle" font-weight="normal" font-style="normal" fill="#111" transform="rotate(-90 415.8 530.5)">Post - pre (dif. Log2)</text>
<text x="450" y="489.6" font-size="8" text-anchor="middle" font-weight="bold" font-style="normal" fill="#111"><tspan font-style="italic">E2F</tspan> metagene</text>
<text x="405.8" y="638.8" font-size="12" text-anchor="start" font-weight="bold" font-style="normal" fill="#000">G</text>
<rect x="432.50" y="643.00" width="47.00" height="82.50" fill="#fff" stroke="#222" stroke-width="0.7"/>
<line x1="430.7" y1="652.2" x2="432.5" y2="652.2" stroke="#222" stroke-width="0.5"/>
<text x="429.9" y="654.1" font-size="5.9" text-anchor="end" font-weight="normal" font-style="normal" fill="#111">600</text>
<line x1="430.7" y1="664.75" x2="432.5" y2="664.75" stroke="#222" stroke-width="0.5"/>
<text x="429.9" y="666.65" font-size="5.9" text-anchor="end" font-weight="normal" font-style="normal" fill="#111">500</text>
<line x1="430.7" y1="677.3" x2="432.5" y2="677.3" stroke="#222" stroke-width="0.5"/>
<text x="429.9" y="679.1999999999999" font-size="5.9" text-anchor="end" font-weight="normal" font-style="normal" fill="#111">400</text>
<line x1="430.7" y1="689.85" x2="432.5" y2="689.85" stroke="#222" stroke-width="0.5"/>
<text x="429.9" y="691.75" font-size="5.9" text-anchor="end" font-weight="normal" font-style="normal" fill="#111">300</text>
<line x1="430.7" y1="702.4" x2="432.5" y2="702.4" stroke="#222" stroke-width="0.5"/>
<text x="429.9" y="704.3" font-size="5.9" text-anchor="end" font-weight="normal" font-style="normal" fill="#111">200</text>
<line x1="430.7" y1="714.95" x2="432.5" y2="714.95" stroke="#222" stroke-width="0.5"/>
<text x="429.9" y="716.85" font-size="5.9" text-anchor="end" font-weight="normal" font-style="normal" fill="#111">100</text>
<line x1="432.5" y1="703.3" x2="479.5" y2="703.3" stroke="#8c8c8c" stroke-width="0.5"/>
<line x1="432.5" y1="710.2" x2="479.5" y2="710.2" stroke="#8c8c8c" stroke-width="0.5"/>
<line x1="445.4" y1="692.5" x2="445.4" y2="703.3" stroke="#222" stroke-width="0.5" stroke-dasharray="1.2 0.8"/>
<line x1="445.4" y1="713" x2="445.4" y2="722.5" stroke="#222" stroke-width="0.5" stroke-dasharray="1.2 0.8"/>
<line x1="440.84999999999997" y1="692.5" x2="449.95" y2="692.5" stroke="#222" stroke-width="0.7"/>
<line x1="440.84999999999997" y1="722.5" x2="449.95" y2="722.5" stroke="#222" stroke-width="0.7"/>
<rect x="436.30" y="703.30" width="18.20" height="9.70" fill="none" stroke="#111" stroke-width="0.8"/>
<line x1="436.3" y1="707.5" x2="454.5" y2="707.5" stroke="#111" stroke-width="1.4"/>
<circle cx="445.47" cy="716.40" r="0.8" fill="#1b2f80"/>
<circle cx="445.33" cy="717.25" r="0.8" fill="#1b2f80"/>
<circle cx="445.40" cy="707.31" r="0.8" fill="#1b2f80"/>
<circle cx="445.49" cy="700.72" r="0.8" fill="#1b2f80"/>
<circle cx="445.30" cy="693.01" r="0.8" fill="#1b2f80"/>
<circle cx="445.26" cy="712.55" r="0.8" fill="#1b2f80"/>
<circle cx="445.29" cy="706.87" r="0.8" fill="#1b2f80"/>
<circle cx="445.43" cy="715.41" r="0.8" fill="#1b2f80"/>
<circle cx="445.36" cy="704.01" r="0.8" fill="#1b2f80"/>
<circle cx="445.33" cy="715.72" r="0.8" fill="#1b2f80"/>
<circle cx="445.39" cy="701.04" r="0.8" fill="#1b2f80"/>
<circle cx="445.53" cy="716.66" r="0.8" fill="#1b2f80"/>
<circle cx="445.33" cy="714.53" r="0.8" fill="#1b2f80"/>
<circle cx="445.37" cy="705.21" r="0.8" fill="#1b2f80"/>
<circle cx="445.51" cy="708.88" r="0.8" fill="#1b2f80"/>
<circle cx="445.43" cy="713.12" r="0.8" fill="#1b2f80"/>
<circle cx="445.33" cy="698.69" r="0.8" fill="#1b2f80"/>
<circle cx="445.39" cy="709.33" r="0.8" fill="#1b2f80"/>
<circle cx="445.39" cy="716.75" r="0.8" fill="#1b2f80"/>
<circle cx="445.29" cy="700.83" r="0.8" fill="#1b2f80"/>
<circle cx="445.36" cy="716.70" r="0.8" fill="#1b2f80"/>
<circle cx="445.34" cy="713.23" r="0.8" fill="#1b2f80"/>
<circle cx="445.49" cy="717.91" r="0.8" fill="#1b2f80"/>
<circle cx="445.35" cy="702.90" r="0.8" fill="#1b2f80"/>
<circle cx="445.45" cy="695.75" r="0.8" fill="#1b2f80"/>
<circle cx="445.54" cy="716.61" r="0.8" fill="#1b2f80"/>
<circle cx="445.53" cy="716.74" r="0.8" fill="#1b2f80"/>
<circle cx="445.36" cy="706.13" r="0.8" fill="#1b2f80"/>
<circle cx="445.43" cy="695.77" r="0.8" fill="#1b2f80"/>
<circle cx="445.35" cy="698.82" r="0.8" fill="#1b2f80"/>
<circle cx="445.37" cy="711.73" r="0.8" fill="#1b2f80"/>
<circle cx="445.40" cy="701.59" r="0.8" fill="#1b2f80"/>
<circle cx="445.49" cy="721.07" r="0.8" fill="#1b2f80"/>
<circle cx="445.53" cy="710.36" r="0.8" fill="#1b2f80"/>
<circle cx="445.34" cy="698.93" r="0.8" fill="#1b2f80"/>
<circle cx="445.25" cy="712.33" r="0.8" fill="#1b2f80"/>
<circle cx="445.38" cy="703.63" r="0.8" fill="#1b2f80"/>
<circle cx="445.27" cy="720.52" r="0.8" fill="#1b2f80"/>
<circle cx="445.26" cy="719.83" r="0.8" fill="#1b2f80"/>
<circle cx="445.48" cy="708.18" r="0.8" fill="#1b2f80"/>
<circle cx="445.28" cy="712.01" r="0.8" fill="#1b2f80"/>
<circle cx="445.47" cy="713.59" r="0.8" fill="#1b2f80"/>
<circle cx="445.36" cy="716.76" r="0.8" fill="#1b2f80"/>
<circle cx="445.53" cy="721.80" r="0.8" fill="#1b2f80"/>
<circle cx="445.51" cy="693.84" r="0.8" fill="#1b2f80"/>
<circle cx="445.27" cy="703.66" r="0.8" fill="#1b2f80"/>
<circle cx="445.31" cy="710.75" r="0.8" fill="#1b2f80"/>
<circle cx="445.53" cy="701.98" r="0.8" fill="#1b2f80"/>
<circle cx="445.43" cy="710.38" r="0.8" fill="#1b2f80"/>
<circle cx="445.38" cy="695.65" r="0.8" fill="#1b2f80"/>
<circle cx="445.48" cy="718.96" r="0.8" fill="#1b2f80"/>
<circle cx="445.49" cy="708.50" r="0.8" fill="#1b2f80"/>
<circle cx="445.40" cy="696.45" r="0.8" fill="#1b2f80"/>
<circle cx="445.39" cy="712.55" r="0.8" fill="#1b2f80"/>
<circle cx="445.28" cy="702.21" r="0.8" fill="#1b2f80"/>
<circle cx="445.36" cy="698.79" r="0.8" fill="#1b2f80"/>
<circle cx="445.29" cy="707.27" r="0.8" fill="#1b2f80"/>
<circle cx="445.44" cy="697.07" r="0.8" fill="#1b2f80"/>
<circle cx="445.43" cy="699.19" r="0.8" fill="#1b2f80"/>
<circle cx="445.29" cy="718.53" r="0.8" fill="#1b2f80"/>
<circle cx="445.44" cy="713.60" r="0.8" fill="#1b2f80"/>
<circle cx="445.28" cy="693.37" r="0.8" fill="#1b2f80"/>
<circle cx="445.28" cy="715.95" r="0.8" fill="#1b2f80"/>
<circle cx="445.44" cy="693.50" r="0.8" fill="#1b2f80"/>
<circle cx="445.39" cy="702.82" r="0.8" fill="#1b2f80"/>
<circle cx="445.52" cy="719.68" r="0.8" fill="#1b2f80"/>
<circle cx="445.44" cy="711.30" r="0.8" fill="#1b2f80"/>
<circle cx="445.46" cy="702.03" r="0.8" fill="#1b2f80"/>
<circle cx="445.29" cy="704.13" r="0.8" fill="#1b2f80"/>
<circle cx="445.50" cy="704.48" r="0.8" fill="#1b2f80"/>
<circle cx="445.28" cy="696.74" r="0.8" fill="#1b2f80"/>
<circle cx="445.44" cy="722.50" r="0.8" fill="#1b2f80"/>
<circle cx="445.52" cy="694.59" r="0.8" fill="#1b2f80"/>
<circle cx="445.52" cy="705.48" r="0.8" fill="#1b2f80"/>
<circle cx="445.52" cy="715.02" r="0.8" fill="#1b2f80"/>
<circle cx="445.39" cy="704.73" r="0.8" fill="#1b2f80"/>
<circle cx="445.46" cy="721.94" r="0.8" fill="#1b2f80"/>
<circle cx="445.49" cy="700.24" r="0.8" fill="#1b2f80"/>
<circle cx="445.29" cy="721.89" r="0.8" fill="#1b2f80"/>
<circle cx="445.53" cy="719.32" r="0.8" fill="#1b2f80"/>
<circle cx="445.52" cy="712.77" r="0.8" fill="#1b2f80"/>
<circle cx="445.38" cy="719.24" r="0.8" fill="#1b2f80"/>
<circle cx="445.48" cy="706.19" r="0.8" fill="#1b2f80"/>
<circle cx="445.38" cy="717.52" r="0.8" fill="#1b2f80"/>
<circle cx="445.33" cy="716.48" r="0.8" fill="#1b2f80"/>
<circle cx="445.46" cy="708.24" r="0.8" fill="#1b2f80"/>
<circle cx="445.27" cy="706.89" r="0.8" fill="#1b2f80"/>
<circle cx="445.49" cy="713.82" r="0.8" fill="#1b2f80"/>
<circle cx="445.54" cy="705.07" r="0.8" fill="#1b2f80"/>
<circle cx="445.34" cy="695.53" r="0.8" fill="#1b2f80"/>
<circle cx="445.40" cy="675.80" r="0.95" fill="#1b2f80"/>
<circle cx="445.40" cy="678.00" r="0.95" fill="#1b2f80"/>
<circle cx="445.40" cy="681.00" r="0.95" fill="#1b2f80"/>
<circle cx="445.40" cy="684.00" r="0.95" fill="#1b2f80"/>
<circle cx="445.40" cy="687.00" r="0.95" fill="#1b2f80"/>
<circle cx="445.40" cy="689.50" r="0.95" fill="#1b2f80"/>
<line x1="466.9" y1="645.8" x2="466.9" y2="654.5" stroke="#d9232d" stroke-width="0.5" stroke-dasharray="1 0.8"/>
<line x1="466.9" y1="701.3" x2="466.9" y2="710.5" stroke="#d9232d" stroke-width="0.5" stroke-dasharray="1 0.8"/>
<line x1="462.45" y1="645.8" x2="471.34999999999997" y2="645.8" stroke="#8e1b1f" stroke-width="0.7"/>
<line x1="462.45" y1="710.5" x2="471.34999999999997" y2="710.5" stroke="#8e1b1f" stroke-width="0.7"/>
<rect x="458.00" y="654.50" width="17.80" height="46.80" fill="none" stroke="#111" stroke-width="0.8"/>
<line x1="458" y1="693.3" x2="475.8" y2="693.3" stroke="#111" stroke-width="1.4"/>
<circle cx="466.90" cy="645.80" r="1.05" fill="#d9232d"/>
<circle cx="466.90" cy="654.50" r="1.05" fill="#d9232d"/>
<circle cx="466.90" cy="688.80" r="1.05" fill="#d9232d"/>
<circle cx="466.90" cy="697.50" r="1.05" fill="#d9232d"/>
<circle cx="466.90" cy="701.30" r="1.05" fill="#d9232d"/>
<circle cx="466.90" cy="710.50" r="1.05" fill="#d9232d"/>
<line x1="445.4" y1="725.5" x2="445.4" y2="727.3" stroke="#222" stroke-width="0.5"/>
<line x1="466.9" y1="725.5" x2="466.9" y2="727.3" stroke="#222" stroke-width="0.5"/>
<text x="445.4" y="732" font-size="5.9" text-anchor="middle" font-weight="normal" font-style="normal" fill="#111">Wt</text>
<text x="466.9" y="732" font-size="5.9" text-anchor="middle" font-weight="normal" font-style="normal" fill="#111">Mut</text>
<text x="448.5" y="652.2" font-size="6.0" text-anchor="start" font-weight="normal" font-style="normal" fill="#333"><tspan font-style="italic">P</tspan> = 0.051</text>
<text x="482" y="649.2" font-size="4.9" text-anchor="start" font-weight="bold" font-style="normal" fill="#111">Y537S</text>
<text x="482" y="658.0" font-size="4.9" text-anchor="start" font-weight="bold" font-style="normal" fill="#111">D538G</text>
<text x="482" y="691.7" font-size="4.9" text-anchor="start" font-weight="bold" font-style="normal" fill="#111">D538G#</text>
<text x="482" y="700.3000000000001" font-size="4.9" text-anchor="start" font-weight="bold" font-style="normal" fill="#111">D538G/Y537N</text>
<text x="482" y="703.3000000000001" font-size="4.9" text-anchor="start" font-weight="bold" font-style="normal" fill="#111">D538G#</text>
<text x="482" y="713.0" font-size="4.9" text-anchor="start" font-weight="bold" font-style="normal" fill="#111">D538G*</text>
<text x="419" y="682" font-size="5.9" text-anchor="middle" font-weight="normal" font-style="normal" fill="#111" transform="rotate(-90 419 682)">AI duration (days)</text>
<text x="458.2" y="640.6" font-size="8" text-anchor="middle" font-weight="bold" font-style="normal" fill="#111"><tspan font-style="italic" font-size="7.6">ESR1 mutation</tspan></text>
<circle cx="446" cy="650.6" r="0.7" fill="#222"/>
</g>
</svg>
</body></html>
